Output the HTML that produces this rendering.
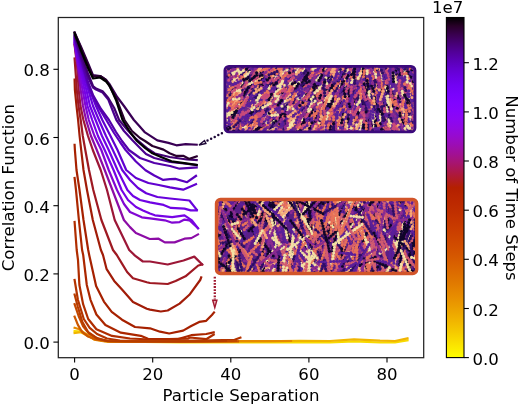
<!DOCTYPE html>
<html><head><meta charset="utf-8"><title>Correlation Function</title>
<style>html,body{margin:0;padding:0;background:#fff;width:520px;height:406px;overflow:hidden}svg{display:block}</style>
</head><body>
<svg width="520" height="406" viewBox="0 0 520 406">
<defs><linearGradient id="cb" x1="0" y1="1" x2="0" y2="0">
<stop offset="0.000" stop-color="#ffff00"/>
<stop offset="0.025" stop-color="#fcec00"/>
<stop offset="0.050" stop-color="#f9db00"/>
<stop offset="0.075" stop-color="#f5ca00"/>
<stop offset="0.100" stop-color="#f2ba00"/>
<stop offset="0.125" stop-color="#efab00"/>
<stop offset="0.150" stop-color="#eb9d00"/>
<stop offset="0.175" stop-color="#e88f00"/>
<stop offset="0.200" stop-color="#e48300"/>
<stop offset="0.225" stop-color="#e07700"/>
<stop offset="0.250" stop-color="#dd6c00"/>
<stop offset="0.275" stop-color="#d96100"/>
<stop offset="0.300" stop-color="#d55700"/>
<stop offset="0.325" stop-color="#d24e00"/>
<stop offset="0.350" stop-color="#ce4600"/>
<stop offset="0.375" stop-color="#ca3e00"/>
<stop offset="0.400" stop-color="#c63700"/>
<stop offset="0.425" stop-color="#c13000"/>
<stop offset="0.450" stop-color="#bd2a00"/>
<stop offset="0.475" stop-color="#b92500"/>
<stop offset="0.500" stop-color="#b42000"/>
<stop offset="0.525" stop-color="#b01b28"/>
<stop offset="0.550" stop-color="#ab174f"/>
<stop offset="0.575" stop-color="#a61474"/>
<stop offset="0.600" stop-color="#a11096"/>
<stop offset="0.625" stop-color="#9c0db4"/>
<stop offset="0.650" stop-color="#970bce"/>
<stop offset="0.675" stop-color="#9109e3"/>
<stop offset="0.700" stop-color="#8c07f3"/>
<stop offset="0.725" stop-color="#8605fc"/>
<stop offset="0.750" stop-color="#8004ff"/>
<stop offset="0.775" stop-color="#7903fc"/>
<stop offset="0.800" stop-color="#7202f3"/>
<stop offset="0.825" stop-color="#6b01e3"/>
<stop offset="0.850" stop-color="#6301ce"/>
<stop offset="0.875" stop-color="#5a00b4"/>
<stop offset="0.900" stop-color="#510096"/>
<stop offset="0.925" stop-color="#460074"/>
<stop offset="0.950" stop-color="#39004f"/>
<stop offset="0.975" stop-color="#280028"/>
<stop offset="1.000" stop-color="#000000"/>
</linearGradient></defs>
<rect width="520" height="406" fill="#fff"/>
<g fill="none" stroke-width="2.2" stroke-linejoin="round" stroke-linecap="square">
<polyline points="74.6,331.0 81.0,331.5 87.0,334.5 95.0,339.0 108.0,341.3 180.0,342.3 260.0,342.5 300.0,342.3 330.0,342.5 354.0,341.3 380.0,342.5 395.0,342.3 407.5,340.3" stroke="#f8da00"/>
<polyline points="74.6,333.0 80.9,332.2 86.8,335.2 95.0,339.5 108.0,341.6 180.0,341.8 260.0,341.3 300.0,340.9 330.0,341.0 354.0,339.3 380.0,340.7 395.0,341.0 407.5,338.3" stroke="#f1b500"/>
<polyline points="74.6,327.8 79.4,329.3 85.3,333.7 94.1,339.6 105.0,341.5 180.0,341.8 240.0,341.2 270.0,341.2 291.0,341.0" stroke="#e68900"/>
<polyline points="74.6,178.0 76.0,190.0 78.9,220.0 82.1,250.0 83.2,255.0 86.8,285.0 90.5,299.8 96.4,314.5 105.4,325.0 120.8,332.7 140.8,335.8 148.0,338.8 160.0,339.2 177.3,339.2 191.2,335.2 206.2,334.0 213.7,332.3" stroke="#ab2700"/>
<polyline points="74.6,222.0 76.7,250.0 78.0,260.0 79.4,285.0 83.1,304.2 88.2,319.0 96.4,329.3 112.0,335.9 130.0,338.5 150.0,339.5 187.7,338.7 190.0,337.5 206.2,339.2 213.7,334.6" stroke="#af2d00"/>
<polyline points="74.6,280.0 77.9,299.8 83.8,319.0 89.7,327.8 97.0,334.0 107.0,338.5 120.0,340.5 160.0,341.0 200.0,340.5 234.6,339.8 240.4,337.6" stroke="#b33400"/>
<polyline points="74.6,316.7 77.9,324.9 82.3,332.2 88.0,336.5 96.0,339.5 110.0,341.3 180.0,341.6 238.0,341.4" stroke="#cc5700"/>
<polyline points="74.6,304.2 78.6,316.0 83.1,326.3 89.0,333.5 97.0,338.5 108.0,341.0 150.0,341.5 200.0,341.4 236.0,341.0" stroke="#c24800"/>
<polyline points="74.6,294.6 77.9,307.0 82.3,321.9 88.2,332.2 97.1,338.1 107.4,341.1 130.0,341.5 180.0,341.3 214.0,341.0 226.0,340.6" stroke="#b73c00"/>
<polyline points="74.6,144.8 74.9,150.0 76.5,170.0 79.5,190.0 83.5,220.0 88.2,250.0 89.2,255.0 96.1,286.0 103.9,301.6 111.7,311.9 122.0,319.7 135.0,327.0 150.0,328.3 160.0,331.7 169.2,333.5 183.1,330.6 191.2,326.0 199.2,321.9 206.2,320.8 211.9,315.0 214.0,312.5" stroke="#a62100"/>
<polyline points="74.6,79.6 74.9,90.0 76.5,106.0 78.1,120.0 79.6,136.0 81.2,150.0 83.5,170.0 87.0,190.0 92.8,220.0 100.9,250.0 103.0,255.0 106.5,268.8 114.2,280.9 122.0,289.5 133.0,302.0 146.8,308.8 150.0,309.6 160.8,311.5 167.7,310.5 179.6,303.6 189.4,294.8 200.2,280.0 201.2,277.3" stroke="#a11c08"/>
<polyline points="74.6,58.5 75.8,75.0 76.8,90.0 78.5,106.0 80.7,120.0 82.8,136.0 85.3,150.0 89.0,170.0 93.3,190.0 101.4,220.0 113.0,250.0 116.8,255.0 122.0,263.6 127.1,272.0 133.0,278.3 146.8,282.2 150.0,283.0 167.7,284.0 175.6,281.0 185.5,276.3 198.3,265.5 202.2,264.5" stroke="#9e1922"/>
<polyline points="74.6,45.0 77.0,65.0 78.7,90.0 80.5,106.0 83.4,120.0 88.0,136.0 92.8,150.0 100.7,170.0 107.0,190.0 114.7,220.0 129.2,250.0 135.0,255.6 142.9,261.5 150.0,261.5 167.7,264.5 183.5,260.5 194.3,256.6 202.2,264.5" stroke="#9c1737"/>
<polyline points="74.6,44.0 77.5,65.0 80.7,90.0 83.0,106.0 86.1,120.0 91.0,136.0 96.8,150.0 104.7,170.0 112.4,190.0 123.9,220.0 130.0,227.1 135.9,233.0 149.7,239.0 158.6,238.7 164.8,242.4 174.6,242.4 184.5,238.7 191.3,238.1 198.0,234.4" stroke="#8c0ca6"/>
<polyline points="74.6,43.0 78.0,65.0 82.6,90.0 85.5,106.0 88.8,120.0 94.5,136.0 101.3,150.0 108.7,170.0 117.0,190.0 124.0,204.0 130.0,212.0 141.8,217.3 150.0,218.4 164.8,220.3 172.2,222.7 179.6,222.1 184.5,219.6 189.4,220.3 198.0,228.3" stroke="#8107d3"/>
<polyline points="74.6,42.0 79.0,65.0 84.5,90.0 87.5,106.0 92.2,120.0 98.0,136.0 104.7,150.0 113.5,170.0 121.6,190.0 128.0,200.0 136.0,207.0 143.0,210.5 150.0,213.5 154.9,215.3 172.2,217.2 184.5,215.3 191.9,220.3 198.0,228.3" stroke="#7604e5"/>
<polyline points="74.6,41.0 79.5,64.0 86.4,90.0 90.0,106.0 95.6,120.0 102.0,136.0 108.7,150.0 117.5,170.0 127.4,190.0 133.0,196.0 140.0,200.0 150.0,202.4 163.6,204.9 170.9,207.9 184.5,208.6 190.7,210.4 196.8,210.4" stroke="#6f03e4"/>
<polyline points="74.6,40.0 80.0,63.0 88.3,90.0 93.0,106.0 98.9,120.0 106.0,136.0 112.8,150.0 122.2,170.0 130.0,180.0 138.0,188.0 146.2,193.2 157.4,197.0 170.0,198.5 189.4,200.5 196.8,209.8" stroke="#6802dc"/>
<polyline points="74.6,39.0 81.0,63.0 89.8,90.0 96.0,106.0 102.3,120.0 110.0,135.0 117.5,150.0 126.2,170.0 135.9,178.0 148.4,183.0 158.8,185.0 170.0,187.3 183.2,189.7 196.0,184.2" stroke="#6101d0"/>
<polyline points="74.6,38.0 82.0,64.0 87.5,83.0 92.0,94.0 99.0,108.0 106.3,120.0 114.0,133.0 120.0,142.0 125.6,150.0 135.9,161.5 145.5,170.3 154.3,175.5 163.2,179.9 170.0,179.2 175.3,178.9 187.1,182.2 196.0,175.9" stroke="#5a01be"/>
<polyline points="74.6,37.0 82.0,62.0 88.0,82.0 93.0,95.0 101.0,109.0 109.0,120.0 116.0,132.0 122.0,141.0 128.9,150.0 140.0,158.0 154.3,163.0 170.0,166.0 179.5,168.7 196.7,167.5" stroke="#5401aa"/>
<polyline points="74.6,36.0 81.0,57.0 88.0,77.0 93.0,87.5 96.0,89.5 102.6,92.5 108.3,99.5 116.4,120.0 124.0,131.0 132.2,140.0 140.0,148.0 146.0,154.0 154.3,158.0 170.0,162.0 184.0,163.5 196.7,165.0" stroke="#4b0090"/>
<polyline points="74.6,35.0 81.0,53.0 88.0,73.5 93.0,86.0 96.0,88.5 102.6,91.3 108.3,98.0 114.2,108.0 119.1,120.0 127.5,130.0 135.0,138.0 142.0,144.0 148.0,149.0 154.9,153.5 169.6,157.0 186.9,159.5 196.7,160.1" stroke="#420072"/>
<polyline points="74.6,32.6 81.0,46.8 88.7,64.8 93.0,75.2 100.2,76.0 106.1,80.0 109.8,84.5 117.2,97.0 124.0,106.0 133.9,120.0 139.3,126.0 145.0,132.4 157.3,140.4 168.4,142.9 176.4,145.3 185.7,144.1 196.7,144.7" stroke="#390055"/>
<polyline points="74.6,32.4 81.0,48.0 88.7,66.5 93.0,76.5 100.2,76.0 106.1,80.0 110.5,88.0 116.5,99.0 124.5,120.0 132.0,131.0 140.0,138.0 145.0,141.0 152.4,146.0 163.5,149.6 169.6,153.3 175.8,155.8 183.2,155.8 189.4,158.9 196.7,156.4" stroke="#29002e"/>
<polyline points="74.6,33.5 81.0,50.5 88.7,69.5 93.0,78.5 100.2,77.5 106.1,81.5 109.8,86.0 116.0,100.0 122.5,120.0 130.0,132.0 137.0,141.0 145.0,147.8 152.4,153.3 161.0,157.0 171.5,161.3 184.4,163.2 196.7,165.0" stroke="#000000"/>
</g>
<g stroke-width="3" stroke-linecap="round">
<clipPath id="clip1"><rect x="224.9" y="66.3" width="190.1" height="65.6" rx="4"/></clipPath>
<g clip-path="url(#clip1)" stroke-dasharray="0 2.90" stroke-width="3.13">
<rect x="223.5" y="64.9" width="192.9" height="68.4" fill="#6a2a8a"/>
<line x1="244.5" y1="127.8" x2="248.5" y2="123.5" stroke="#e8705a"/>
<line x1="313.7" y1="91.2" x2="315.1" y2="88.6" stroke="#10062a"/>
<line x1="224.8" y1="126.1" x2="225.6" y2="123.4" stroke="#e8705a"/>
<line x1="269.5" y1="124.8" x2="276.5" y2="119.5" stroke="#f2e0a4"/>
<line x1="400.1" y1="66.1" x2="401.1" y2="60.4" stroke="#e8705a"/>
<line x1="414.7" y1="120.7" x2="413.7" y2="112.0" stroke="#5a1e9a"/>
<line x1="306.5" y1="99.8" x2="308.5" y2="97.7" stroke="#e8705a"/>
<line x1="410.7" y1="134.6" x2="410.9" y2="128.8" stroke="#f6a878"/>
<line x1="329.5" y1="112.3" x2="333.1" y2="107.7" stroke="#2e0e66"/>
<line x1="282.0" y1="116.2" x2="290.7" y2="115.9" stroke="#c84a7a"/>
<line x1="413.9" y1="102.6" x2="413.8" y2="96.8" stroke="#c84a7a"/>
<line x1="398.0" y1="129.7" x2="395.6" y2="121.4" stroke="#8a2a90"/>
<line x1="391.7" y1="101.9" x2="390.1" y2="93.3" stroke="#2e0e66"/>
<line x1="329.6" y1="119.0" x2="329.9" y2="110.3" stroke="#e8705a"/>
<line x1="234.7" y1="113.5" x2="239.1" y2="109.7" stroke="#5a1e9a"/>
<line x1="366.9" y1="99.6" x2="366.5" y2="93.9" stroke="#e8705a"/>
<line x1="418.3" y1="110.4" x2="415.7" y2="102.1" stroke="#5a1e9a"/>
<line x1="218.7" y1="79.1" x2="225.2" y2="73.2" stroke="#5a1e9a"/>
<line x1="322.6" y1="136.6" x2="322.8" y2="130.8" stroke="#e8705a"/>
<line x1="341.3" y1="119.5" x2="342.3" y2="113.8" stroke="#e8705a"/>
<line x1="385.2" y1="132.9" x2="383.5" y2="124.3" stroke="#e8705a"/>
<line x1="260.1" y1="136.3" x2="261.4" y2="130.6" stroke="#f2e0a4"/>
<line x1="334.0" y1="79.1" x2="334.0" y2="73.3" stroke="#8a2a90"/>
<line x1="216.9" y1="105.4" x2="222.7" y2="98.9" stroke="#5a1e9a"/>
<line x1="339.9" y1="123.8" x2="340.1" y2="120.9" stroke="#f6a878"/>
<line x1="381.1" y1="124.4" x2="378.7" y2="119.2" stroke="#10062a"/>
<line x1="409.0" y1="69.2" x2="409.2" y2="63.4" stroke="#5a1e9a"/>
<line x1="240.1" y1="111.2" x2="242.9" y2="106.1" stroke="#5a1e9a"/>
<line x1="249.2" y1="82.3" x2="257.1" y2="78.5" stroke="#e8705a"/>
<line x1="309.2" y1="87.9" x2="312.5" y2="83.1" stroke="#10062a"/>
<line x1="280.1" y1="89.2" x2="284.3" y2="85.1" stroke="#f2e0a4"/>
<line x1="321.5" y1="81.2" x2="322.4" y2="72.5" stroke="#8a2a90"/>
<line x1="415.8" y1="79.5" x2="415.2" y2="76.7" stroke="#8a2a90"/>
<line x1="320.7" y1="94.9" x2="321.7" y2="92.1" stroke="#f2e0a4"/>
<line x1="346.2" y1="115.5" x2="346.2" y2="112.6" stroke="#8a2a90"/>
<line x1="333.4" y1="89.4" x2="337.0" y2="81.5" stroke="#8a2a90"/>
<line x1="367.9" y1="71.9" x2="367.4" y2="69.1" stroke="#f6a878"/>
<line x1="278.7" y1="135.6" x2="285.0" y2="129.7" stroke="#2e0e66"/>
<line x1="333.8" y1="75.1" x2="332.2" y2="66.6" stroke="#f6a878"/>
<line x1="413.3" y1="105.8" x2="412.3" y2="103.1" stroke="#f6a878"/>
<line x1="394.6" y1="121.9" x2="393.9" y2="119.1" stroke="#5a1e9a"/>
<line x1="259.0" y1="114.7" x2="262.7" y2="110.1" stroke="#c84a7a"/>
<line x1="317.7" y1="133.8" x2="319.1" y2="131.3" stroke="#5a1e9a"/>
<line x1="394.6" y1="131.1" x2="394.7" y2="128.2" stroke="#2e0e66"/>
<line x1="392.7" y1="125.6" x2="390.9" y2="120.1" stroke="#5a1e9a"/>
<line x1="353.9" y1="129.1" x2="356.1" y2="120.7" stroke="#5a1e9a"/>
<line x1="398.0" y1="114.2" x2="395.6" y2="112.6" stroke="#10062a"/>
<line x1="226.6" y1="72.1" x2="228.7" y2="70.1" stroke="#f2e0a4"/>
<line x1="261.4" y1="121.7" x2="263.1" y2="116.1" stroke="#5a1e9a"/>
<line x1="240.6" y1="82.8" x2="244.1" y2="74.9" stroke="#e8705a"/>
<line x1="364.8" y1="100.6" x2="361.5" y2="95.8" stroke="#10062a"/>
<line x1="233.5" y1="128.3" x2="234.9" y2="125.8" stroke="#f6a878"/>
<line x1="284.9" y1="111.0" x2="291.1" y2="104.8" stroke="#c84a7a"/>
<line x1="333.1" y1="136.5" x2="333.3" y2="130.8" stroke="#f2e0a4"/>
<line x1="332.8" y1="133.0" x2="333.0" y2="130.1" stroke="#f6a878"/>
<line x1="221.0" y1="113.1" x2="223.0" y2="111.1" stroke="#8a2a90"/>
<line x1="385.4" y1="125.6" x2="385.5" y2="116.9" stroke="#8a2a90"/>
<line x1="241.4" y1="74.2" x2="244.1" y2="73.1" stroke="#2e0e66"/>
<line x1="387.9" y1="98.3" x2="390.6" y2="90.0" stroke="#f2e0a4"/>
<line x1="276.9" y1="82.6" x2="280.3" y2="77.9" stroke="#5a1e9a"/>
<line x1="258.5" y1="86.2" x2="263.9" y2="84.1" stroke="#e8705a"/>
<line x1="281.7" y1="92.8" x2="286.0" y2="88.8" stroke="#10062a"/>
<line x1="403.1" y1="136.4" x2="402.9" y2="133.5" stroke="#e8705a"/>
<line x1="376.6" y1="133.3" x2="374.9" y2="124.7" stroke="#8a2a90"/>
<line x1="288.9" y1="77.0" x2="293.0" y2="72.8" stroke="#10062a"/>
<line x1="273.6" y1="137.8" x2="278.2" y2="134.3" stroke="#10062a"/>
<line x1="334.3" y1="88.1" x2="335.5" y2="85.5" stroke="#5a1e9a"/>
<line x1="280.3" y1="126.0" x2="286.0" y2="125.3" stroke="#5a1e9a"/>
<line x1="238.8" y1="108.6" x2="240.8" y2="106.6" stroke="#10062a"/>
<line x1="265.9" y1="70.0" x2="271.0" y2="62.9" stroke="#f6a878"/>
<line x1="365.2" y1="65.3" x2="366.8" y2="59.8" stroke="#c84a7a"/>
<line x1="393.4" y1="77.0" x2="392.2" y2="68.4" stroke="#e8705a"/>
<line x1="284.5" y1="101.0" x2="286.3" y2="98.6" stroke="#f2e0a4"/>
<line x1="385.0" y1="86.7" x2="384.1" y2="84.0" stroke="#e8705a"/>
<line x1="387.4" y1="111.2" x2="387.0" y2="102.5" stroke="#f2e0a4"/>
<line x1="222.6" y1="87.9" x2="229.2" y2="82.2" stroke="#f6a878"/>
<line x1="402.0" y1="126.6" x2="401.5" y2="123.7" stroke="#5a1e9a"/>
<line x1="328.0" y1="68.9" x2="327.0" y2="60.3" stroke="#5a1e9a"/>
<line x1="377.0" y1="115.6" x2="374.5" y2="110.4" stroke="#c84a7a"/>
<line x1="390.7" y1="98.4" x2="390.3" y2="92.6" stroke="#f6a878"/>
<line x1="250.5" y1="100.7" x2="257.4" y2="95.3" stroke="#10062a"/>
<line x1="359.8" y1="109.4" x2="357.1" y2="101.1" stroke="#2e0e66"/>
<line x1="269.4" y1="128.0" x2="273.7" y2="120.4" stroke="#10062a"/>
<line x1="314.9" y1="76.3" x2="319.4" y2="72.7" stroke="#c84a7a"/>
<line x1="349.7" y1="95.8" x2="350.1" y2="93.0" stroke="#5a1e9a"/>
<line x1="358.0" y1="138.3" x2="357.1" y2="129.7" stroke="#8a2a90"/>
<line x1="330.0" y1="134.0" x2="334.2" y2="126.4" stroke="#5a1e9a"/>
<line x1="405.9" y1="123.4" x2="403.4" y2="115.0" stroke="#f2e0a4"/>
<line x1="248.1" y1="122.1" x2="255.0" y2="116.8" stroke="#5a1e9a"/>
<line x1="329.8" y1="77.8" x2="331.1" y2="69.2" stroke="#e8705a"/>
<line x1="335.6" y1="129.1" x2="342.3" y2="123.5" stroke="#5a1e9a"/>
<line x1="249.5" y1="97.7" x2="252.1" y2="89.4" stroke="#e8705a"/>
<line x1="378.0" y1="101.3" x2="375.3" y2="96.2" stroke="#c84a7a"/>
<line x1="251.4" y1="117.5" x2="253.8" y2="115.9" stroke="#c84a7a"/>
<line x1="236.4" y1="81.1" x2="239.0" y2="79.7" stroke="#f2e0a4"/>
<line x1="243.8" y1="122.5" x2="251.1" y2="117.8" stroke="#e8705a"/>
<line x1="234.0" y1="128.0" x2="238.0" y2="123.8" stroke="#8a2a90"/>
<line x1="400.8" y1="98.4" x2="403.9" y2="90.3" stroke="#f2e0a4"/>
<line x1="412.8" y1="71.3" x2="411.7" y2="68.7" stroke="#e8705a"/>
<line x1="273.0" y1="93.5" x2="277.6" y2="86.2" stroke="#10062a"/>
<line x1="253.7" y1="96.3" x2="261.6" y2="92.5" stroke="#5a1e9a"/>
<line x1="270.8" y1="75.1" x2="272.8" y2="73.1" stroke="#c84a7a"/>
<line x1="273.4" y1="106.7" x2="275.4" y2="104.6" stroke="#c84a7a"/>
<line x1="316.8" y1="126.9" x2="319.4" y2="125.7" stroke="#c84a7a"/>
<line x1="295.2" y1="83.2" x2="297.8" y2="82.0" stroke="#c84a7a"/>
<line x1="218.4" y1="85.7" x2="225.9" y2="81.4" stroke="#e8705a"/>
<line x1="416.6" y1="73.8" x2="413.6" y2="68.8" stroke="#8a2a90"/>
<line x1="354.7" y1="121.6" x2="356.5" y2="116.1" stroke="#10062a"/>
<line x1="305.8" y1="98.7" x2="311.0" y2="91.8" stroke="#e8705a"/>
<line x1="316.0" y1="112.0" x2="320.8" y2="108.8" stroke="#5a1e9a"/>
<line x1="331.3" y1="141.3" x2="331.5" y2="132.6" stroke="#f6a878"/>
<line x1="322.2" y1="139.2" x2="322.1" y2="133.4" stroke="#c84a7a"/>
<line x1="322.8" y1="136.8" x2="323.9" y2="128.2" stroke="#2e0e66"/>
<line x1="345.4" y1="104.0" x2="342.7" y2="98.9" stroke="#c84a7a"/>
<line x1="353.5" y1="108.8" x2="358.1" y2="101.5" stroke="#c84a7a"/>
<line x1="367.9" y1="133.7" x2="366.0" y2="125.3" stroke="#10062a"/>
<line x1="417.8" y1="81.3" x2="418.0" y2="78.4" stroke="#8a2a90"/>
<line x1="345.2" y1="112.1" x2="346.7" y2="106.5" stroke="#e8705a"/>
<line x1="389.6" y1="122.4" x2="389.4" y2="116.6" stroke="#f2e0a4"/>
<line x1="382.1" y1="96.1" x2="377.7" y2="88.5" stroke="#c84a7a"/>
<line x1="249.5" y1="125.9" x2="250.6" y2="123.2" stroke="#5a1e9a"/>
<line x1="238.3" y1="107.1" x2="240.3" y2="105.0" stroke="#5a1e9a"/>
<line x1="353.0" y1="66.5" x2="349.9" y2="58.3" stroke="#10062a"/>
<line x1="346.5" y1="84.8" x2="348.1" y2="79.2" stroke="#5a1e9a"/>
<line x1="258.4" y1="131.9" x2="264.1" y2="125.3" stroke="#e8705a"/>
<line x1="312.4" y1="104.5" x2="314.6" y2="102.5" stroke="#2e0e66"/>
<line x1="349.0" y1="119.4" x2="352.4" y2="111.4" stroke="#e8705a"/>
<line x1="296.9" y1="93.9" x2="299.8" y2="88.9" stroke="#e8705a"/>
<line x1="393.8" y1="90.4" x2="393.4" y2="81.7" stroke="#5a1e9a"/>
<line x1="348.5" y1="128.2" x2="356.0" y2="123.7" stroke="#8a2a90"/>
<line x1="406.2" y1="133.6" x2="405.7" y2="130.8" stroke="#c84a7a"/>
<line x1="250.4" y1="136.9" x2="255.1" y2="133.6" stroke="#c84a7a"/>
<line x1="406.8" y1="73.7" x2="407.1" y2="70.8" stroke="#2e0e66"/>
<line x1="245.5" y1="117.9" x2="249.0" y2="113.2" stroke="#5a1e9a"/>
<line x1="298.9" y1="70.7" x2="301.1" y2="68.8" stroke="#10062a"/>
<line x1="297.9" y1="99.1" x2="300.6" y2="97.9" stroke="#f2e0a4"/>
<line x1="224.5" y1="124.3" x2="232.6" y2="121.1" stroke="#10062a"/>
<line x1="359.3" y1="127.2" x2="362.5" y2="119.1" stroke="#8a2a90"/>
<line x1="352.4" y1="83.3" x2="352.9" y2="80.5" stroke="#8a2a90"/>
<line x1="318.1" y1="91.0" x2="319.8" y2="88.6" stroke="#f2e0a4"/>
<line x1="265.6" y1="85.2" x2="268.2" y2="80.0" stroke="#e8705a"/>
<line x1="284.9" y1="107.4" x2="286.7" y2="105.1" stroke="#f2e0a4"/>
<line x1="226.5" y1="123.7" x2="231.0" y2="120.0" stroke="#f6a878"/>
<line x1="276.5" y1="77.1" x2="277.9" y2="74.6" stroke="#f2e0a4"/>
<line x1="372.1" y1="74.0" x2="371.7" y2="71.1" stroke="#f2e0a4"/>
<line x1="327.7" y1="106.8" x2="329.3" y2="101.3" stroke="#2e0e66"/>
<line x1="311.5" y1="126.1" x2="313.5" y2="124.1" stroke="#c84a7a"/>
<line x1="244.5" y1="133.3" x2="246.3" y2="131.1" stroke="#8a2a90"/>
<line x1="256.6" y1="100.0" x2="258.8" y2="98.2" stroke="#e8705a"/>
<line x1="295.5" y1="110.9" x2="300.1" y2="107.3" stroke="#e8705a"/>
<line x1="265.8" y1="66.9" x2="270.9" y2="64.1" stroke="#8a2a90"/>
<line x1="359.5" y1="111.1" x2="360.0" y2="108.2" stroke="#f2e0a4"/>
<line x1="328.4" y1="106.2" x2="330.4" y2="97.8" stroke="#10062a"/>
<line x1="272.6" y1="108.9" x2="273.7" y2="106.2" stroke="#5a1e9a"/>
<line x1="415.2" y1="73.8" x2="416.1" y2="71.1" stroke="#10062a"/>
<line x1="236.5" y1="125.6" x2="239.1" y2="120.4" stroke="#c84a7a"/>
<line x1="236.4" y1="87.9" x2="242.5" y2="81.7" stroke="#2e0e66"/>
<line x1="296.8" y1="117.0" x2="300.9" y2="112.9" stroke="#10062a"/>
<line x1="324.4" y1="69.2" x2="325.4" y2="66.4" stroke="#f6a878"/>
<line x1="228.7" y1="84.4" x2="233.7" y2="77.3" stroke="#2e0e66"/>
<line x1="379.2" y1="125.4" x2="379.0" y2="119.6" stroke="#f6a878"/>
<line x1="320.1" y1="79.5" x2="320.9" y2="73.7" stroke="#c84a7a"/>
<line x1="296.5" y1="131.7" x2="299.7" y2="126.9" stroke="#c84a7a"/>
<line x1="330.3" y1="129.5" x2="333.1" y2="121.3" stroke="#e8705a"/>
<line x1="326.5" y1="130.7" x2="327.7" y2="128.1" stroke="#2e0e66"/>
<line x1="296.2" y1="88.2" x2="299.2" y2="83.2" stroke="#5a1e9a"/>
<line x1="333.7" y1="66.8" x2="336.3" y2="61.7" stroke="#8a2a90"/>
<line x1="282.0" y1="85.8" x2="285.1" y2="77.7" stroke="#e8705a"/>
<line x1="318.3" y1="103.3" x2="322.0" y2="98.8" stroke="#e8705a"/>
<line x1="332.5" y1="97.4" x2="336.7" y2="93.4" stroke="#8a2a90"/>
<line x1="402.4" y1="133.1" x2="403.4" y2="130.4" stroke="#f2e0a4"/>
<line x1="381.7" y1="75.4" x2="379.3" y2="67.0" stroke="#c84a7a"/>
<line x1="391.4" y1="83.0" x2="390.4" y2="77.3" stroke="#5a1e9a"/>
<line x1="408.3" y1="112.9" x2="409.4" y2="107.2" stroke="#5a1e9a"/>
<line x1="339.0" y1="89.7" x2="340.4" y2="84.1" stroke="#e8705a"/>
<line x1="332.1" y1="131.6" x2="333.0" y2="128.8" stroke="#e8705a"/>
<line x1="407.7" y1="112.6" x2="408.7" y2="103.9" stroke="#5a1e9a"/>
<line x1="240.9" y1="85.2" x2="241.1" y2="76.5" stroke="#c84a7a"/>
<line x1="347.8" y1="127.6" x2="348.8" y2="124.9" stroke="#c84a7a"/>
<line x1="304.8" y1="108.5" x2="307.8" y2="103.5" stroke="#e8705a"/>
<line x1="276.1" y1="130.4" x2="276.9" y2="127.6" stroke="#8a2a90"/>
<line x1="355.2" y1="103.9" x2="355.2" y2="101.0" stroke="#f6a878"/>
<line x1="365.3" y1="124.5" x2="365.4" y2="121.6" stroke="#10062a"/>
<line x1="325.5" y1="92.7" x2="327.3" y2="87.2" stroke="#10062a"/>
<line x1="343.1" y1="102.8" x2="343.4" y2="97.0" stroke="#f6a878"/>
<line x1="310.0" y1="77.8" x2="313.2" y2="73.0" stroke="#e8705a"/>
<line x1="346.6" y1="106.1" x2="350.4" y2="98.3" stroke="#5a1e9a"/>
<line x1="377.5" y1="114.0" x2="373.5" y2="106.3" stroke="#5a1e9a"/>
<line x1="298.4" y1="134.9" x2="305.9" y2="130.5" stroke="#c84a7a"/>
<line x1="278.9" y1="87.6" x2="283.7" y2="80.3" stroke="#8a2a90"/>
<line x1="246.5" y1="120.8" x2="248.9" y2="119.1" stroke="#f2e0a4"/>
<line x1="368.0" y1="107.0" x2="366.8" y2="101.3" stroke="#8a2a90"/>
<line x1="275.1" y1="112.3" x2="277.0" y2="110.2" stroke="#f2e0a4"/>
<line x1="390.2" y1="93.0" x2="388.9" y2="87.4" stroke="#5a1e9a"/>
<line x1="376.2" y1="112.4" x2="376.8" y2="106.6" stroke="#8a2a90"/>
<line x1="241.9" y1="90.7" x2="243.9" y2="85.3" stroke="#2e0e66"/>
<line x1="420.2" y1="125.9" x2="418.6" y2="120.3" stroke="#f2e0a4"/>
<line x1="300.3" y1="134.6" x2="304.6" y2="130.7" stroke="#e8705a"/>
<line x1="356.8" y1="98.1" x2="360.0" y2="90.0" stroke="#f6a878"/>
<line x1="411.6" y1="94.2" x2="408.9" y2="89.0" stroke="#10062a"/>
<line x1="243.6" y1="136.9" x2="247.5" y2="132.6" stroke="#2e0e66"/>
<line x1="375.6" y1="72.8" x2="374.7" y2="64.1" stroke="#e8705a"/>
<line x1="390.5" y1="70.5" x2="383.8" y2="64.9" stroke="#5a1e9a"/>
<line x1="303.7" y1="68.8" x2="304.8" y2="60.2" stroke="#f2e0a4"/>
<line x1="239.7" y1="104.5" x2="240.7" y2="101.8" stroke="#f2e0a4"/>
<line x1="354.9" y1="78.4" x2="359.2" y2="70.8" stroke="#f6a878"/>
<line x1="377.2" y1="116.9" x2="377.8" y2="108.3" stroke="#8a2a90"/>
<line x1="355.2" y1="101.5" x2="357.8" y2="96.3" stroke="#10062a"/>
<line x1="391.9" y1="70.2" x2="390.2" y2="67.8" stroke="#2e0e66"/>
<line x1="267.3" y1="119.5" x2="275.2" y2="115.8" stroke="#5a1e9a"/>
<line x1="316.2" y1="133.0" x2="320.7" y2="125.6" stroke="#5a1e9a"/>
<line x1="314.4" y1="64.9" x2="319.9" y2="58.2" stroke="#e8705a"/>
<line x1="406.1" y1="137.7" x2="404.9" y2="132.1" stroke="#5a1e9a"/>
<line x1="400.4" y1="72.9" x2="401.9" y2="64.3" stroke="#5a1e9a"/>
<line x1="359.5" y1="96.3" x2="363.2" y2="88.4" stroke="#c84a7a"/>
<line x1="401.2" y1="69.7" x2="400.8" y2="61.0" stroke="#c84a7a"/>
<line x1="410.7" y1="84.2" x2="408.4" y2="78.9" stroke="#5a1e9a"/>
<line x1="291.4" y1="98.9" x2="295.4" y2="94.8" stroke="#2e0e66"/>
<line x1="372.6" y1="118.7" x2="371.3" y2="116.1" stroke="#10062a"/>
<line x1="282.6" y1="117.3" x2="287.4" y2="110.0" stroke="#e8705a"/>
<line x1="418.7" y1="78.5" x2="417.6" y2="75.9" stroke="#2e0e66"/>
<line x1="246.9" y1="81.8" x2="248.4" y2="79.2" stroke="#c84a7a"/>
<line x1="386.5" y1="69.0" x2="385.6" y2="60.4" stroke="#2e0e66"/>
<line x1="332.3" y1="131.1" x2="334.8" y2="125.8" stroke="#5a1e9a"/>
<line x1="375.3" y1="128.0" x2="374.6" y2="119.3" stroke="#5a1e9a"/>
<line x1="355.9" y1="139.0" x2="356.6" y2="133.3" stroke="#5a1e9a"/>
<line x1="363.9" y1="91.3" x2="363.9" y2="88.4" stroke="#5a1e9a"/>
<line x1="374.2" y1="114.4" x2="374.2" y2="111.5" stroke="#5a1e9a"/>
<line x1="235.3" y1="140.6" x2="240.6" y2="133.8" stroke="#10062a"/>
<line x1="223.4" y1="73.2" x2="228.1" y2="69.8" stroke="#5a1e9a"/>
<line x1="364.1" y1="115.2" x2="364.2" y2="112.3" stroke="#c84a7a"/>
<line x1="281.9" y1="135.2" x2="286.4" y2="131.5" stroke="#f2e0a4"/>
<line x1="377.6" y1="119.0" x2="379.2" y2="113.4" stroke="#8a2a90"/>
<line x1="352.9" y1="111.4" x2="358.9" y2="105.2" stroke="#8a2a90"/>
<line x1="301.8" y1="134.5" x2="305.4" y2="130.0" stroke="#c84a7a"/>
<line x1="229.2" y1="100.6" x2="231.5" y2="98.9" stroke="#5a1e9a"/>
<line x1="399.0" y1="86.2" x2="400.5" y2="77.6" stroke="#5a1e9a"/>
<line x1="241.8" y1="118.2" x2="247.9" y2="112.0" stroke="#5a1e9a"/>
<line x1="351.8" y1="106.7" x2="350.1" y2="98.2" stroke="#c84a7a"/>
<line x1="335.7" y1="111.1" x2="336.7" y2="105.3" stroke="#e8705a"/>
<line x1="249.5" y1="131.4" x2="252.1" y2="130.0" stroke="#8a2a90"/>
<line x1="379.6" y1="122.3" x2="381.2" y2="116.7" stroke="#f2e0a4"/>
<line x1="250.9" y1="127.0" x2="252.3" y2="124.5" stroke="#f2e0a4"/>
<line x1="245.2" y1="86.0" x2="252.2" y2="80.9" stroke="#f6a878"/>
<line x1="337.3" y1="64.2" x2="344.2" y2="58.9" stroke="#2e0e66"/>
<line x1="370.1" y1="134.2" x2="369.1" y2="131.5" stroke="#8a2a90"/>
<line x1="378.0" y1="108.8" x2="374.1" y2="104.5" stroke="#8a2a90"/>
<line x1="311.1" y1="69.2" x2="313.6" y2="67.7" stroke="#e8705a"/>
<line x1="357.5" y1="126.8" x2="361.7" y2="119.1" stroke="#c84a7a"/>
<line x1="289.3" y1="85.6" x2="292.8" y2="77.6" stroke="#f2e0a4"/>
<line x1="349.4" y1="126.2" x2="352.8" y2="118.2" stroke="#5a1e9a"/>
<line x1="332.3" y1="89.7" x2="332.7" y2="86.8" stroke="#10062a"/>
<line x1="226.7" y1="117.4" x2="228.6" y2="112.0" stroke="#e8705a"/>
<line x1="419.5" y1="121.3" x2="419.6" y2="118.4" stroke="#c84a7a"/>
<line x1="299.9" y1="91.5" x2="305.8" y2="85.1" stroke="#5a1e9a"/>
<line x1="341.8" y1="74.8" x2="342.1" y2="69.0" stroke="#e8705a"/>
<line x1="399.6" y1="76.8" x2="397.5" y2="71.4" stroke="#e8705a"/>
<line x1="242.6" y1="108.0" x2="245.2" y2="102.9" stroke="#f2e0a4"/>
<line x1="295.3" y1="125.5" x2="297.7" y2="123.7" stroke="#5a1e9a"/>
<line x1="415.0" y1="87.5" x2="415.7" y2="84.6" stroke="#e8705a"/>
<line x1="311.1" y1="101.1" x2="313.3" y2="92.7" stroke="#f2e0a4"/>
<line x1="305.3" y1="92.4" x2="307.3" y2="90.3" stroke="#c84a7a"/>
<line x1="405.7" y1="126.5" x2="405.7" y2="123.6" stroke="#f6a878"/>
<line x1="349.1" y1="135.3" x2="352.0" y2="130.3" stroke="#e8705a"/>
<line x1="352.4" y1="126.0" x2="354.7" y2="117.7" stroke="#f6a878"/>
<line x1="409.8" y1="65.2" x2="409.7" y2="59.4" stroke="#f6a878"/>
<line x1="360.5" y1="122.8" x2="361.6" y2="120.1" stroke="#c84a7a"/>
<line x1="268.3" y1="93.8" x2="270.9" y2="92.6" stroke="#e8705a"/>
<line x1="287.2" y1="80.1" x2="289.4" y2="78.2" stroke="#2e0e66"/>
<line x1="338.0" y1="102.8" x2="336.2" y2="97.4" stroke="#5a1e9a"/>
<line x1="224.3" y1="103.2" x2="230.9" y2="97.4" stroke="#e8705a"/>
<line x1="325.6" y1="82.2" x2="329.0" y2="77.5" stroke="#10062a"/>
<line x1="349.0" y1="93.4" x2="348.7" y2="87.6" stroke="#10062a"/>
<line x1="323.4" y1="121.7" x2="323.9" y2="118.9" stroke="#f2e0a4"/>
<line x1="280.5" y1="86.1" x2="283.9" y2="78.2" stroke="#e8705a"/>
<line x1="281.1" y1="103.5" x2="285.8" y2="100.0" stroke="#f2e0a4"/>
<line x1="381.3" y1="104.6" x2="380.4" y2="101.8" stroke="#c84a7a"/>
<line x1="274.5" y1="134.6" x2="276.4" y2="129.1" stroke="#c84a7a"/>
<line x1="390.6" y1="123.1" x2="387.8" y2="118.0" stroke="#f2e0a4"/>
<line x1="270.2" y1="82.8" x2="272.6" y2="77.5" stroke="#5a1e9a"/>
<line x1="312.4" y1="73.2" x2="314.6" y2="71.4" stroke="#10062a"/>
<line x1="333.9" y1="112.0" x2="337.9" y2="104.3" stroke="#8a2a90"/>
<line x1="395.3" y1="106.3" x2="394.1" y2="103.7" stroke="#10062a"/>
<line x1="408.4" y1="76.8" x2="406.1" y2="68.4" stroke="#10062a"/>
<line x1="369.9" y1="91.5" x2="369.0" y2="88.8" stroke="#e8705a"/>
<line x1="329.3" y1="134.7" x2="329.2" y2="128.9" stroke="#2e0e66"/>
<line x1="259.7" y1="117.2" x2="260.7" y2="114.5" stroke="#5a1e9a"/>
<line x1="359.6" y1="91.1" x2="364.4" y2="83.9" stroke="#5a1e9a"/>
<line x1="321.5" y1="87.9" x2="324.1" y2="79.6" stroke="#c84a7a"/>
<line x1="342.4" y1="121.4" x2="343.8" y2="115.8" stroke="#c84a7a"/>
<line x1="226.8" y1="123.6" x2="233.1" y2="117.6" stroke="#f6a878"/>
<line x1="238.8" y1="97.0" x2="245.4" y2="91.3" stroke="#5a1e9a"/>
<line x1="257.3" y1="101.4" x2="265.3" y2="98.0" stroke="#5a1e9a"/>
<line x1="408.7" y1="115.6" x2="410.9" y2="107.2" stroke="#2e0e66"/>
<line x1="363.4" y1="81.8" x2="363.3" y2="78.9" stroke="#f2e0a4"/>
<line x1="331.2" y1="115.7" x2="333.9" y2="107.4" stroke="#c84a7a"/>
<line x1="271.4" y1="113.6" x2="275.1" y2="105.7" stroke="#5a1e9a"/>
<line x1="301.2" y1="86.1" x2="302.7" y2="77.5" stroke="#8a2a90"/>
<line x1="271.0" y1="71.4" x2="277.3" y2="65.4" stroke="#10062a"/>
<line x1="371.8" y1="101.0" x2="370.1" y2="95.5" stroke="#f6a878"/>
<line x1="326.0" y1="135.5" x2="329.5" y2="127.5" stroke="#e8705a"/>
<line x1="389.9" y1="126.0" x2="389.2" y2="123.2" stroke="#f2e0a4"/>
<line x1="339.1" y1="76.9" x2="339.1" y2="74.0" stroke="#5a1e9a"/>
<line x1="351.4" y1="107.1" x2="352.2" y2="104.3" stroke="#5a1e9a"/>
<line x1="229.1" y1="67.1" x2="230.7" y2="61.5" stroke="#8a2a90"/>
<line x1="337.0" y1="70.2" x2="336.4" y2="61.5" stroke="#8a2a90"/>
<line x1="418.9" y1="124.7" x2="419.1" y2="118.9" stroke="#5a1e9a"/>
<line x1="289.7" y1="135.7" x2="290.8" y2="133.0" stroke="#c84a7a"/>
<line x1="403.7" y1="99.9" x2="400.9" y2="94.8" stroke="#f6a878"/>
<line x1="337.9" y1="105.9" x2="340.6" y2="100.8" stroke="#10062a"/>
<line x1="340.9" y1="125.6" x2="342.1" y2="117.0" stroke="#f6a878"/>
<line x1="333.0" y1="73.3" x2="337.3" y2="65.8" stroke="#c84a7a"/>
<line x1="238.4" y1="86.9" x2="241.1" y2="85.7" stroke="#c84a7a"/>
<line x1="336.0" y1="102.3" x2="337.1" y2="93.6" stroke="#10062a"/>
<line x1="327.1" y1="87.6" x2="328.7" y2="85.3" stroke="#f2e0a4"/>
<line x1="289.7" y1="75.7" x2="294.3" y2="68.4" stroke="#2e0e66"/>
<line x1="240.6" y1="88.0" x2="241.8" y2="82.3" stroke="#f6a878"/>
<line x1="341.4" y1="65.2" x2="342.2" y2="62.4" stroke="#e8705a"/>
<line x1="267.1" y1="123.4" x2="271.0" y2="119.1" stroke="#c84a7a"/>
<line x1="343.7" y1="68.1" x2="343.8" y2="65.2" stroke="#f2e0a4"/>
<line x1="410.5" y1="96.9" x2="411.2" y2="88.2" stroke="#5a1e9a"/>
<line x1="259.4" y1="83.7" x2="264.2" y2="80.5" stroke="#10062a"/>
<line x1="320.8" y1="125.1" x2="324.0" y2="117.0" stroke="#10062a"/>
<line x1="280.6" y1="135.3" x2="285.2" y2="127.9" stroke="#2e0e66"/>
<line x1="306.4" y1="90.9" x2="310.3" y2="86.5" stroke="#8a2a90"/>
<line x1="249.7" y1="106.9" x2="255.1" y2="100.0" stroke="#c84a7a"/>
<line x1="353.3" y1="129.0" x2="352.3" y2="126.2" stroke="#5a1e9a"/>
<line x1="334.9" y1="138.7" x2="340.2" y2="131.9" stroke="#2e0e66"/>
<line x1="270.2" y1="76.4" x2="275.9" y2="75.4" stroke="#f2e0a4"/>
<line x1="340.7" y1="91.7" x2="345.3" y2="84.3" stroke="#10062a"/>
<line x1="417.0" y1="64.8" x2="416.5" y2="61.9" stroke="#5a1e9a"/>
<line x1="397.5" y1="102.4" x2="398.0" y2="99.5" stroke="#10062a"/>
<line x1="324.9" y1="79.7" x2="326.3" y2="74.1" stroke="#5a1e9a"/>
<line x1="408.6" y1="70.8" x2="409.8" y2="62.2" stroke="#2e0e66"/>
<line x1="355.4" y1="86.0" x2="358.6" y2="81.2" stroke="#5a1e9a"/>
<line x1="314.9" y1="135.5" x2="319.9" y2="128.4" stroke="#c84a7a"/>
<line x1="353.3" y1="136.5" x2="352.8" y2="130.8" stroke="#5a1e9a"/>
<line x1="347.4" y1="79.6" x2="351.5" y2="72.0" stroke="#f6a878"/>
<line x1="412.8" y1="128.3" x2="408.7" y2="120.7" stroke="#f6a878"/>
<line x1="339.5" y1="120.2" x2="340.5" y2="114.5" stroke="#c84a7a"/>
<line x1="250.6" y1="83.3" x2="254.9" y2="79.4" stroke="#c84a7a"/>
<line x1="269.4" y1="88.4" x2="273.7" y2="80.8" stroke="#e8705a"/>
<line x1="377.1" y1="97.2" x2="376.0" y2="94.5" stroke="#e8705a"/>
<line x1="405.1" y1="118.4" x2="405.8" y2="109.8" stroke="#2e0e66"/>
<line x1="392.4" y1="66.4" x2="393.1" y2="63.6" stroke="#5a1e9a"/>
<line x1="326.4" y1="67.3" x2="330.0" y2="62.8" stroke="#10062a"/>
<line x1="286.3" y1="106.9" x2="288.5" y2="105.0" stroke="#e8705a"/>
<line x1="284.7" y1="116.5" x2="286.3" y2="107.9" stroke="#10062a"/>
<line x1="377.0" y1="84.7" x2="375.9" y2="82.0" stroke="#f2e0a4"/>
<line x1="358.3" y1="78.8" x2="362.1" y2="71.0" stroke="#e8705a"/>
<line x1="348.7" y1="86.9" x2="347.8" y2="81.1" stroke="#f6a878"/>
<line x1="391.1" y1="135.5" x2="392.6" y2="129.9" stroke="#f2e0a4"/>
<line x1="341.1" y1="110.9" x2="342.1" y2="105.2" stroke="#5a1e9a"/>
<line x1="344.0" y1="118.8" x2="344.9" y2="113.1" stroke="#e8705a"/>
<line x1="396.8" y1="63.8" x2="395.4" y2="58.2" stroke="#2e0e66"/>
<line x1="247.5" y1="139.2" x2="250.3" y2="134.2" stroke="#c84a7a"/>
<line x1="396.6" y1="104.2" x2="393.7" y2="96.0" stroke="#e8705a"/>
<line x1="381.8" y1="114.4" x2="382.8" y2="108.7" stroke="#10062a"/>
<line x1="280.2" y1="71.5" x2="283.6" y2="63.5" stroke="#e8705a"/>
<line x1="370.5" y1="139.4" x2="369.6" y2="133.6" stroke="#8a2a90"/>
<line x1="377.7" y1="66.3" x2="376.5" y2="63.7" stroke="#2e0e66"/>
<line x1="405.4" y1="137.0" x2="404.3" y2="134.3" stroke="#5a1e9a"/>
<line x1="354.2" y1="94.6" x2="355.0" y2="91.8" stroke="#10062a"/>
<line x1="327.2" y1="87.7" x2="327.9" y2="84.9" stroke="#c84a7a"/>
<line x1="330.6" y1="100.9" x2="333.0" y2="92.5" stroke="#5a1e9a"/>
<line x1="265.1" y1="77.7" x2="267.7" y2="76.3" stroke="#5a1e9a"/>
<line x1="330.8" y1="96.9" x2="331.3" y2="94.1" stroke="#c84a7a"/>
<line x1="320.3" y1="69.3" x2="321.9" y2="66.8" stroke="#5a1e9a"/>
<line x1="251.0" y1="131.9" x2="258.9" y2="128.3" stroke="#2e0e66"/>
<line x1="386.7" y1="73.8" x2="387.0" y2="70.9" stroke="#e8705a"/>
<line x1="412.7" y1="66.8" x2="412.7" y2="63.9" stroke="#e8705a"/>
<line x1="240.2" y1="79.3" x2="246.7" y2="73.4" stroke="#e8705a"/>
<line x1="234.3" y1="124.3" x2="239.9" y2="117.6" stroke="#5a1e9a"/>
<line x1="304.3" y1="81.3" x2="304.6" y2="78.5" stroke="#e8705a"/>
<line x1="375.2" y1="89.7" x2="371.2" y2="81.9" stroke="#f6a878"/>
<line x1="295.0" y1="113.4" x2="297.6" y2="112.1" stroke="#8a2a90"/>
<line x1="264.6" y1="126.0" x2="272.6" y2="122.6" stroke="#e8705a"/>
<line x1="266.8" y1="122.7" x2="268.5" y2="117.2" stroke="#f2e0a4"/>
<line x1="324.5" y1="133.4" x2="328.4" y2="129.1" stroke="#8a2a90"/>
<line x1="291.2" y1="87.5" x2="294.2" y2="82.5" stroke="#c84a7a"/>
<line x1="291.1" y1="87.4" x2="296.6" y2="80.6" stroke="#e8705a"/>
<line x1="246.2" y1="98.7" x2="252.9" y2="93.1" stroke="#2e0e66"/>
<line x1="249.9" y1="125.2" x2="253.8" y2="120.8" stroke="#2e0e66"/>
<line x1="391.2" y1="87.5" x2="391.7" y2="81.7" stroke="#2e0e66"/>
<line x1="288.3" y1="97.1" x2="292.7" y2="93.4" stroke="#10062a"/>
<line x1="256.0" y1="102.7" x2="258.1" y2="100.8" stroke="#e8705a"/>
<line x1="255.5" y1="89.5" x2="260.5" y2="86.7" stroke="#f6a878"/>
<line x1="377.6" y1="113.0" x2="375.5" y2="104.6" stroke="#5a1e9a"/>
<line x1="351.9" y1="79.2" x2="349.9" y2="70.8" stroke="#e8705a"/>
<line x1="378.8" y1="68.4" x2="380.9" y2="63.0" stroke="#5a1e9a"/>
<line x1="296.2" y1="89.3" x2="304.7" y2="87.5" stroke="#c84a7a"/>
<line x1="257.6" y1="136.3" x2="259.9" y2="134.6" stroke="#5a1e9a"/>
<line x1="399.0" y1="76.0" x2="397.8" y2="67.4" stroke="#c84a7a"/>
<line x1="397.9" y1="111.1" x2="398.5" y2="102.4" stroke="#e8705a"/>
<line x1="393.8" y1="97.2" x2="391.8" y2="91.7" stroke="#2e0e66"/>
<line x1="381.4" y1="83.5" x2="380.8" y2="80.6" stroke="#e8705a"/>
<line x1="245.2" y1="77.7" x2="247.4" y2="75.9" stroke="#e8705a"/>
<line x1="232.5" y1="81.5" x2="239.6" y2="76.5" stroke="#f6a878"/>
<line x1="233.8" y1="113.1" x2="240.2" y2="107.1" stroke="#e8705a"/>
<line x1="387.3" y1="116.3" x2="387.5" y2="113.5" stroke="#5a1e9a"/>
<line x1="397.5" y1="105.9" x2="399.0" y2="100.3" stroke="#c84a7a"/>
<line x1="245.6" y1="68.8" x2="247.9" y2="63.5" stroke="#e8705a"/>
<line x1="408.1" y1="116.3" x2="405.9" y2="107.9" stroke="#10062a"/>
<line x1="285.0" y1="127.6" x2="289.8" y2="124.3" stroke="#10062a"/>
<line x1="350.4" y1="129.1" x2="353.1" y2="124.0" stroke="#5a1e9a"/>
<line x1="270.3" y1="125.5" x2="274.2" y2="121.2" stroke="#f2e0a4"/>
<line x1="302.0" y1="62.8" x2="304.2" y2="60.9" stroke="#8a2a90"/>
<line x1="405.7" y1="80.4" x2="405.8" y2="74.6" stroke="#e8705a"/>
<line x1="364.3" y1="100.1" x2="363.6" y2="97.2" stroke="#5a1e9a"/>
<line x1="286.6" y1="93.8" x2="293.7" y2="88.7" stroke="#e8705a"/>
<line x1="358.1" y1="78.2" x2="360.7" y2="73.0" stroke="#f2e0a4"/>
<line x1="267.3" y1="117.8" x2="269.2" y2="115.6" stroke="#10062a"/>
<line x1="232.5" y1="103.2" x2="234.8" y2="97.9" stroke="#f2e0a4"/>
<line x1="379.6" y1="106.8" x2="378.9" y2="101.0" stroke="#8a2a90"/>
<line x1="293.7" y1="119.0" x2="300.4" y2="113.5" stroke="#c84a7a"/>
<line x1="228.6" y1="118.9" x2="231.2" y2="113.8" stroke="#8a2a90"/>
<line x1="356.9" y1="114.3" x2="358.4" y2="108.7" stroke="#2e0e66"/>
<line x1="245.5" y1="132.9" x2="247.6" y2="131.0" stroke="#f2e0a4"/>
<line x1="332.8" y1="136.3" x2="334.1" y2="133.7" stroke="#c84a7a"/>
<line x1="396.9" y1="110.3" x2="397.5" y2="104.6" stroke="#e8705a"/>
<line x1="320.6" y1="139.0" x2="323.1" y2="133.7" stroke="#2e0e66"/>
<line x1="250.6" y1="74.2" x2="256.4" y2="67.7" stroke="#c84a7a"/>
<line x1="279.5" y1="107.2" x2="283.3" y2="99.3" stroke="#5a1e9a"/>
<line x1="322.7" y1="102.3" x2="325.2" y2="97.0" stroke="#c84a7a"/>
<line x1="378.2" y1="85.4" x2="377.3" y2="79.6" stroke="#10062a"/>
<line x1="292.9" y1="114.1" x2="298.8" y2="107.8" stroke="#2e0e66"/>
<line x1="398.4" y1="96.6" x2="397.2" y2="93.9" stroke="#10062a"/>
<line x1="365.2" y1="71.2" x2="363.9" y2="65.5" stroke="#2e0e66"/>
<line x1="297.8" y1="101.3" x2="300.8" y2="93.1" stroke="#2e0e66"/>
<line x1="416.2" y1="98.1" x2="414.9" y2="92.5" stroke="#5a1e9a"/>
<line x1="288.5" y1="119.6" x2="290.7" y2="117.7" stroke="#c84a7a"/>
<line x1="381.5" y1="69.9" x2="378.4" y2="61.8" stroke="#5a1e9a"/>
<line x1="390.3" y1="96.1" x2="390.1" y2="93.2" stroke="#e8705a"/>
<line x1="273.6" y1="94.5" x2="277.1" y2="89.9" stroke="#c84a7a"/>
<line x1="251.6" y1="106.5" x2="253.4" y2="98.0" stroke="#f6a878"/>
<line x1="319.5" y1="87.7" x2="322.6" y2="82.9" stroke="#f2e0a4"/>
<line x1="341.2" y1="80.8" x2="343.3" y2="75.4" stroke="#e8705a"/>
<line x1="249.3" y1="116.8" x2="252.3" y2="111.8" stroke="#10062a"/>
<line x1="249.1" y1="90.7" x2="250.8" y2="88.3" stroke="#5a1e9a"/>
<line x1="363.4" y1="88.3" x2="363.6" y2="79.6" stroke="#5a1e9a"/>
<line x1="335.4" y1="87.6" x2="337.2" y2="82.1" stroke="#2e0e66"/>
<line x1="249.5" y1="70.2" x2="251.1" y2="67.7" stroke="#c84a7a"/>
<line x1="279.2" y1="125.9" x2="286.9" y2="121.8" stroke="#5a1e9a"/>
<line x1="335.7" y1="106.7" x2="336.9" y2="101.0" stroke="#5a1e9a"/>
<line x1="356.4" y1="127.7" x2="360.2" y2="119.9" stroke="#5a1e9a"/>
<line x1="338.3" y1="82.5" x2="339.6" y2="76.8" stroke="#f2e0a4"/>
<line x1="371.9" y1="88.9" x2="372.3" y2="83.1" stroke="#c84a7a"/>
<line x1="396.9" y1="129.0" x2="396.1" y2="126.2" stroke="#e8705a"/>
<line x1="391.5" y1="87.3" x2="390.4" y2="78.6" stroke="#5a1e9a"/>
<line x1="374.5" y1="65.9" x2="375.4" y2="57.2" stroke="#f2e0a4"/>
<line x1="412.5" y1="108.5" x2="412.2" y2="105.6" stroke="#5a1e9a"/>
<line x1="385.7" y1="86.5" x2="383.9" y2="84.3" stroke="#e8705a"/>
<line x1="276.5" y1="96.1" x2="280.5" y2="92.0" stroke="#f2e0a4"/>
<line x1="241.0" y1="122.5" x2="242.7" y2="120.1" stroke="#e8705a"/>
<line x1="247.0" y1="98.4" x2="250.0" y2="90.2" stroke="#c84a7a"/>
<line x1="274.3" y1="133.7" x2="276.0" y2="131.4" stroke="#2e0e66"/>
<line x1="414.5" y1="77.5" x2="414.2" y2="68.8" stroke="#c84a7a"/>
<line x1="303.3" y1="129.1" x2="309.0" y2="122.5" stroke="#f6a878"/>
<line x1="359.9" y1="86.4" x2="361.3" y2="83.9" stroke="#5a1e9a"/>
<line x1="358.0" y1="107.4" x2="359.4" y2="104.9" stroke="#f2e0a4"/>
<line x1="235.9" y1="104.0" x2="239.1" y2="99.2" stroke="#e8705a"/>
<line x1="274.9" y1="118.6" x2="276.7" y2="116.3" stroke="#5a1e9a"/>
<line x1="222.4" y1="99.2" x2="228.6" y2="93.2" stroke="#f2e0a4"/>
<line x1="219.4" y1="115.0" x2="221.7" y2="113.3" stroke="#5a1e9a"/>
<line x1="322.8" y1="67.5" x2="324.7" y2="65.3" stroke="#f6a878"/>
<line x1="282.4" y1="97.1" x2="289.9" y2="92.7" stroke="#c84a7a"/>
<line x1="349.1" y1="114.4" x2="351.8" y2="109.3" stroke="#f2e0a4"/>
<line x1="293.1" y1="96.8" x2="300.1" y2="91.7" stroke="#f2e0a4"/>
<line x1="256.8" y1="74.1" x2="260.8" y2="69.8" stroke="#8a2a90"/>
<line x1="342.7" y1="105.5" x2="344.1" y2="103.0" stroke="#2e0e66"/>
<line x1="383.3" y1="103.9" x2="385.3" y2="98.5" stroke="#8a2a90"/>
<line x1="392.3" y1="118.4" x2="392.1" y2="109.7" stroke="#5a1e9a"/>
<line x1="301.9" y1="88.1" x2="303.8" y2="85.9" stroke="#e8705a"/>
<line x1="324.7" y1="108.5" x2="324.6" y2="102.7" stroke="#10062a"/>
<line x1="392.2" y1="110.8" x2="393.1" y2="108.1" stroke="#5a1e9a"/>
<line x1="245.6" y1="64.3" x2="253.8" y2="61.3" stroke="#10062a"/>
<line x1="230.5" y1="123.2" x2="235.5" y2="120.2" stroke="#c84a7a"/>
<line x1="319.0" y1="74.9" x2="321.4" y2="66.5" stroke="#e8705a"/>
<line x1="295.1" y1="109.5" x2="302.1" y2="104.3" stroke="#5a1e9a"/>
<line x1="387.1" y1="86.5" x2="386.4" y2="83.7" stroke="#10062a"/>
<line x1="338.1" y1="128.5" x2="338.7" y2="125.7" stroke="#f2e0a4"/>
<line x1="255.7" y1="116.5" x2="262.0" y2="110.6" stroke="#10062a"/>
<line x1="321.0" y1="134.6" x2="323.9" y2="126.4" stroke="#10062a"/>
<line x1="302.1" y1="86.1" x2="309.3" y2="81.2" stroke="#10062a"/>
<line x1="338.8" y1="84.9" x2="339.4" y2="79.2" stroke="#f2e0a4"/>
<line x1="395.2" y1="122.8" x2="393.1" y2="117.4" stroke="#8a2a90"/>
<line x1="228.6" y1="102.3" x2="232.4" y2="98.0" stroke="#c84a7a"/>
<line x1="254.4" y1="103.8" x2="258.0" y2="95.9" stroke="#8a2a90"/>
<line x1="413.3" y1="116.7" x2="414.3" y2="111.0" stroke="#8a2a90"/>
<line x1="345.7" y1="85.7" x2="346.5" y2="82.9" stroke="#f2e0a4"/>
<line x1="316.3" y1="125.4" x2="321.0" y2="121.9" stroke="#e8705a"/>
<line x1="327.5" y1="85.3" x2="328.9" y2="82.8" stroke="#c84a7a"/>
<line x1="243.5" y1="97.9" x2="251.0" y2="93.5" stroke="#f2e0a4"/>
<line x1="327.8" y1="71.8" x2="328.9" y2="69.1" stroke="#c84a7a"/>
<line x1="374.0" y1="109.9" x2="374.3" y2="107.0" stroke="#e8705a"/>
<line x1="365.2" y1="100.7" x2="365.1" y2="97.8" stroke="#c84a7a"/>
<line x1="240.2" y1="117.2" x2="243.8" y2="109.3" stroke="#c84a7a"/>
<line x1="399.0" y1="70.5" x2="396.6" y2="65.2" stroke="#c84a7a"/>
<line x1="337.3" y1="114.2" x2="338.3" y2="111.4" stroke="#f6a878"/>
<line x1="242.0" y1="102.4" x2="244.1" y2="100.4" stroke="#2e0e66"/>
<line x1="246.1" y1="129.6" x2="253.2" y2="124.5" stroke="#f6a878"/>
<line x1="304.7" y1="109.7" x2="309.2" y2="106.0" stroke="#c84a7a"/>
<line x1="268.4" y1="127.4" x2="270.3" y2="125.2" stroke="#8a2a90"/>
<line x1="412.1" y1="127.9" x2="414.7" y2="122.8" stroke="#8a2a90"/>
<line x1="382.8" y1="79.3" x2="381.3" y2="70.8" stroke="#f2e0a4"/>
<line x1="372.4" y1="136.5" x2="371.0" y2="130.9" stroke="#5a1e9a"/>
<line x1="289.5" y1="131.0" x2="292.2" y2="130.0" stroke="#f6a878"/>
<line x1="229.5" y1="68.2" x2="233.3" y2="63.8" stroke="#5a1e9a"/>
<line x1="261.3" y1="84.5" x2="265.1" y2="76.7" stroke="#5a1e9a"/>
<line x1="315.4" y1="121.2" x2="315.5" y2="112.5" stroke="#10062a"/>
<line x1="281.6" y1="121.5" x2="282.9" y2="118.9" stroke="#f6a878"/>
<line x1="358.8" y1="91.2" x2="357.2" y2="88.8" stroke="#e8705a"/>
<line x1="294.0" y1="103.5" x2="298.7" y2="100.1" stroke="#e8705a"/>
<line x1="397.9" y1="117.3" x2="397.1" y2="111.6" stroke="#5a1e9a"/>
<line x1="285.0" y1="82.3" x2="288.2" y2="77.5" stroke="#5a1e9a"/>
<line x1="347.3" y1="110.5" x2="350.1" y2="102.2" stroke="#8a2a90"/>
<line x1="330.3" y1="94.5" x2="331.2" y2="91.8" stroke="#8a2a90"/>
<line x1="230.7" y1="93.3" x2="232.7" y2="87.9" stroke="#c84a7a"/>
<line x1="259.2" y1="82.9" x2="260.8" y2="80.4" stroke="#5a1e9a"/>
<line x1="410.3" y1="107.9" x2="407.8" y2="99.6" stroke="#e8705a"/>
<line x1="408.7" y1="131.2" x2="409.4" y2="128.4" stroke="#e8705a"/>
<line x1="308.7" y1="120.2" x2="312.8" y2="116.2" stroke="#2e0e66"/>
<line x1="234.4" y1="118.6" x2="238.6" y2="111.0" stroke="#2e0e66"/>
<line x1="373.3" y1="137.9" x2="373.5" y2="132.1" stroke="#f6a878"/>
<line x1="375.6" y1="104.0" x2="373.4" y2="95.6" stroke="#10062a"/>
<line x1="354.1" y1="131.1" x2="355.2" y2="128.4" stroke="#5a1e9a"/>
<line x1="223.4" y1="121.2" x2="231.5" y2="118.1" stroke="#5a1e9a"/>
<line x1="277.8" y1="104.5" x2="284.9" y2="99.4" stroke="#5a1e9a"/>
<line x1="281.7" y1="122.2" x2="288.7" y2="117.0" stroke="#5a1e9a"/>
<line x1="340.0" y1="140.7" x2="341.3" y2="132.1" stroke="#e8705a"/>
<line x1="260.7" y1="137.5" x2="265.7" y2="130.4" stroke="#5a1e9a"/>
<line x1="216.7" y1="99.8" x2="224.3" y2="95.5" stroke="#e8705a"/>
<line x1="248.1" y1="80.3" x2="250.2" y2="78.4" stroke="#2e0e66"/>
<line x1="383.1" y1="139.0" x2="383.2" y2="130.3" stroke="#10062a"/>
<line x1="294.8" y1="116.6" x2="299.3" y2="113.0" stroke="#f6a878"/>
<line x1="359.5" y1="85.9" x2="361.0" y2="83.4" stroke="#e8705a"/>
<line x1="276.9" y1="137.3" x2="278.5" y2="134.8" stroke="#10062a"/>
<line x1="263.7" y1="104.7" x2="268.1" y2="97.1" stroke="#f6a878"/>
<line x1="310.5" y1="107.7" x2="312.7" y2="105.9" stroke="#2e0e66"/>
<line x1="264.8" y1="79.6" x2="272.0" y2="74.9" stroke="#5a1e9a"/>
<line x1="280.4" y1="132.3" x2="282.3" y2="130.1" stroke="#c84a7a"/>
<line x1="391.4" y1="96.1" x2="391.1" y2="93.2" stroke="#10062a"/>
<line x1="309.4" y1="85.2" x2="311.3" y2="83.1" stroke="#10062a"/>
<line x1="344.0" y1="74.0" x2="350.7" y2="68.5" stroke="#e8705a"/>
<line x1="353.2" y1="64.2" x2="354.3" y2="61.5" stroke="#f6a878"/>
<line x1="253.3" y1="102.6" x2="255.2" y2="100.5" stroke="#5a1e9a"/>
<line x1="229.7" y1="131.1" x2="234.5" y2="123.8" stroke="#c84a7a"/>
<line x1="256.1" y1="62.9" x2="261.2" y2="60.1" stroke="#5a1e9a"/>
<line x1="419.0" y1="93.0" x2="416.5" y2="87.7" stroke="#5a1e9a"/>
<line x1="253.3" y1="99.3" x2="258.0" y2="95.8" stroke="#2e0e66"/>
<line x1="343.9" y1="102.5" x2="343.3" y2="99.7" stroke="#5a1e9a"/>
<line x1="296.5" y1="131.5" x2="302.0" y2="124.8" stroke="#f6a878"/>
<line x1="313.8" y1="100.3" x2="316.0" y2="98.3" stroke="#2e0e66"/>
<line x1="301.3" y1="93.5" x2="302.7" y2="87.9" stroke="#c84a7a"/>
<line x1="260.9" y1="87.8" x2="265.5" y2="80.5" stroke="#10062a"/>
<line x1="331.9" y1="79.3" x2="335.9" y2="71.6" stroke="#e8705a"/>
<line x1="398.3" y1="82.8" x2="397.1" y2="74.2" stroke="#f6a878"/>
<line x1="398.1" y1="63.5" x2="398.0" y2="60.6" stroke="#f6a878"/>
<line x1="226.7" y1="107.0" x2="228.3" y2="104.5" stroke="#c84a7a"/>
<line x1="383.3" y1="136.6" x2="382.1" y2="128.0" stroke="#8a2a90"/>
<line x1="262.8" y1="74.6" x2="266.2" y2="66.6" stroke="#5a1e9a"/>
<line x1="384.2" y1="108.2" x2="383.1" y2="102.5" stroke="#5a1e9a"/>
<line x1="297.6" y1="93.4" x2="303.8" y2="87.4" stroke="#f6a878"/>
<line x1="253.6" y1="130.9" x2="258.1" y2="123.5" stroke="#f6a878"/>
<line x1="233.0" y1="95.3" x2="236.5" y2="90.6" stroke="#f2e0a4"/>
<line x1="344.8" y1="120.7" x2="345.6" y2="117.9" stroke="#8a2a90"/>
<line x1="321.4" y1="133.0" x2="323.3" y2="124.5" stroke="#c84a7a"/>
<line x1="342.6" y1="90.8" x2="343.5" y2="82.2" stroke="#2e0e66"/>
<line x1="356.8" y1="118.4" x2="358.4" y2="112.8" stroke="#10062a"/>
<line x1="320.2" y1="73.0" x2="320.2" y2="67.2" stroke="#10062a"/>
<line x1="233.9" y1="112.2" x2="239.0" y2="105.2" stroke="#10062a"/>
<line x1="309.5" y1="93.8" x2="312.6" y2="88.9" stroke="#f6a878"/>
<line x1="354.6" y1="114.4" x2="356.8" y2="109.0" stroke="#c84a7a"/>
<line x1="407.3" y1="64.9" x2="406.5" y2="62.1" stroke="#5a1e9a"/>
<line x1="272.7" y1="77.1" x2="274.3" y2="71.6" stroke="#10062a"/>
<line x1="395.2" y1="80.5" x2="394.9" y2="77.6" stroke="#5a1e9a"/>
<line x1="388.8" y1="118.2" x2="389.7" y2="112.5" stroke="#2e0e66"/>
<line x1="254.5" y1="68.1" x2="256.5" y2="66.1" stroke="#2e0e66"/>
<line x1="218.8" y1="104.4" x2="222.1" y2="99.7" stroke="#5a1e9a"/>
<line x1="408.6" y1="115.1" x2="407.0" y2="109.6" stroke="#2e0e66"/>
<line x1="226.2" y1="127.8" x2="229.1" y2="122.8" stroke="#5a1e9a"/>
<line x1="286.0" y1="132.5" x2="288.4" y2="130.7" stroke="#8a2a90"/>
<line x1="366.7" y1="97.3" x2="366.3" y2="88.6" stroke="#c84a7a"/>
<line x1="321.2" y1="100.8" x2="321.8" y2="98.0" stroke="#5a1e9a"/>
<line x1="299.6" y1="98.3" x2="305.3" y2="97.1" stroke="#f2e0a4"/>
<line x1="329.9" y1="85.6" x2="330.7" y2="79.9" stroke="#c84a7a"/>
<line x1="384.3" y1="119.7" x2="381.0" y2="111.6" stroke="#10062a"/>
<line x1="361.2" y1="93.5" x2="362.7" y2="87.9" stroke="#f2e0a4"/>
<line x1="379.9" y1="81.5" x2="380.9" y2="78.8" stroke="#5a1e9a"/>
<line x1="241.2" y1="66.3" x2="243.2" y2="64.2" stroke="#10062a"/>
<line x1="329.4" y1="112.3" x2="330.3" y2="109.6" stroke="#c84a7a"/>
<line x1="398.9" y1="112.7" x2="397.4" y2="107.1" stroke="#c84a7a"/>
<line x1="239.0" y1="130.6" x2="244.4" y2="128.5" stroke="#5a1e9a"/>
<line x1="264.4" y1="120.5" x2="266.7" y2="112.1" stroke="#5a1e9a"/>
<line x1="303.5" y1="117.3" x2="307.2" y2="112.8" stroke="#2e0e66"/>
<line x1="393.0" y1="88.7" x2="390.4" y2="83.6" stroke="#f2e0a4"/>
<line x1="231.7" y1="106.9" x2="234.3" y2="105.5" stroke="#2e0e66"/>
<line x1="364.4" y1="126.6" x2="363.7" y2="123.8" stroke="#c84a7a"/>
<line x1="313.2" y1="118.5" x2="317.5" y2="110.9" stroke="#e8705a"/>
<line x1="374.4" y1="88.1" x2="375.2" y2="79.4" stroke="#2e0e66"/>
<line x1="298.9" y1="99.4" x2="300.8" y2="97.2" stroke="#10062a"/>
<line x1="267.7" y1="79.5" x2="271.3" y2="74.9" stroke="#8a2a90"/>
<line x1="336.0" y1="95.6" x2="339.8" y2="91.3" stroke="#10062a"/>
<line x1="343.0" y1="124.5" x2="341.5" y2="116.0" stroke="#e8705a"/>
<line x1="409.9" y1="69.3" x2="409.9" y2="66.4" stroke="#e8705a"/>
<line x1="298.2" y1="104.3" x2="302.4" y2="100.3" stroke="#e8705a"/>
<line x1="395.1" y1="116.3" x2="389.5" y2="109.6" stroke="#8a2a90"/>
<line x1="266.5" y1="118.9" x2="269.5" y2="113.9" stroke="#2e0e66"/>
<line x1="340.1" y1="111.8" x2="341.5" y2="106.2" stroke="#e8705a"/>
<line x1="393.6" y1="134.4" x2="392.6" y2="125.8" stroke="#c84a7a"/>
<line x1="282.7" y1="66.0" x2="283.7" y2="57.3" stroke="#e8705a"/>
<line x1="358.7" y1="120.3" x2="359.3" y2="117.5" stroke="#c84a7a"/>
<line x1="356.1" y1="129.0" x2="357.6" y2="123.4" stroke="#e8705a"/>
<line x1="392.2" y1="138.3" x2="391.4" y2="135.5" stroke="#10062a"/>
<line x1="408.2" y1="104.5" x2="406.2" y2="102.4" stroke="#8a2a90"/>
<line x1="225.0" y1="133.0" x2="230.3" y2="130.6" stroke="#c84a7a"/>
<line x1="340.5" y1="127.7" x2="344.6" y2="120.0" stroke="#5a1e9a"/>
<line x1="381.8" y1="110.7" x2="383.0" y2="102.1" stroke="#e8705a"/>
<line x1="375.9" y1="92.2" x2="376.2" y2="89.3" stroke="#5a1e9a"/>
<line x1="308.0" y1="108.5" x2="313.1" y2="101.5" stroke="#f2e0a4"/>
<line x1="352.4" y1="103.7" x2="353.1" y2="95.0" stroke="#8a2a90"/>
<line x1="296.4" y1="120.6" x2="300.1" y2="112.7" stroke="#e8705a"/>
<line x1="249.7" y1="111.5" x2="253.4" y2="107.1" stroke="#f2e0a4"/>
<line x1="414.4" y1="126.0" x2="414.5" y2="123.1" stroke="#8a2a90"/>
<line x1="248.9" y1="80.4" x2="250.9" y2="78.2" stroke="#f6a878"/>
<line x1="235.4" y1="66.4" x2="242.4" y2="61.2" stroke="#10062a"/>
<line x1="268.3" y1="74.3" x2="272.0" y2="69.8" stroke="#f2e0a4"/>
<line x1="342.3" y1="125.0" x2="343.4" y2="122.3" stroke="#c84a7a"/>
<line x1="314.2" y1="138.5" x2="321.4" y2="133.7" stroke="#8a2a90"/>
<line x1="321.5" y1="126.0" x2="323.4" y2="117.6" stroke="#2e0e66"/>
<line x1="326.0" y1="67.7" x2="326.0" y2="64.8" stroke="#f6a878"/>
<line x1="278.8" y1="96.7" x2="279.9" y2="94.0" stroke="#f2e0a4"/>
<line x1="227.6" y1="84.9" x2="230.5" y2="79.9" stroke="#8a2a90"/>
<line x1="241.6" y1="134.9" x2="244.5" y2="134.2" stroke="#5a1e9a"/>
<line x1="353.4" y1="71.9" x2="353.0" y2="69.1" stroke="#5a1e9a"/>
<line x1="361.1" y1="70.9" x2="362.9" y2="65.4" stroke="#f6a878"/>
<line x1="248.8" y1="71.8" x2="252.6" y2="67.4" stroke="#f2e0a4"/>
<line x1="243.7" y1="79.3" x2="251.9" y2="76.6" stroke="#10062a"/>
<line x1="361.4" y1="100.6" x2="362.1" y2="94.9" stroke="#8a2a90"/>
<line x1="344.7" y1="70.9" x2="345.0" y2="68.0" stroke="#c84a7a"/>
<line x1="363.5" y1="89.6" x2="363.8" y2="80.9" stroke="#5a1e9a"/>
<line x1="287.3" y1="129.7" x2="291.1" y2="125.3" stroke="#e8705a"/>
<line x1="245.1" y1="120.5" x2="250.4" y2="118.2" stroke="#10062a"/>
<line x1="240.1" y1="92.6" x2="242.5" y2="91.1" stroke="#e8705a"/>
<line x1="385.2" y1="114.7" x2="384.5" y2="108.9" stroke="#5a1e9a"/>
<line x1="360.3" y1="90.3" x2="361.2" y2="84.6" stroke="#c84a7a"/>
<line x1="245.4" y1="79.1" x2="253.7" y2="76.5" stroke="#c84a7a"/>
<line x1="287.6" y1="131.7" x2="288.8" y2="129.1" stroke="#e8705a"/>
<line x1="267.7" y1="132.2" x2="275.6" y2="128.4" stroke="#f2e0a4"/>
<line x1="370.7" y1="120.9" x2="370.7" y2="118.0" stroke="#f2e0a4"/>
<line x1="408.1" y1="89.5" x2="405.8" y2="84.1" stroke="#f2e0a4"/>
<line x1="377.3" y1="83.4" x2="378.8" y2="77.8" stroke="#e8705a"/>
<line x1="272.2" y1="89.0" x2="277.6" y2="86.8" stroke="#5a1e9a"/>
<line x1="311.9" y1="89.0" x2="316.7" y2="85.7" stroke="#e8705a"/>
<line x1="239.5" y1="102.1" x2="242.1" y2="100.8" stroke="#e8705a"/>
<line x1="325.8" y1="128.3" x2="328.3" y2="123.1" stroke="#8a2a90"/>
<line x1="218.5" y1="93.4" x2="222.3" y2="89.0" stroke="#e8705a"/>
<line x1="296.4" y1="72.2" x2="300.9" y2="64.7" stroke="#f2e0a4"/>
<line x1="401.0" y1="115.6" x2="400.0" y2="107.0" stroke="#e8705a"/>
<line x1="392.3" y1="84.7" x2="392.5" y2="81.8" stroke="#5a1e9a"/>
<line x1="348.4" y1="86.7" x2="351.1" y2="81.5" stroke="#5a1e9a"/>
<line x1="224.0" y1="101.9" x2="230.9" y2="96.7" stroke="#5a1e9a"/>
<line x1="278.7" y1="74.2" x2="280.5" y2="72.0" stroke="#5a1e9a"/>
<line x1="394.8" y1="98.6" x2="398.4" y2="90.7" stroke="#f6a878"/>
<line x1="315.8" y1="76.8" x2="322.0" y2="70.7" stroke="#5a1e9a"/>
<line x1="407.4" y1="69.0" x2="405.5" y2="60.6" stroke="#5a1e9a"/>
<line x1="302.4" y1="70.5" x2="303.6" y2="67.9" stroke="#f2e0a4"/>
<line x1="286.8" y1="112.6" x2="290.5" y2="104.7" stroke="#8a2a90"/>
<line x1="363.0" y1="103.5" x2="362.3" y2="97.8" stroke="#10062a"/>
<line x1="399.3" y1="131.1" x2="398.3" y2="125.3" stroke="#f6a878"/>
<line x1="342.9" y1="78.3" x2="344.0" y2="75.6" stroke="#10062a"/>
<line x1="317.3" y1="131.2" x2="321.5" y2="123.6" stroke="#e8705a"/>
<line x1="352.4" y1="91.3" x2="351.7" y2="88.5" stroke="#5a1e9a"/>
<line x1="336.8" y1="99.3" x2="338.4" y2="96.9" stroke="#c84a7a"/>
<line x1="355.0" y1="88.1" x2="354.9" y2="85.2" stroke="#e8705a"/>
<line x1="265.9" y1="136.1" x2="267.7" y2="130.5" stroke="#f6a878"/>
<line x1="381.2" y1="94.3" x2="380.2" y2="91.5" stroke="#5a1e9a"/>
<line x1="268.4" y1="70.2" x2="275.1" y2="64.6" stroke="#5a1e9a"/>
<line x1="307.0" y1="95.3" x2="312.3" y2="92.9" stroke="#2e0e66"/>
<line x1="269.4" y1="77.6" x2="271.9" y2="76.1" stroke="#e8705a"/>
<line x1="329.6" y1="107.1" x2="330.7" y2="101.4" stroke="#10062a"/>
<line x1="250.7" y1="114.7" x2="253.4" y2="113.6" stroke="#2e0e66"/>
<line x1="360.3" y1="106.5" x2="360.5" y2="103.6" stroke="#5a1e9a"/>
<line x1="299.9" y1="63.1" x2="302.3" y2="61.5" stroke="#c84a7a"/>
<line x1="373.8" y1="126.2" x2="372.5" y2="117.6" stroke="#f2e0a4"/>
<line x1="298.2" y1="93.8" x2="299.8" y2="91.3" stroke="#5a1e9a"/>
<line x1="342.0" y1="105.0" x2="342.6" y2="99.3" stroke="#2e0e66"/>
<line x1="338.3" y1="124.7" x2="340.1" y2="122.5" stroke="#e8705a"/>
<line x1="343.3" y1="132.0" x2="344.6" y2="126.3" stroke="#5a1e9a"/>
<line x1="365.9" y1="100.3" x2="364.3" y2="97.9" stroke="#e8705a"/>
<line x1="254.1" y1="114.1" x2="261.0" y2="108.8" stroke="#5a1e9a"/>
<line x1="248.9" y1="113.0" x2="255.5" y2="107.4" stroke="#5a1e9a"/>
<line x1="271.1" y1="78.2" x2="273.0" y2="76.0" stroke="#f6a878"/>
<line x1="364.3" y1="135.5" x2="363.8" y2="129.8" stroke="#f2e0a4"/>
<line x1="291.5" y1="122.8" x2="294.8" y2="118.0" stroke="#f6a878"/>
<line x1="269.2" y1="110.9" x2="275.9" y2="105.3" stroke="#5a1e9a"/>
<line x1="295.3" y1="67.9" x2="300.3" y2="64.9" stroke="#f6a878"/>
<line x1="226.5" y1="87.6" x2="228.7" y2="85.7" stroke="#f6a878"/>
<line x1="356.4" y1="101.6" x2="355.2" y2="95.9" stroke="#8a2a90"/>
<line x1="290.8" y1="109.0" x2="295.5" y2="105.8" stroke="#e8705a"/>
<line x1="369.4" y1="131.0" x2="367.7" y2="122.5" stroke="#2e0e66"/>
<line x1="285.0" y1="90.7" x2="289.4" y2="86.9" stroke="#e8705a"/>
<line x1="242.9" y1="128.3" x2="245.5" y2="127.0" stroke="#f2e0a4"/>
<line x1="392.2" y1="98.8" x2="392.0" y2="95.9" stroke="#e8705a"/>
<line x1="263.0" y1="69.5" x2="264.5" y2="67.0" stroke="#5a1e9a"/>
<line x1="408.7" y1="105.4" x2="409.0" y2="102.5" stroke="#10062a"/>
<line x1="256.0" y1="82.8" x2="262.7" y2="77.2" stroke="#10062a"/>
<line x1="293.1" y1="125.4" x2="295.4" y2="123.6" stroke="#10062a"/>
<line x1="278.4" y1="114.9" x2="285.9" y2="110.5" stroke="#8a2a90"/>
<line x1="373.0" y1="72.3" x2="373.5" y2="69.5" stroke="#f2e0a4"/>
<line x1="249.7" y1="94.8" x2="253.9" y2="90.7" stroke="#2e0e66"/>
<line x1="231.9" y1="100.3" x2="233.0" y2="97.6" stroke="#10062a"/>
<line x1="249.4" y1="131.0" x2="250.5" y2="128.3" stroke="#c84a7a"/>
<line x1="415.5" y1="140.6" x2="411.7" y2="132.7" stroke="#f2e0a4"/>
<line x1="419.0" y1="90.9" x2="417.6" y2="85.2" stroke="#8a2a90"/>
<line x1="328.5" y1="108.2" x2="334.2" y2="101.6" stroke="#5a1e9a"/>
<line x1="242.7" y1="107.9" x2="247.0" y2="103.9" stroke="#5a1e9a"/>
<line x1="307.4" y1="106.5" x2="309.9" y2="101.2" stroke="#5a1e9a"/>
<line x1="332.5" y1="77.7" x2="334.4" y2="72.2" stroke="#f6a878"/>
<line x1="310.8" y1="113.9" x2="314.3" y2="109.3" stroke="#c84a7a"/>
<line x1="288.5" y1="99.8" x2="291.9" y2="91.8" stroke="#5a1e9a"/>
<line x1="340.9" y1="86.7" x2="342.8" y2="78.2" stroke="#10062a"/>
<line x1="262.9" y1="95.2" x2="267.3" y2="91.4" stroke="#e8705a"/>
<line x1="293.6" y1="109.9" x2="296.3" y2="109.0" stroke="#5a1e9a"/>
<line x1="276.9" y1="78.0" x2="282.4" y2="76.0" stroke="#8a2a90"/>
<line x1="349.1" y1="75.1" x2="350.1" y2="72.4" stroke="#e8705a"/>
<line x1="409.3" y1="135.0" x2="410.2" y2="129.3" stroke="#5a1e9a"/>
<line x1="392.5" y1="67.4" x2="391.3" y2="58.8" stroke="#c84a7a"/>
<line x1="304.3" y1="137.8" x2="309.9" y2="131.1" stroke="#10062a"/>
<line x1="389.6" y1="132.7" x2="388.1" y2="124.1" stroke="#f6a878"/>
<line x1="225.4" y1="126.3" x2="228.0" y2="124.9" stroke="#8a2a90"/>
<line x1="245.7" y1="138.0" x2="251.0" y2="135.6" stroke="#e8705a"/>
<line x1="320.3" y1="68.3" x2="324.6" y2="64.3" stroke="#5a1e9a"/>
<line x1="325.5" y1="80.6" x2="326.3" y2="74.9" stroke="#f2e0a4"/>
<line x1="249.8" y1="78.4" x2="257.0" y2="73.6" stroke="#5a1e9a"/>
<line x1="312.6" y1="128.4" x2="318.2" y2="121.7" stroke="#c84a7a"/>
<line x1="319.0" y1="122.7" x2="323.2" y2="115.1" stroke="#f2e0a4"/>
<line x1="372.4" y1="109.9" x2="371.6" y2="107.1" stroke="#f6a878"/>
<line x1="347.4" y1="99.1" x2="353.0" y2="92.4" stroke="#10062a"/>
<line x1="407.8" y1="133.3" x2="408.1" y2="127.5" stroke="#f2e0a4"/>
<line x1="406.7" y1="91.2" x2="406.8" y2="85.4" stroke="#8a2a90"/>
<line x1="381.5" y1="129.3" x2="380.4" y2="123.6" stroke="#10062a"/>
<line x1="260.8" y1="89.0" x2="263.2" y2="87.2" stroke="#8a2a90"/>
<line x1="390.8" y1="95.7" x2="386.5" y2="88.1" stroke="#2e0e66"/>
<line x1="367.5" y1="135.4" x2="366.8" y2="129.7" stroke="#5a1e9a"/>
<line x1="224.1" y1="136.6" x2="231.3" y2="131.8" stroke="#2e0e66"/>
<line x1="308.3" y1="136.2" x2="316.5" y2="133.2" stroke="#f2e0a4"/>
<line x1="270.8" y1="68.8" x2="277.3" y2="63.0" stroke="#5a1e9a"/>
<line x1="402.1" y1="64.7" x2="402.7" y2="58.9" stroke="#f6a878"/>
<line x1="390.8" y1="65.3" x2="390.3" y2="62.5" stroke="#5a1e9a"/>
<line x1="302.5" y1="82.5" x2="304.9" y2="77.2" stroke="#10062a"/>
<line x1="382.0" y1="138.4" x2="380.8" y2="132.8" stroke="#e8705a"/>
<line x1="404.1" y1="75.0" x2="406.1" y2="69.6" stroke="#10062a"/>
<line x1="339.6" y1="133.3" x2="339.7" y2="130.4" stroke="#c84a7a"/>
<line x1="394.8" y1="77.0" x2="394.2" y2="68.4" stroke="#e8705a"/>
<line x1="282.6" y1="73.7" x2="289.1" y2="67.9" stroke="#f2e0a4"/>
<line x1="395.8" y1="73.5" x2="396.1" y2="67.7" stroke="#5a1e9a"/>
<line x1="400.2" y1="115.9" x2="399.9" y2="113.0" stroke="#10062a"/>
<line x1="310.2" y1="116.8" x2="312.1" y2="114.5" stroke="#8a2a90"/>
<line x1="372.5" y1="123.4" x2="370.1" y2="118.1" stroke="#5a1e9a"/>
<line x1="313.8" y1="136.2" x2="316.1" y2="134.5" stroke="#c84a7a"/>
<line x1="377.5" y1="69.8" x2="376.5" y2="64.1" stroke="#10062a"/>
<line x1="378.7" y1="83.8" x2="376.2" y2="75.5" stroke="#c84a7a"/>
<line x1="296.5" y1="110.5" x2="298.6" y2="102.0" stroke="#5a1e9a"/>
<line x1="363.9" y1="76.0" x2="365.5" y2="70.5" stroke="#10062a"/>
<line x1="407.6" y1="130.5" x2="406.0" y2="128.1" stroke="#5a1e9a"/>
<line x1="379.4" y1="104.8" x2="379.1" y2="99.0" stroke="#c84a7a"/>
<line x1="411.4" y1="77.1" x2="406.5" y2="69.9" stroke="#10062a"/>
<line x1="391.5" y1="116.3" x2="392.5" y2="110.6" stroke="#8a2a90"/>
<line x1="230.7" y1="114.2" x2="233.8" y2="109.3" stroke="#5a1e9a"/>
<line x1="390.3" y1="109.1" x2="386.0" y2="101.6" stroke="#10062a"/>
<line x1="399.0" y1="91.8" x2="398.9" y2="83.1" stroke="#c84a7a"/>
<line x1="356.3" y1="96.6" x2="361.2" y2="93.5" stroke="#e8705a"/>
<line x1="354.3" y1="79.6" x2="357.3" y2="71.4" stroke="#c84a7a"/>
<line x1="228.2" y1="126.7" x2="229.4" y2="124.0" stroke="#5a1e9a"/>
<line x1="333.9" y1="134.2" x2="341.9" y2="130.8" stroke="#e8705a"/>
<line x1="309.1" y1="131.1" x2="311.6" y2="129.5" stroke="#c84a7a"/>
<line x1="415.3" y1="103.5" x2="412.7" y2="95.2" stroke="#5a1e9a"/>
<line x1="236.6" y1="95.5" x2="238.2" y2="93.1" stroke="#8a2a90"/>
<line x1="231.1" y1="118.9" x2="233.0" y2="113.4" stroke="#c84a7a"/>
<line x1="255.6" y1="115.8" x2="257.8" y2="113.9" stroke="#e8705a"/>
<line x1="323.7" y1="94.7" x2="326.8" y2="89.8" stroke="#2e0e66"/>
<line x1="266.6" y1="82.0" x2="266.7" y2="73.3" stroke="#2e0e66"/>
<line x1="329.4" y1="123.3" x2="330.1" y2="120.5" stroke="#c84a7a"/>
<line x1="263.7" y1="88.5" x2="267.5" y2="84.1" stroke="#5a1e9a"/>
<line x1="395.5" y1="107.0" x2="393.0" y2="98.6" stroke="#8a2a90"/>
<line x1="365.5" y1="89.2" x2="367.2" y2="80.7" stroke="#f6a878"/>
<line x1="279.6" y1="92.8" x2="282.7" y2="87.8" stroke="#e8705a"/>
<line x1="336.4" y1="114.7" x2="337.7" y2="112.1" stroke="#5a1e9a"/>
<line x1="345.8" y1="81.0" x2="346.7" y2="78.3" stroke="#f2e0a4"/>
<line x1="414.9" y1="80.1" x2="413.0" y2="74.6" stroke="#e8705a"/>
<line x1="331.4" y1="102.7" x2="337.9" y2="96.9" stroke="#8a2a90"/>
<line x1="232.3" y1="64.9" x2="240.3" y2="61.6" stroke="#8a2a90"/>
<line x1="365.0" y1="126.0" x2="363.4" y2="120.3" stroke="#f2e0a4"/>
<line x1="349.1" y1="135.8" x2="348.1" y2="127.1" stroke="#8a2a90"/>
<line x1="266.5" y1="100.0" x2="271.6" y2="97.2" stroke="#5a1e9a"/>
<line x1="316.0" y1="136.0" x2="321.3" y2="129.1" stroke="#e8705a"/>
<line x1="370.4" y1="80.1" x2="370.0" y2="74.4" stroke="#5a1e9a"/>
<line x1="300.2" y1="134.7" x2="308.0" y2="130.8" stroke="#e8705a"/>
<line x1="304.8" y1="102.5" x2="305.0" y2="99.6" stroke="#f2e0a4"/>
<line x1="363.0" y1="68.7" x2="362.1" y2="60.0" stroke="#f2e0a4"/>
<line x1="312.2" y1="134.3" x2="313.8" y2="128.7" stroke="#8a2a90"/>
<line x1="221.1" y1="96.6" x2="226.4" y2="94.2" stroke="#8a2a90"/>
<line x1="290.6" y1="79.7" x2="294.4" y2="75.3" stroke="#5a1e9a"/>
<line x1="308.4" y1="131.2" x2="315.9" y2="126.9" stroke="#8a2a90"/>
<line x1="275.1" y1="96.3" x2="275.1" y2="93.4" stroke="#f2e0a4"/>
<line x1="308.2" y1="113.8" x2="310.7" y2="112.2" stroke="#c84a7a"/>
<line x1="403.1" y1="81.2" x2="402.0" y2="78.5" stroke="#5a1e9a"/>
<line x1="398.1" y1="82.8" x2="398.5" y2="77.0" stroke="#5a1e9a"/>
<line x1="232.3" y1="77.6" x2="235.6" y2="69.5" stroke="#e8705a"/>
<line x1="379.6" y1="132.8" x2="378.9" y2="130.0" stroke="#5a1e9a"/>
<line x1="247.2" y1="119.2" x2="252.0" y2="116.0" stroke="#e8705a"/>
<line x1="278.6" y1="93.5" x2="281.3" y2="92.3" stroke="#10062a"/>
<line x1="374.7" y1="103.4" x2="374.7" y2="97.6" stroke="#10062a"/>
<line x1="229.8" y1="112.9" x2="232.3" y2="107.7" stroke="#f6a878"/>
<line x1="221.5" y1="83.0" x2="230.2" y2="82.3" stroke="#5a1e9a"/>
<line x1="411.0" y1="84.3" x2="413.9" y2="79.3" stroke="#c84a7a"/>
<line x1="237.1" y1="115.4" x2="238.0" y2="112.7" stroke="#f2e0a4"/>
<line x1="295.6" y1="87.8" x2="297.6" y2="85.8" stroke="#e8705a"/>
<line x1="270.4" y1="106.1" x2="275.2" y2="98.8" stroke="#c84a7a"/>
<line x1="301.0" y1="127.2" x2="306.9" y2="120.9" stroke="#c84a7a"/>
<line x1="389.6" y1="73.2" x2="387.6" y2="64.8" stroke="#c84a7a"/>
<line x1="378.6" y1="69.2" x2="378.6" y2="66.3" stroke="#f6a878"/>
<line x1="313.6" y1="103.6" x2="315.1" y2="101.1" stroke="#f2e0a4"/>
<line x1="243.8" y1="99.5" x2="246.2" y2="94.2" stroke="#8a2a90"/>
<line x1="322.6" y1="122.1" x2="323.9" y2="119.5" stroke="#f2e0a4"/>
<line x1="304.0" y1="131.7" x2="305.3" y2="129.1" stroke="#10062a"/>
<line x1="289.6" y1="107.4" x2="294.8" y2="104.9" stroke="#f6a878"/>
<line x1="238.9" y1="134.1" x2="240.6" y2="131.7" stroke="#5a1e9a"/>
<line x1="234.2" y1="120.3" x2="237.6" y2="115.6" stroke="#c84a7a"/>
<line x1="412.3" y1="100.9" x2="409.6" y2="95.8" stroke="#5a1e9a"/>
<line x1="374.4" y1="103.9" x2="373.8" y2="98.1" stroke="#f6a878"/>
<line x1="387.7" y1="133.7" x2="387.6" y2="130.8" stroke="#e8705a"/>
<line x1="248.5" y1="127.4" x2="250.7" y2="125.5" stroke="#e8705a"/>
<line x1="403.9" y1="125.6" x2="404.7" y2="117.0" stroke="#5a1e9a"/>
<line x1="340.2" y1="121.9" x2="344.2" y2="114.1" stroke="#f2e0a4"/>
<line x1="320.7" y1="117.7" x2="320.8" y2="109.0" stroke="#e8705a"/>
<line x1="293.4" y1="135.8" x2="297.5" y2="131.7" stroke="#c84a7a"/>
<line x1="244.1" y1="79.9" x2="251.3" y2="75.1" stroke="#10062a"/>
<line x1="361.3" y1="114.7" x2="362.2" y2="109.0" stroke="#c84a7a"/>
<line x1="355.8" y1="134.1" x2="356.4" y2="125.4" stroke="#c84a7a"/>
<line x1="365.9" y1="70.1" x2="364.5" y2="61.5" stroke="#8a2a90"/>
<line x1="353.7" y1="67.8" x2="354.8" y2="65.1" stroke="#f6a878"/>
<line x1="396.3" y1="73.8" x2="395.3" y2="68.1" stroke="#10062a"/>
<line x1="421.1" y1="96.5" x2="419.2" y2="91.1" stroke="#5a1e9a"/>
<line x1="357.4" y1="74.5" x2="357.3" y2="71.6" stroke="#5a1e9a"/>
<line x1="303.6" y1="125.6" x2="305.3" y2="123.2" stroke="#f2e0a4"/>
<line x1="227.8" y1="95.3" x2="233.6" y2="88.8" stroke="#e8705a"/>
<line x1="256.4" y1="129.6" x2="263.7" y2="124.8" stroke="#10062a"/>
<line x1="359.7" y1="139.9" x2="360.5" y2="134.1" stroke="#e8705a"/>
<line x1="378.0" y1="96.9" x2="378.0" y2="94.0" stroke="#c84a7a"/>
<line x1="223.3" y1="73.2" x2="225.3" y2="71.2" stroke="#5a1e9a"/>
<line x1="377.1" y1="136.4" x2="377.2" y2="133.5" stroke="#f2e0a4"/>
<line x1="243.8" y1="133.4" x2="247.8" y2="125.7" stroke="#f6a878"/>
<line x1="250.1" y1="113.8" x2="252.1" y2="111.7" stroke="#10062a"/>
<line x1="382.5" y1="108.5" x2="384.3" y2="100.0" stroke="#c84a7a"/>
<line x1="272.0" y1="70.4" x2="275.5" y2="65.8" stroke="#c84a7a"/>
<line x1="404.4" y1="75.9" x2="405.1" y2="67.2" stroke="#f2e0a4"/>
<line x1="276.6" y1="71.7" x2="282.6" y2="65.4" stroke="#e8705a"/>
<line x1="224.4" y1="125.6" x2="226.8" y2="120.3" stroke="#f2e0a4"/>
<line x1="220.4" y1="84.6" x2="221.7" y2="82.1" stroke="#8a2a90"/>
<line x1="394.7" y1="128.0" x2="394.4" y2="125.1" stroke="#c84a7a"/>
<line x1="377.0" y1="114.3" x2="377.9" y2="105.6" stroke="#2e0e66"/>
<line x1="291.5" y1="79.0" x2="294.0" y2="77.6" stroke="#f6a878"/>
<line x1="413.6" y1="70.3" x2="414.6" y2="61.7" stroke="#8a2a90"/>
<line x1="305.1" y1="99.1" x2="311.4" y2="93.1" stroke="#c84a7a"/>
<line x1="342.5" y1="114.4" x2="344.1" y2="105.8" stroke="#5a1e9a"/>
<line x1="385.7" y1="104.8" x2="385.4" y2="96.1" stroke="#10062a"/>
<line x1="372.5" y1="94.0" x2="372.1" y2="91.2" stroke="#f6a878"/>
<line x1="346.6" y1="80.0" x2="350.3" y2="72.1" stroke="#f6a878"/>
<line x1="294.4" y1="85.9" x2="298.9" y2="82.2" stroke="#f2e0a4"/>
<line x1="265.7" y1="64.4" x2="266.8" y2="61.7" stroke="#c84a7a"/>
<line x1="279.2" y1="124.4" x2="282.3" y2="119.4" stroke="#e8705a"/>
<line x1="250.0" y1="107.0" x2="251.1" y2="101.3" stroke="#f6a878"/>
<line x1="306.7" y1="126.1" x2="315.1" y2="123.9" stroke="#5a1e9a"/>
<line x1="235.2" y1="76.8" x2="236.8" y2="71.2" stroke="#2e0e66"/>
<line x1="292.3" y1="108.7" x2="298.8" y2="102.9" stroke="#8a2a90"/>
<line x1="390.9" y1="107.6" x2="389.8" y2="101.9" stroke="#e8705a"/>
<line x1="368.5" y1="87.4" x2="369.4" y2="84.7" stroke="#f2e0a4"/>
<line x1="241.1" y1="86.5" x2="243.8" y2="81.4" stroke="#10062a"/>
<line x1="389.8" y1="104.2" x2="387.8" y2="95.7" stroke="#8a2a90"/>
<line x1="307.3" y1="130.6" x2="314.8" y2="126.3" stroke="#5a1e9a"/>
<line x1="321.7" y1="92.9" x2="322.8" y2="90.2" stroke="#c84a7a"/>
<line x1="300.6" y1="106.8" x2="307.4" y2="101.5" stroke="#e8705a"/>
<line x1="236.9" y1="79.9" x2="239.4" y2="78.5" stroke="#8a2a90"/>
<line x1="302.4" y1="75.4" x2="307.6" y2="68.5" stroke="#2e0e66"/>
<line x1="298.5" y1="98.9" x2="305.9" y2="94.3" stroke="#f2e0a4"/>
<line x1="226.1" y1="72.7" x2="230.8" y2="65.3" stroke="#5a1e9a"/>
<line x1="312.3" y1="112.3" x2="312.9" y2="109.5" stroke="#f6a878"/>
<line x1="338.7" y1="85.6" x2="341.7" y2="80.7" stroke="#f2e0a4"/>
<line x1="224.2" y1="103.4" x2="226.3" y2="101.5" stroke="#5a1e9a"/>
<line x1="301.1" y1="121.1" x2="303.8" y2="120.0" stroke="#10062a"/>
<line x1="324.6" y1="134.8" x2="324.8" y2="126.1" stroke="#f6a878"/>
<line x1="377.2" y1="94.8" x2="375.9" y2="89.1" stroke="#e8705a"/>
<line x1="318.7" y1="104.4" x2="320.6" y2="102.2" stroke="#f2e0a4"/>
<line x1="417.0" y1="111.7" x2="415.4" y2="103.1" stroke="#5a1e9a"/>
<line x1="321.6" y1="122.2" x2="324.5" y2="117.1" stroke="#e8705a"/>
<line x1="230.6" y1="111.6" x2="238.4" y2="107.8" stroke="#f6a878"/>
<line x1="356.6" y1="119.0" x2="357.5" y2="113.3" stroke="#8a2a90"/>
<line x1="290.1" y1="138.4" x2="296.9" y2="133.1" stroke="#e8705a"/>
<line x1="248.5" y1="75.1" x2="251.4" y2="66.9" stroke="#5a1e9a"/>
<line x1="412.7" y1="98.4" x2="412.4" y2="95.5" stroke="#5a1e9a"/>
<line x1="381.6" y1="91.6" x2="381.0" y2="82.9" stroke="#e8705a"/>
<line x1="411.4" y1="73.9" x2="411.2" y2="71.0" stroke="#5a1e9a"/>
<line x1="232.2" y1="105.7" x2="235.0" y2="100.6" stroke="#c84a7a"/>
<line x1="279.8" y1="79.0" x2="281.5" y2="76.6" stroke="#f6a878"/>
<line x1="314.0" y1="69.3" x2="317.8" y2="64.9" stroke="#f6a878"/>
<line x1="304.0" y1="98.7" x2="306.7" y2="97.6" stroke="#5a1e9a"/>
<line x1="258.2" y1="91.1" x2="263.6" y2="88.9" stroke="#2e0e66"/>
<line x1="343.0" y1="125.3" x2="348.5" y2="118.6" stroke="#2e0e66"/>
<line x1="316.1" y1="74.0" x2="321.4" y2="71.6" stroke="#e8705a"/>
<line x1="269.2" y1="84.8" x2="273.8" y2="81.2" stroke="#10062a"/>
<line x1="223.4" y1="107.4" x2="226.4" y2="102.4" stroke="#f6a878"/>
<line x1="287.6" y1="96.5" x2="292.0" y2="92.8" stroke="#f6a878"/>
<line x1="370.1" y1="71.3" x2="368.6" y2="68.9" stroke="#f2e0a4"/>
<line x1="334.8" y1="110.3" x2="340.3" y2="103.6" stroke="#5a1e9a"/>
<line x1="268.6" y1="135.7" x2="274.0" y2="133.5" stroke="#c84a7a"/>
<line x1="293.1" y1="99.1" x2="295.7" y2="97.9" stroke="#5a1e9a"/>
<line x1="306.0" y1="85.5" x2="311.6" y2="84.1" stroke="#c84a7a"/>
<line x1="244.9" y1="74.5" x2="248.9" y2="70.3" stroke="#f6a878"/>
<line x1="401.9" y1="88.5" x2="400.7" y2="85.9" stroke="#c84a7a"/>
<line x1="230.7" y1="98.3" x2="232.9" y2="92.9" stroke="#e8705a"/>
<line x1="311.7" y1="98.0" x2="313.5" y2="95.6" stroke="#5a1e9a"/>
<line x1="228.6" y1="70.9" x2="232.7" y2="66.8" stroke="#c84a7a"/>
<line x1="357.6" y1="139.6" x2="360.1" y2="134.3" stroke="#c84a7a"/>
<line x1="313.9" y1="88.0" x2="320.6" y2="82.5" stroke="#10062a"/>
<line x1="337.8" y1="120.6" x2="341.1" y2="112.5" stroke="#f6a878"/>
<line x1="243.5" y1="96.3" x2="248.5" y2="89.2" stroke="#2e0e66"/>
<line x1="402.3" y1="91.3" x2="400.7" y2="88.9" stroke="#f2e0a4"/>
<line x1="219.1" y1="113.6" x2="221.4" y2="111.9" stroke="#f2e0a4"/>
<line x1="236.2" y1="112.6" x2="243.5" y2="107.8" stroke="#5a1e9a"/>
<line x1="354.4" y1="70.3" x2="359.1" y2="62.9" stroke="#8a2a90"/>
<line x1="371.2" y1="97.9" x2="366.8" y2="90.5" stroke="#2e0e66"/>
<line x1="340.3" y1="91.8" x2="341.6" y2="89.2" stroke="#5a1e9a"/>
<line x1="344.9" y1="73.0" x2="346.0" y2="70.3" stroke="#e8705a"/>
<line x1="224.7" y1="130.4" x2="228.6" y2="126.0" stroke="#10062a"/>
<line x1="301.7" y1="109.6" x2="306.8" y2="106.8" stroke="#2e0e66"/>
<line x1="355.5" y1="66.6" x2="356.5" y2="63.9" stroke="#5a1e9a"/>
<line x1="396.3" y1="100.7" x2="394.2" y2="95.3" stroke="#c84a7a"/>
<line x1="331.8" y1="130.1" x2="335.7" y2="122.4" stroke="#2e0e66"/>
<line x1="247.7" y1="79.9" x2="249.9" y2="78.1" stroke="#f6a878"/>
<line x1="260.5" y1="106.0" x2="263.9" y2="101.3" stroke="#e8705a"/>
<line x1="312.6" y1="94.4" x2="315.1" y2="92.9" stroke="#e8705a"/>
<line x1="386.3" y1="82.7" x2="385.8" y2="79.8" stroke="#e8705a"/>
<line x1="391.8" y1="70.3" x2="390.0" y2="68.1" stroke="#8a2a90"/>
<line x1="242.7" y1="104.1" x2="248.2" y2="97.4" stroke="#f6a878"/>
<line x1="326.9" y1="83.6" x2="332.1" y2="76.7" stroke="#f2e0a4"/>
<line x1="405.8" y1="118.1" x2="406.6" y2="112.4" stroke="#8a2a90"/>
<line x1="303.6" y1="113.9" x2="304.9" y2="111.3" stroke="#f6a878"/>
<line x1="385.9" y1="127.2" x2="385.7" y2="124.4" stroke="#10062a"/>
<line x1="288.9" y1="116.7" x2="290.7" y2="114.4" stroke="#8a2a90"/>
<line x1="369.7" y1="70.8" x2="367.1" y2="62.5" stroke="#5a1e9a"/>
<line x1="313.0" y1="116.3" x2="316.2" y2="111.5" stroke="#e8705a"/>
<line x1="326.8" y1="134.0" x2="330.7" y2="126.2" stroke="#5a1e9a"/>
<line x1="266.7" y1="86.1" x2="271.0" y2="82.2" stroke="#10062a"/>
<line x1="409.6" y1="95.2" x2="409.4" y2="86.5" stroke="#f6a878"/>
<line x1="279.8" y1="123.9" x2="280.7" y2="115.2" stroke="#10062a"/>
<line x1="382.7" y1="125.5" x2="382.8" y2="116.8" stroke="#5a1e9a"/>
<line x1="217.6" y1="128.1" x2="222.6" y2="121.0" stroke="#2e0e66"/>
<line x1="275.4" y1="91.6" x2="277.0" y2="89.3" stroke="#5a1e9a"/>
<line x1="266.5" y1="64.0" x2="273.2" y2="58.3" stroke="#f2e0a4"/>
<line x1="230.0" y1="136.4" x2="232.3" y2="134.6" stroke="#f6a878"/>
<line x1="275.6" y1="101.9" x2="277.8" y2="99.9" stroke="#c84a7a"/>
<line x1="391.2" y1="134.6" x2="390.5" y2="131.8" stroke="#8a2a90"/>
<line x1="251.4" y1="135.0" x2="256.6" y2="132.3" stroke="#e8705a"/>
<line x1="333.9" y1="139.0" x2="337.6" y2="131.1" stroke="#c84a7a"/>
<line x1="267.8" y1="96.8" x2="268.9" y2="94.1" stroke="#e8705a"/>
<line x1="408.2" y1="76.7" x2="406.9" y2="68.1" stroke="#8a2a90"/>
<line x1="241.3" y1="134.7" x2="243.8" y2="133.2" stroke="#5a1e9a"/>
<line x1="227.2" y1="64.4" x2="228.8" y2="61.9" stroke="#10062a"/>
<line x1="276.9" y1="118.6" x2="279.2" y2="113.3" stroke="#c84a7a"/>
<line x1="257.5" y1="91.6" x2="261.7" y2="83.9" stroke="#10062a"/>
<line x1="291.5" y1="90.1" x2="296.2" y2="86.8" stroke="#c84a7a"/>
<line x1="394.0" y1="81.1" x2="393.1" y2="78.4" stroke="#5a1e9a"/>
<line x1="365.7" y1="105.1" x2="367.0" y2="96.5" stroke="#5a1e9a"/>
<line x1="266.2" y1="85.2" x2="273.0" y2="79.9" stroke="#5a1e9a"/>
<line x1="402.7" y1="131.2" x2="402.0" y2="128.4" stroke="#e8705a"/>
<line x1="388.4" y1="96.8" x2="386.3" y2="91.3" stroke="#2e0e66"/>
<line x1="268.9" y1="88.3" x2="268.1" y2="79.6" stroke="#f2e0a4"/>
<line x1="395.2" y1="72.9" x2="389.0" y2="66.8" stroke="#5a1e9a"/>
<line x1="315.1" y1="130.3" x2="317.6" y2="128.7" stroke="#c84a7a"/>
<line x1="282.8" y1="113.4" x2="286.9" y2="105.8" stroke="#10062a"/>
<line x1="351.5" y1="82.5" x2="352.8" y2="79.9" stroke="#f2e0a4"/>
<line x1="313.5" y1="87.1" x2="314.5" y2="84.3" stroke="#10062a"/>
<line x1="310.1" y1="98.1" x2="313.1" y2="93.1" stroke="#5a1e9a"/>
<line x1="248.9" y1="72.2" x2="252.8" y2="67.8" stroke="#5a1e9a"/>
<line x1="281.2" y1="119.9" x2="283.4" y2="117.9" stroke="#c84a7a"/>
<line x1="326.0" y1="129.7" x2="326.5" y2="126.8" stroke="#5a1e9a"/>
<line x1="297.1" y1="112.2" x2="300.1" y2="104.1" stroke="#e8705a"/>
<line x1="373.4" y1="114.7" x2="372.8" y2="111.9" stroke="#e8705a"/>
<line x1="256.6" y1="100.2" x2="262.6" y2="93.9" stroke="#f2e0a4"/>
<line x1="219.2" y1="122.3" x2="223.3" y2="114.7" stroke="#e8705a"/>
<line x1="367.1" y1="64.1" x2="365.9" y2="61.4" stroke="#2e0e66"/>
<line x1="268.1" y1="94.5" x2="275.2" y2="89.5" stroke="#8a2a90"/>
<line x1="402.7" y1="99.6" x2="403.2" y2="96.7" stroke="#f2e0a4"/>
<line x1="403.9" y1="111.8" x2="402.3" y2="103.3" stroke="#f6a878"/>
<line x1="287.4" y1="90.7" x2="289.7" y2="85.4" stroke="#5a1e9a"/>
<line x1="301.1" y1="122.7" x2="302.6" y2="114.1" stroke="#f2e0a4"/>
<line x1="343.7" y1="120.6" x2="346.4" y2="112.3" stroke="#5a1e9a"/>
<line x1="407.8" y1="138.1" x2="408.3" y2="135.2" stroke="#8a2a90"/>
<line x1="407.8" y1="88.7" x2="404.5" y2="83.9" stroke="#e8705a"/>
<line x1="305.5" y1="80.7" x2="308.9" y2="76.0" stroke="#10062a"/>
<line x1="402.7" y1="97.8" x2="401.0" y2="95.5" stroke="#8a2a90"/>
<line x1="379.2" y1="95.5" x2="381.4" y2="90.1" stroke="#10062a"/>
<line x1="312.5" y1="73.5" x2="314.1" y2="71.1" stroke="#e8705a"/>
<line x1="325.6" y1="94.7" x2="325.4" y2="91.8" stroke="#f6a878"/>
<line x1="361.0" y1="123.8" x2="360.7" y2="120.9" stroke="#f6a878"/>
<line x1="372.0" y1="122.5" x2="372.0" y2="119.6" stroke="#5a1e9a"/>
<line x1="290.7" y1="127.4" x2="295.1" y2="123.6" stroke="#f6a878"/>
<line x1="224.9" y1="113.7" x2="229.8" y2="110.6" stroke="#c84a7a"/>
<line x1="288.2" y1="125.8" x2="290.4" y2="120.5" stroke="#c84a7a"/>
<line x1="309.1" y1="68.5" x2="314.1" y2="61.4" stroke="#5a1e9a"/>
<line x1="281.1" y1="124.2" x2="282.3" y2="121.5" stroke="#5a1e9a"/>
<line x1="234.6" y1="93.6" x2="241.4" y2="88.2" stroke="#f6a878"/>
<line x1="276.8" y1="107.4" x2="279.7" y2="106.9" stroke="#8a2a90"/>
<line x1="359.5" y1="102.0" x2="360.8" y2="93.4" stroke="#f2e0a4"/>
<line x1="389.7" y1="105.8" x2="389.4" y2="102.9" stroke="#5a1e9a"/>
<line x1="392.7" y1="69.2" x2="391.9" y2="66.4" stroke="#8a2a90"/>
<line x1="234.7" y1="99.0" x2="238.7" y2="94.8" stroke="#2e0e66"/>
<line x1="317.9" y1="98.7" x2="319.7" y2="96.4" stroke="#c84a7a"/>
<line x1="325.9" y1="73.2" x2="331.8" y2="66.8" stroke="#c84a7a"/>
<line x1="387.2" y1="90.1" x2="385.8" y2="87.5" stroke="#f2e0a4"/>
<line x1="351.4" y1="74.5" x2="355.5" y2="70.4" stroke="#10062a"/>
<line x1="285.5" y1="91.2" x2="287.5" y2="89.2" stroke="#c84a7a"/>
<line x1="308.6" y1="86.2" x2="311.4" y2="85.7" stroke="#5a1e9a"/>
<line x1="402.4" y1="130.7" x2="401.7" y2="127.9" stroke="#e8705a"/>
<line x1="345.1" y1="131.8" x2="346.4" y2="123.2" stroke="#c84a7a"/>
<line x1="218.1" y1="92.3" x2="226.2" y2="89.3" stroke="#c84a7a"/>
<line x1="388.6" y1="70.0" x2="389.0" y2="61.3" stroke="#f6a878"/>
<line x1="320.7" y1="66.3" x2="321.0" y2="60.5" stroke="#8a2a90"/>
<line x1="292.3" y1="103.7" x2="294.4" y2="101.8" stroke="#c84a7a"/>
<line x1="351.7" y1="96.7" x2="353.4" y2="94.3" stroke="#5a1e9a"/>
<line x1="305.6" y1="126.0" x2="310.8" y2="123.4" stroke="#e8705a"/>
<line x1="296.4" y1="122.9" x2="302.1" y2="116.3" stroke="#c84a7a"/>
<line x1="234.3" y1="79.4" x2="238.4" y2="75.4" stroke="#f2e0a4"/>
<line x1="330.4" y1="134.9" x2="332.3" y2="132.7" stroke="#10062a"/>
<line x1="263.4" y1="113.4" x2="269.4" y2="107.2" stroke="#2e0e66"/>
<line x1="233.5" y1="73.8" x2="239.2" y2="72.7" stroke="#c84a7a"/>
<line x1="337.3" y1="118.0" x2="337.4" y2="112.2" stroke="#5a1e9a"/>
<line x1="258.1" y1="108.7" x2="263.6" y2="106.8" stroke="#f2e0a4"/>
<line x1="254.2" y1="61.8" x2="256.6" y2="60.3" stroke="#8a2a90"/>
<line x1="255.5" y1="138.5" x2="259.5" y2="134.3" stroke="#f2e0a4"/>
<line x1="337.1" y1="94.1" x2="337.6" y2="91.2" stroke="#f6a878"/>
<line x1="260.2" y1="66.2" x2="262.3" y2="64.3" stroke="#c84a7a"/>
<line x1="342.2" y1="76.4" x2="342.1" y2="73.5" stroke="#f2e0a4"/>
<line x1="413.7" y1="136.9" x2="411.4" y2="131.5" stroke="#f6a878"/>
<line x1="235.1" y1="97.0" x2="239.5" y2="93.2" stroke="#5a1e9a"/>
<line x1="267.1" y1="118.9" x2="269.3" y2="110.5" stroke="#f2e0a4"/>
<line x1="349.4" y1="127.4" x2="351.2" y2="125.1" stroke="#f6a878"/>
<line x1="361.0" y1="98.1" x2="360.6" y2="89.4" stroke="#e8705a"/>
<line x1="363.0" y1="81.7" x2="363.8" y2="76.0" stroke="#f6a878"/>
<line x1="310.9" y1="115.4" x2="312.3" y2="109.7" stroke="#10062a"/>
<line x1="262.1" y1="74.8" x2="266.3" y2="70.8" stroke="#f2e0a4"/>
<line x1="321.9" y1="108.2" x2="323.0" y2="105.5" stroke="#f6a878"/>
<line x1="228.7" y1="80.3" x2="233.9" y2="73.4" stroke="#c84a7a"/>
<line x1="343.1" y1="102.9" x2="343.2" y2="97.1" stroke="#e8705a"/>
<line x1="348.0" y1="71.8" x2="348.2" y2="66.0" stroke="#c84a7a"/>
<line x1="411.5" y1="86.1" x2="410.1" y2="83.5" stroke="#f2e0a4"/>
<line x1="303.2" y1="122.8" x2="305.2" y2="120.6" stroke="#10062a"/>
<line x1="355.2" y1="120.0" x2="357.9" y2="114.9" stroke="#e8705a"/>
<line x1="393.9" y1="134.9" x2="391.0" y2="129.9" stroke="#5a1e9a"/>
<line x1="275.5" y1="79.1" x2="278.2" y2="78.2" stroke="#f2e0a4"/>
<line x1="351.0" y1="114.0" x2="352.7" y2="108.5" stroke="#c84a7a"/>
<line x1="337.6" y1="99.6" x2="335.2" y2="91.2" stroke="#5a1e9a"/>
<line x1="369.3" y1="82.6" x2="364.9" y2="78.8" stroke="#10062a"/>
<line x1="375.7" y1="126.3" x2="375.9" y2="117.6" stroke="#10062a"/>
<line x1="343.5" y1="82.1" x2="347.0" y2="77.5" stroke="#e8705a"/>
<line x1="268.7" y1="64.5" x2="271.1" y2="59.2" stroke="#f6a878"/>
<line x1="281.3" y1="80.5" x2="285.6" y2="72.9" stroke="#c84a7a"/>
<line x1="354.9" y1="97.9" x2="356.3" y2="95.4" stroke="#10062a"/>
<line x1="381.8" y1="94.2" x2="383.5" y2="85.7" stroke="#e8705a"/>
<line x1="380.2" y1="126.8" x2="380.6" y2="124.0" stroke="#8a2a90"/>
<line x1="315.5" y1="68.2" x2="317.5" y2="66.1" stroke="#f2e0a4"/>
<line x1="311.5" y1="121.5" x2="312.2" y2="115.7" stroke="#5a1e9a"/>
<line x1="367.0" y1="111.1" x2="364.0" y2="102.9" stroke="#2e0e66"/>
<line x1="315.8" y1="120.0" x2="323.1" y2="115.3" stroke="#8a2a90"/>
<line x1="228.0" y1="76.5" x2="230.3" y2="74.7" stroke="#2e0e66"/>
<line x1="223.6" y1="84.3" x2="225.0" y2="81.7" stroke="#5a1e9a"/>
<line x1="252.8" y1="87.9" x2="254.8" y2="79.5" stroke="#5a1e9a"/>
<line x1="383.1" y1="112.7" x2="381.3" y2="104.2" stroke="#2e0e66"/>
<line x1="228.3" y1="109.6" x2="231.6" y2="104.8" stroke="#e8705a"/>
<line x1="353.2" y1="70.1" x2="356.2" y2="65.2" stroke="#2e0e66"/>
<line x1="400.2" y1="77.5" x2="398.6" y2="71.9" stroke="#5a1e9a"/>
<line x1="343.9" y1="122.2" x2="344.1" y2="113.5" stroke="#5a1e9a"/>
<line x1="328.2" y1="80.7" x2="329.2" y2="78.0" stroke="#5a1e9a"/>
<line x1="277.9" y1="132.0" x2="281.4" y2="127.4" stroke="#c84a7a"/>
<line x1="307.7" y1="63.4" x2="309.2" y2="60.9" stroke="#8a2a90"/>
<line x1="256.8" y1="106.6" x2="257.3" y2="100.8" stroke="#2e0e66"/>
<line x1="337.0" y1="95.5" x2="339.7" y2="87.3" stroke="#8a2a90"/>
<line x1="286.9" y1="96.0" x2="288.7" y2="93.8" stroke="#f2e0a4"/>
<line x1="229.3" y1="102.8" x2="233.0" y2="98.3" stroke="#8a2a90"/>
<line x1="391.2" y1="111.8" x2="390.9" y2="103.1" stroke="#e8705a"/>
<line x1="384.2" y1="64.7" x2="386.5" y2="59.3" stroke="#e8705a"/>
<line x1="267.4" y1="75.5" x2="269.2" y2="73.2" stroke="#5a1e9a"/>
<line x1="264.7" y1="71.7" x2="266.8" y2="66.2" stroke="#e8705a"/>
<line x1="379.5" y1="88.7" x2="379.5" y2="80.0" stroke="#8a2a90"/>
<line x1="273.7" y1="122.8" x2="278.3" y2="119.3" stroke="#10062a"/>
<line x1="257.2" y1="100.3" x2="260.8" y2="92.4" stroke="#f2e0a4"/>
<line x1="325.9" y1="119.9" x2="326.5" y2="117.1" stroke="#8a2a90"/>
<line x1="266.5" y1="73.9" x2="273.9" y2="69.3" stroke="#e8705a"/>
<line x1="280.0" y1="121.8" x2="281.7" y2="119.4" stroke="#8a2a90"/>
<line x1="282.9" y1="108.8" x2="287.2" y2="104.9" stroke="#2e0e66"/>
<line x1="304.5" y1="92.6" x2="305.9" y2="90.1" stroke="#c84a7a"/>
<line x1="413.4" y1="141.2" x2="416.6" y2="133.1" stroke="#f2e0a4"/>
<line x1="314.2" y1="73.7" x2="321.8" y2="69.5" stroke="#8a2a90"/>
<line x1="339.3" y1="72.3" x2="340.6" y2="69.7" stroke="#f2e0a4"/>
<line x1="380.6" y1="95.1" x2="377.8" y2="90.0" stroke="#5a1e9a"/>
<line x1="289.7" y1="89.2" x2="289.5" y2="83.5" stroke="#c84a7a"/>
<line x1="252.3" y1="80.6" x2="259.1" y2="75.2" stroke="#5a1e9a"/>
<line x1="413.7" y1="119.9" x2="412.2" y2="117.4" stroke="#c84a7a"/>
<line x1="389.0" y1="103.0" x2="389.8" y2="97.3" stroke="#e8705a"/>
<line x1="394.1" y1="129.9" x2="393.2" y2="121.3" stroke="#c84a7a"/>
<line x1="417.1" y1="105.6" x2="418.1" y2="99.9" stroke="#5a1e9a"/>
<line x1="329.3" y1="82.1" x2="332.9" y2="74.2" stroke="#2e0e66"/>
<line x1="355.7" y1="98.3" x2="356.8" y2="89.7" stroke="#2e0e66"/>
<line x1="408.5" y1="97.8" x2="407.5" y2="95.1" stroke="#f2e0a4"/>
<line x1="372.3" y1="67.6" x2="373.8" y2="62.0" stroke="#2e0e66"/>
<line x1="387.9" y1="64.2" x2="388.2" y2="58.4" stroke="#10062a"/>
<line x1="229.9" y1="94.8" x2="234.0" y2="87.1" stroke="#2e0e66"/>
<line x1="292.4" y1="112.1" x2="299.6" y2="107.3" stroke="#5a1e9a"/>
<line x1="344.7" y1="98.9" x2="348.3" y2="94.4" stroke="#f6a878"/>
<line x1="336.7" y1="66.5" x2="339.3" y2="58.2" stroke="#5a1e9a"/>
<line x1="298.5" y1="136.9" x2="300.6" y2="131.5" stroke="#c84a7a"/>
<line x1="336.6" y1="74.0" x2="338.4" y2="71.8" stroke="#5a1e9a"/>
<line x1="246.3" y1="133.2" x2="249.3" y2="128.2" stroke="#5a1e9a"/>
<line x1="289.7" y1="68.1" x2="295.0" y2="65.9" stroke="#2e0e66"/>
<line x1="347.5" y1="66.1" x2="350.8" y2="61.3" stroke="#5a1e9a"/>
<line x1="232.8" y1="72.7" x2="238.0" y2="70.0" stroke="#f2e0a4"/>
<line x1="259.7" y1="74.9" x2="264.0" y2="70.9" stroke="#e8705a"/>
<line x1="255.1" y1="63.6" x2="257.6" y2="62.0" stroke="#e8705a"/>
<line x1="343.1" y1="67.0" x2="347.8" y2="59.7" stroke="#e8705a"/>
<line x1="227.2" y1="68.5" x2="234.7" y2="64.1" stroke="#e8705a"/>
<line x1="327.7" y1="135.0" x2="328.3" y2="129.3" stroke="#c84a7a"/>
<line x1="312.0" y1="106.2" x2="314.1" y2="104.2" stroke="#c84a7a"/>
<line x1="239.8" y1="84.9" x2="241.9" y2="82.8" stroke="#f2e0a4"/>
<line x1="351.0" y1="93.8" x2="351.6" y2="88.0" stroke="#c84a7a"/>
<line x1="387.2" y1="82.6" x2="384.0" y2="74.5" stroke="#c84a7a"/>
<line x1="348.2" y1="117.6" x2="348.8" y2="109.0" stroke="#c84a7a"/>
<line x1="241.8" y1="97.6" x2="244.1" y2="92.2" stroke="#c84a7a"/>
<line x1="376.5" y1="82.0" x2="372.3" y2="77.9" stroke="#2e0e66"/>
<line x1="340.7" y1="68.8" x2="342.9" y2="63.4" stroke="#e8705a"/>
<line x1="323.0" y1="88.2" x2="324.9" y2="79.7" stroke="#2e0e66"/>
<line x1="404.6" y1="69.2" x2="409.1" y2="61.7" stroke="#2e0e66"/>
<line x1="350.3" y1="66.1" x2="355.9" y2="59.4" stroke="#10062a"/>
<line x1="230.2" y1="105.1" x2="236.5" y2="99.1" stroke="#e8705a"/>
<line x1="325.6" y1="100.2" x2="327.9" y2="91.8" stroke="#f2e0a4"/>
<line x1="354.6" y1="83.4" x2="354.8" y2="80.5" stroke="#2e0e66"/>
<line x1="334.2" y1="106.3" x2="335.3" y2="103.6" stroke="#c84a7a"/>
<line x1="260.9" y1="75.1" x2="268.1" y2="70.3" stroke="#f2e0a4"/>
<line x1="314.5" y1="71.2" x2="321.7" y2="66.3" stroke="#c84a7a"/>
<line x1="251.5" y1="133.3" x2="258.5" y2="128.1" stroke="#10062a"/>
<line x1="280.9" y1="97.4" x2="287.6" y2="91.8" stroke="#c84a7a"/>
<line x1="306.7" y1="122.9" x2="309.0" y2="114.5" stroke="#8a2a90"/>
<line x1="248.4" y1="106.3" x2="250.7" y2="104.5" stroke="#f6a878"/>
<line x1="417.6" y1="66.4" x2="418.4" y2="60.6" stroke="#c84a7a"/>
<line x1="351.0" y1="124.2" x2="350.9" y2="115.5" stroke="#5a1e9a"/>
<line x1="270.4" y1="72.4" x2="274.0" y2="67.9" stroke="#c84a7a"/>
<line x1="231.8" y1="114.2" x2="236.5" y2="110.7" stroke="#10062a"/>
<line x1="269.3" y1="79.7" x2="271.6" y2="78.0" stroke="#2e0e66"/>
<line x1="414.9" y1="88.6" x2="414.5" y2="82.8" stroke="#e8705a"/>
<line x1="319.9" y1="100.5" x2="324.0" y2="92.9" stroke="#c84a7a"/>
<line x1="374.6" y1="109.5" x2="374.2" y2="106.6" stroke="#2e0e66"/>
<line x1="389.4" y1="138.4" x2="390.1" y2="135.6" stroke="#f2e0a4"/>
<line x1="218.2" y1="102.3" x2="222.3" y2="98.2" stroke="#5a1e9a"/>
<line x1="379.7" y1="118.5" x2="381.9" y2="110.1" stroke="#f2e0a4"/>
<line x1="351.8" y1="134.0" x2="353.0" y2="128.3" stroke="#e8705a"/>
<line x1="359.6" y1="86.0" x2="364.0" y2="78.5" stroke="#c84a7a"/>
<line x1="229.8" y1="110.2" x2="237.5" y2="106.1" stroke="#c84a7a"/>
<line x1="411.9" y1="69.7" x2="412.1" y2="66.8" stroke="#10062a"/>
<line x1="414.3" y1="90.1" x2="414.7" y2="81.4" stroke="#e8705a"/>
<line x1="335.9" y1="102.1" x2="336.9" y2="99.3" stroke="#f2e0a4"/>
<line x1="268.6" y1="102.7" x2="271.6" y2="97.7" stroke="#f6a878"/>
<line x1="285.5" y1="123.4" x2="287.6" y2="121.4" stroke="#c84a7a"/>
<line x1="308.2" y1="99.7" x2="311.1" y2="94.8" stroke="#8a2a90"/>
<line x1="389.2" y1="104.6" x2="386.0" y2="99.8" stroke="#f2e0a4"/>
<line x1="388.3" y1="91.2" x2="387.4" y2="88.4" stroke="#10062a"/>
<line x1="286.8" y1="94.8" x2="290.5" y2="86.9" stroke="#e8705a"/>
<line x1="409.2" y1="74.0" x2="407.2" y2="71.9" stroke="#5a1e9a"/>
<line x1="352.3" y1="93.6" x2="358.1" y2="87.1" stroke="#2e0e66"/>
<line x1="316.7" y1="80.0" x2="322.8" y2="73.8" stroke="#f2e0a4"/>
<line x1="412.0" y1="97.5" x2="410.9" y2="94.9" stroke="#f6a878"/>
<line x1="220.5" y1="67.0" x2="227.3" y2="61.5" stroke="#8a2a90"/>
<line x1="375.8" y1="77.2" x2="375.4" y2="71.5" stroke="#f2e0a4"/>
<line x1="412.8" y1="68.4" x2="413.1" y2="65.5" stroke="#8a2a90"/>
<line x1="246.4" y1="139.6" x2="251.4" y2="132.4" stroke="#5a1e9a"/>
<line x1="342.0" y1="87.0" x2="343.9" y2="84.8" stroke="#8a2a90"/>
<line x1="408.0" y1="120.3" x2="407.5" y2="114.6" stroke="#f2e0a4"/>
<line x1="346.5" y1="83.9" x2="345.7" y2="78.2" stroke="#e8705a"/>
<line x1="301.6" y1="85.2" x2="306.2" y2="81.7" stroke="#2e0e66"/>
<line x1="246.5" y1="69.1" x2="248.0" y2="66.6" stroke="#10062a"/>
<line x1="251.1" y1="87.9" x2="250.0" y2="82.2" stroke="#10062a"/>
<line x1="336.8" y1="94.0" x2="334.3" y2="85.7" stroke="#c84a7a"/>
<line x1="329.7" y1="135.3" x2="330.3" y2="126.6" stroke="#10062a"/>
<line x1="391.4" y1="108.9" x2="391.1" y2="100.2" stroke="#f2e0a4"/>
<line x1="301.3" y1="94.9" x2="302.5" y2="86.3" stroke="#5a1e9a"/>
<line x1="305.2" y1="78.2" x2="309.4" y2="70.6" stroke="#10062a"/>
<line x1="384.6" y1="78.4" x2="381.4" y2="70.3" stroke="#2e0e66"/>
<line x1="335.3" y1="85.0" x2="340.0" y2="77.7" stroke="#5a1e9a"/>
<line x1="231.4" y1="130.1" x2="235.9" y2="122.6" stroke="#c84a7a"/>
<line x1="268.4" y1="132.4" x2="276.2" y2="128.4" stroke="#f6a878"/>
<line x1="228.5" y1="89.7" x2="233.3" y2="86.6" stroke="#e8705a"/>
<line x1="302.9" y1="102.5" x2="306.6" y2="94.6" stroke="#10062a"/>
<line x1="413.1" y1="93.7" x2="409.2" y2="85.9" stroke="#e8705a"/>
<line x1="280.1" y1="77.2" x2="282.2" y2="68.8" stroke="#f6a878"/>
<line x1="368.9" y1="90.4" x2="369.7" y2="87.7" stroke="#f2e0a4"/>
<line x1="358.6" y1="70.5" x2="362.0" y2="65.8" stroke="#5a1e9a"/>
<line x1="231.8" y1="136.2" x2="233.7" y2="130.7" stroke="#10062a"/>
<line x1="333.0" y1="135.6" x2="334.9" y2="127.1" stroke="#10062a"/>
<line x1="350.6" y1="136.0" x2="353.3" y2="130.9" stroke="#10062a"/>
<line x1="293.3" y1="102.7" x2="295.6" y2="97.4" stroke="#2e0e66"/>
<line x1="389.8" y1="69.6" x2="390.3" y2="66.7" stroke="#5a1e9a"/>
<line x1="249.1" y1="71.4" x2="250.5" y2="68.9" stroke="#10062a"/>
<line x1="407.9" y1="74.7" x2="407.5" y2="71.8" stroke="#10062a"/>
<line x1="338.3" y1="65.1" x2="342.8" y2="57.7" stroke="#5a1e9a"/>
<line x1="383.6" y1="112.3" x2="381.8" y2="106.7" stroke="#2e0e66"/>
<line x1="287.1" y1="109.5" x2="288.2" y2="106.8" stroke="#f2e0a4"/>
<line x1="341.4" y1="76.9" x2="343.1" y2="74.6" stroke="#2e0e66"/>
<line x1="319.7" y1="98.1" x2="320.6" y2="95.3" stroke="#10062a"/>
<line x1="405.3" y1="120.4" x2="407.5" y2="112.0" stroke="#f6a878"/>
<line x1="290.0" y1="104.6" x2="294.1" y2="97.0" stroke="#c84a7a"/>
<line x1="306.8" y1="129.7" x2="313.0" y2="123.6" stroke="#f6a878"/>
<line x1="320.4" y1="79.8" x2="321.6" y2="77.1" stroke="#5a1e9a"/>
<line x1="392.7" y1="104.2" x2="393.0" y2="101.4" stroke="#5a1e9a"/>
<line x1="369.2" y1="133.7" x2="371.5" y2="125.3" stroke="#c84a7a"/>
<line x1="276.7" y1="82.8" x2="280.9" y2="75.2" stroke="#2e0e66"/>
<line x1="243.0" y1="87.5" x2="246.6" y2="82.9" stroke="#c84a7a"/>
<line x1="402.8" y1="123.1" x2="401.5" y2="117.5" stroke="#10062a"/>
<line x1="296.9" y1="126.9" x2="302.6" y2="120.4" stroke="#c84a7a"/>
<line x1="408.4" y1="101.0" x2="405.0" y2="96.3" stroke="#10062a"/>
<line x1="347.0" y1="123.4" x2="348.5" y2="114.8" stroke="#2e0e66"/>
<line x1="268.4" y1="118.2" x2="274.2" y2="111.7" stroke="#e8705a"/>
<line x1="221.0" y1="77.5" x2="225.3" y2="73.6" stroke="#5a1e9a"/>
<line x1="333.1" y1="122.5" x2="333.3" y2="116.7" stroke="#c84a7a"/>
<line x1="298.6" y1="112.2" x2="302.0" y2="107.5" stroke="#5a1e9a"/>
<line x1="366.7" y1="100.2" x2="364.5" y2="91.8" stroke="#2e0e66"/>
<line x1="282.1" y1="132.8" x2="286.0" y2="128.5" stroke="#f2e0a4"/>
<line x1="303.1" y1="124.6" x2="307.9" y2="121.4" stroke="#c84a7a"/>
<line x1="357.2" y1="130.5" x2="356.7" y2="124.7" stroke="#f2e0a4"/>
<line x1="351.6" y1="91.3" x2="351.7" y2="85.5" stroke="#5a1e9a"/>
<line x1="252.1" y1="109.7" x2="257.9" y2="103.1" stroke="#f2e0a4"/>
<line x1="228.5" y1="68.9" x2="233.4" y2="65.8" stroke="#2e0e66"/>
<line x1="354.8" y1="108.8" x2="357.4" y2="100.6" stroke="#5a1e9a"/>
<line x1="338.4" y1="103.4" x2="339.7" y2="100.8" stroke="#8a2a90"/>
<line x1="271.8" y1="126.6" x2="272.9" y2="123.9" stroke="#2e0e66"/>
<line x1="412.6" y1="122.2" x2="412.3" y2="119.4" stroke="#2e0e66"/>
<line x1="391.0" y1="105.5" x2="391.3" y2="102.6" stroke="#f6a878"/>
<line x1="348.4" y1="66.2" x2="350.8" y2="57.8" stroke="#2e0e66"/>
<line x1="283.1" y1="77.3" x2="287.6" y2="73.6" stroke="#e8705a"/>
<line x1="256.8" y1="111.4" x2="263.4" y2="105.7" stroke="#2e0e66"/>
<line x1="285.4" y1="100.9" x2="286.3" y2="98.2" stroke="#f2e0a4"/>
<line x1="400.4" y1="71.6" x2="396.6" y2="67.2" stroke="#2e0e66"/>
<line x1="372.9" y1="117.3" x2="368.9" y2="109.6" stroke="#5a1e9a"/>
<line x1="327.1" y1="94.6" x2="328.6" y2="89.0" stroke="#c84a7a"/>
<line x1="249.4" y1="98.0" x2="253.8" y2="94.3" stroke="#8a2a90"/>
<line x1="374.8" y1="117.9" x2="372.7" y2="112.5" stroke="#f6a878"/>
<line x1="383.5" y1="120.5" x2="382.1" y2="114.8" stroke="#2e0e66"/>
<line x1="349.4" y1="72.1" x2="350.9" y2="69.6" stroke="#c84a7a"/>
<line x1="348.7" y1="126.7" x2="348.8" y2="120.9" stroke="#5a1e9a"/>
<line x1="372.0" y1="103.1" x2="370.7" y2="100.5" stroke="#e8705a"/>
<line x1="382.2" y1="113.8" x2="378.6" y2="109.2" stroke="#10062a"/>
<line x1="371.7" y1="134.4" x2="372.0" y2="131.5" stroke="#f2e0a4"/>
<line x1="397.3" y1="108.3" x2="395.9" y2="105.8" stroke="#10062a"/>
<line x1="289.6" y1="127.0" x2="291.7" y2="125.0" stroke="#f2e0a4"/>
<line x1="384.5" y1="111.8" x2="384.4" y2="103.1" stroke="#c84a7a"/>
<line x1="341.0" y1="111.2" x2="344.4" y2="106.5" stroke="#e8705a"/>
<line x1="229.7" y1="132.0" x2="233.4" y2="124.1" stroke="#f2e0a4"/>
<line x1="265.2" y1="72.6" x2="270.4" y2="65.7" stroke="#c84a7a"/>
<line x1="278.5" y1="65.1" x2="283.0" y2="61.4" stroke="#5a1e9a"/>
<line x1="306.5" y1="98.2" x2="308.4" y2="96.0" stroke="#e8705a"/>
<line x1="324.7" y1="82.1" x2="325.2" y2="79.3" stroke="#10062a"/>
<line x1="248.1" y1="77.7" x2="252.7" y2="74.1" stroke="#2e0e66"/>
<line x1="322.9" y1="126.2" x2="322.8" y2="123.3" stroke="#8a2a90"/>
<line x1="371.0" y1="114.4" x2="369.2" y2="105.9" stroke="#c84a7a"/>
<line x1="232.8" y1="117.3" x2="235.8" y2="112.3" stroke="#10062a"/>
<line x1="246.8" y1="79.0" x2="249.1" y2="77.2" stroke="#10062a"/>
<line x1="295.6" y1="88.9" x2="299.8" y2="81.3" stroke="#10062a"/>
<line x1="288.0" y1="135.6" x2="291.7" y2="131.1" stroke="#c84a7a"/>
<line x1="277.8" y1="86.3" x2="284.0" y2="80.3" stroke="#f2e0a4"/>
<line x1="371.5" y1="125.5" x2="368.7" y2="117.3" stroke="#10062a"/>
<line x1="218.7" y1="78.4" x2="220.6" y2="76.2" stroke="#f2e0a4"/>
<line x1="237.6" y1="96.9" x2="240.0" y2="91.6" stroke="#f2e0a4"/>
<line x1="388.9" y1="79.3" x2="386.6" y2="70.9" stroke="#c84a7a"/>
<line x1="256.5" y1="138.4" x2="259.7" y2="133.5" stroke="#10062a"/>
<line x1="349.8" y1="106.6" x2="348.5" y2="101.0" stroke="#10062a"/>
<line x1="329.9" y1="90.7" x2="332.3" y2="85.4" stroke="#10062a"/>
<line x1="283.6" y1="96.6" x2="287.1" y2="92.0" stroke="#8a2a90"/>
<line x1="241.3" y1="103.8" x2="248.7" y2="99.2" stroke="#10062a"/>
<line x1="304.4" y1="100.5" x2="306.8" y2="98.9" stroke="#8a2a90"/>
<line x1="331.0" y1="109.9" x2="332.9" y2="101.4" stroke="#e8705a"/>
<line x1="388.1" y1="102.3" x2="385.4" y2="97.1" stroke="#f2e0a4"/>
<line x1="370.6" y1="98.0" x2="370.4" y2="95.1" stroke="#2e0e66"/>
<line x1="409.3" y1="119.8" x2="411.0" y2="114.3" stroke="#f2e0a4"/>
<line x1="413.4" y1="75.7" x2="412.7" y2="72.9" stroke="#10062a"/>
<line x1="383.9" y1="105.7" x2="385.4" y2="97.2" stroke="#2e0e66"/>
<line x1="299.3" y1="127.6" x2="303.3" y2="123.4" stroke="#e8705a"/>
<line x1="249.7" y1="106.3" x2="251.0" y2="100.7" stroke="#5a1e9a"/>
<line x1="372.9" y1="133.4" x2="372.6" y2="130.5" stroke="#2e0e66"/>
<line x1="277.1" y1="73.6" x2="279.4" y2="65.3" stroke="#e8705a"/>
<line x1="301.2" y1="63.0" x2="309.2" y2="59.5" stroke="#10062a"/>
<line x1="326.3" y1="119.0" x2="328.6" y2="113.6" stroke="#f2e0a4"/>
<line x1="245.2" y1="91.0" x2="252.7" y2="86.4" stroke="#c84a7a"/>
<line x1="365.9" y1="133.7" x2="361.3" y2="126.3" stroke="#5a1e9a"/>
<line x1="320.1" y1="84.3" x2="320.7" y2="81.5" stroke="#5a1e9a"/>
<line x1="234.2" y1="90.2" x2="241.8" y2="86.0" stroke="#c84a7a"/>
<line x1="271.8" y1="115.4" x2="277.6" y2="114.9" stroke="#f2e0a4"/>
<line x1="266.3" y1="83.9" x2="271.2" y2="80.8" stroke="#5a1e9a"/>
<line x1="372.3" y1="82.6" x2="369.8" y2="74.3" stroke="#8a2a90"/>
<line x1="303.5" y1="98.7" x2="310.0" y2="92.9" stroke="#c84a7a"/>
<line x1="367.2" y1="92.5" x2="367.3" y2="89.6" stroke="#10062a"/>
<line x1="245.5" y1="137.0" x2="251.0" y2="135.3" stroke="#f6a878"/>
<line x1="401.5" y1="124.5" x2="399.3" y2="119.1" stroke="#f6a878"/>
<line x1="267.5" y1="138.2" x2="268.3" y2="135.4" stroke="#f2e0a4"/>
<line x1="268.9" y1="99.6" x2="272.7" y2="91.8" stroke="#10062a"/>
<line x1="370.8" y1="83.9" x2="367.6" y2="79.0" stroke="#e8705a"/>
<line x1="249.5" y1="82.8" x2="251.7" y2="74.4" stroke="#5a1e9a"/>
<line x1="218.8" y1="106.6" x2="222.2" y2="98.5" stroke="#2e0e66"/>
<line x1="352.7" y1="135.1" x2="354.8" y2="133.2" stroke="#e8705a"/>
<line x1="413.3" y1="68.3" x2="410.6" y2="60.0" stroke="#5a1e9a"/>
<line x1="365.6" y1="63.0" x2="363.7" y2="60.8" stroke="#f6a878"/>
<line x1="412.5" y1="125.3" x2="406.5" y2="119.0" stroke="#e8705a"/>
<line x1="224.8" y1="91.8" x2="228.7" y2="84.0" stroke="#5a1e9a"/>
<line x1="295.6" y1="75.6" x2="300.5" y2="72.4" stroke="#5a1e9a"/>
<line x1="335.4" y1="91.3" x2="337.6" y2="85.9" stroke="#2e0e66"/>
<line x1="405.1" y1="92.0" x2="407.5" y2="83.6" stroke="#c84a7a"/>
<line x1="288.3" y1="65.8" x2="293.8" y2="64.0" stroke="#f6a878"/>
<line x1="288.8" y1="81.0" x2="293.5" y2="77.6" stroke="#c84a7a"/>
<line x1="276.0" y1="101.5" x2="277.8" y2="99.2" stroke="#f2e0a4"/>
<line x1="340.3" y1="115.1" x2="344.1" y2="107.3" stroke="#5a1e9a"/>
<line x1="301.5" y1="133.5" x2="307.1" y2="126.8" stroke="#f6a878"/>
<line x1="351.0" y1="91.1" x2="354.8" y2="86.6" stroke="#8a2a90"/>
<line x1="228.0" y1="104.2" x2="233.7" y2="103.2" stroke="#c84a7a"/>
<line x1="254.9" y1="67.5" x2="256.9" y2="65.4" stroke="#5a1e9a"/>
<line x1="289.4" y1="136.0" x2="296.9" y2="131.5" stroke="#10062a"/>
<line x1="242.8" y1="114.0" x2="248.1" y2="111.6" stroke="#c84a7a"/>
<line x1="286.7" y1="67.6" x2="293.9" y2="62.7" stroke="#c84a7a"/>
<line x1="299.9" y1="105.5" x2="302.3" y2="103.9" stroke="#10062a"/>
<line x1="217.8" y1="108.3" x2="225.7" y2="104.4" stroke="#5a1e9a"/>
<line x1="364.3" y1="106.1" x2="363.0" y2="100.4" stroke="#2e0e66"/>
<line x1="390.5" y1="73.6" x2="389.1" y2="71.0" stroke="#5a1e9a"/>
<line x1="366.9" y1="115.8" x2="368.4" y2="110.2" stroke="#8a2a90"/>
<line x1="223.4" y1="117.7" x2="229.7" y2="111.8" stroke="#5a1e9a"/>
<line x1="231.0" y1="138.6" x2="232.3" y2="136.0" stroke="#2e0e66"/>
<line x1="342.0" y1="83.7" x2="343.6" y2="81.2" stroke="#10062a"/>
<line x1="238.6" y1="73.9" x2="243.4" y2="70.6" stroke="#f2e0a4"/>
<line x1="241.5" y1="121.5" x2="243.8" y2="119.8" stroke="#5a1e9a"/>
<line x1="336.5" y1="126.7" x2="340.2" y2="118.8" stroke="#e8705a"/>
<line x1="362.1" y1="66.0" x2="364.0" y2="57.5" stroke="#c84a7a"/>
<line x1="254.5" y1="121.8" x2="258.8" y2="114.2" stroke="#e8705a"/>
<line x1="398.8" y1="86.2" x2="399.9" y2="80.5" stroke="#c84a7a"/>
<line x1="402.2" y1="109.2" x2="399.7" y2="100.8" stroke="#f6a878"/>
<line x1="292.4" y1="122.1" x2="293.4" y2="116.4" stroke="#f6a878"/>
<line x1="237.9" y1="67.5" x2="240.4" y2="65.9" stroke="#f6a878"/>
<line x1="260.3" y1="115.9" x2="261.6" y2="113.2" stroke="#c84a7a"/>
<line x1="288.1" y1="123.7" x2="292.3" y2="116.1" stroke="#f6a878"/>
<line x1="291.2" y1="66.5" x2="299.2" y2="63.2" stroke="#f2e0a4"/>
<line x1="370.4" y1="86.5" x2="370.2" y2="77.8" stroke="#5a1e9a"/>
<line x1="233.1" y1="87.0" x2="235.3" y2="85.0" stroke="#e8705a"/>
<line x1="302.5" y1="115.6" x2="305.0" y2="114.0" stroke="#10062a"/>
<line x1="369.9" y1="137.3" x2="370.2" y2="134.4" stroke="#e8705a"/>
<line x1="416.0" y1="121.3" x2="412.0" y2="113.6" stroke="#c84a7a"/>
<line x1="235.6" y1="97.7" x2="239.4" y2="93.3" stroke="#f6a878"/>
<line x1="419.6" y1="119.2" x2="420.5" y2="116.5" stroke="#8a2a90"/>
<line x1="231.0" y1="78.3" x2="235.9" y2="75.3" stroke="#8a2a90"/>
<line x1="254.2" y1="76.6" x2="256.3" y2="74.5" stroke="#5a1e9a"/>
<line x1="290.8" y1="71.5" x2="294.4" y2="63.5" stroke="#c84a7a"/>
<line x1="219.2" y1="84.4" x2="222.9" y2="80.0" stroke="#f2e0a4"/>
<line x1="255.4" y1="83.6" x2="259.0" y2="75.7" stroke="#f6a878"/>
<line x1="308.3" y1="116.4" x2="316.7" y2="114.4" stroke="#e8705a"/>
<line x1="393.4" y1="105.9" x2="394.6" y2="100.2" stroke="#10062a"/>
<line x1="269.2" y1="113.1" x2="271.3" y2="111.1" stroke="#10062a"/>
<line x1="235.7" y1="85.7" x2="241.1" y2="83.7" stroke="#c84a7a"/>
<line x1="377.5" y1="69.2" x2="375.6" y2="63.7" stroke="#2e0e66"/>
<line x1="333.0" y1="104.1" x2="336.0" y2="99.2" stroke="#f2e0a4"/>
<line x1="233.6" y1="91.3" x2="242.2" y2="90.0" stroke="#f2e0a4"/>
<line x1="351.1" y1="92.7" x2="351.5" y2="86.9" stroke="#c84a7a"/>
<line x1="420.2" y1="79.6" x2="417.7" y2="71.3" stroke="#c84a7a"/>
<line x1="327.8" y1="128.0" x2="329.1" y2="122.4" stroke="#e8705a"/>
<line x1="256.7" y1="66.3" x2="256.6" y2="60.5" stroke="#f2e0a4"/>
<line x1="404.7" y1="66.9" x2="404.8" y2="64.0" stroke="#2e0e66"/>
<line x1="232.1" y1="91.7" x2="234.6" y2="90.2" stroke="#c84a7a"/>
<line x1="376.5" y1="117.3" x2="370.8" y2="110.8" stroke="#f2e0a4"/>
<line x1="263.9" y1="118.9" x2="268.9" y2="116.1" stroke="#f6a878"/>
<line x1="322.5" y1="124.9" x2="325.3" y2="116.6" stroke="#e8705a"/>
<line x1="272.6" y1="132.5" x2="274.0" y2="130.0" stroke="#f2e0a4"/>
<line x1="312.1" y1="122.8" x2="313.9" y2="120.6" stroke="#10062a"/>
<line x1="348.1" y1="101.0" x2="352.1" y2="96.8" stroke="#8a2a90"/>
<line x1="295.5" y1="133.6" x2="300.0" y2="130.0" stroke="#f2e0a4"/>
<line x1="225.4" y1="102.4" x2="231.6" y2="96.3" stroke="#e8705a"/>
<line x1="259.1" y1="116.3" x2="263.5" y2="112.5" stroke="#c84a7a"/>
<line x1="417.8" y1="94.7" x2="416.6" y2="89.0" stroke="#5a1e9a"/>
<line x1="392.2" y1="86.8" x2="391.0" y2="84.2" stroke="#5a1e9a"/>
<line x1="309.6" y1="128.2" x2="311.5" y2="126.0" stroke="#10062a"/>
<line x1="221.8" y1="64.2" x2="223.2" y2="61.7" stroke="#2e0e66"/>
<line x1="345.2" y1="96.6" x2="343.8" y2="88.1" stroke="#10062a"/>
<line x1="321.9" y1="68.4" x2="324.6" y2="60.1" stroke="#10062a"/>
<line x1="366.4" y1="84.7" x2="365.4" y2="82.0" stroke="#5a1e9a"/>
<line x1="404.9" y1="134.2" x2="399.6" y2="127.3" stroke="#5a1e9a"/>
<line x1="390.6" y1="64.8" x2="391.6" y2="59.0" stroke="#f6a878"/>
<line x1="342.1" y1="124.8" x2="342.7" y2="121.9" stroke="#c84a7a"/>
<line x1="360.5" y1="114.7" x2="363.7" y2="106.6" stroke="#8a2a90"/>
<line x1="218.6" y1="105.7" x2="225.1" y2="99.9" stroke="#10062a"/>
<line x1="418.9" y1="140.0" x2="416.0" y2="131.9" stroke="#f6a878"/>
<line x1="414.9" y1="117.5" x2="413.5" y2="111.9" stroke="#2e0e66"/>
<line x1="351.7" y1="128.4" x2="351.7" y2="125.5" stroke="#e8705a"/>
<line x1="399.3" y1="74.9" x2="398.7" y2="72.1" stroke="#2e0e66"/>
<line x1="369.4" y1="98.2" x2="369.0" y2="92.4" stroke="#f2e0a4"/>
<line x1="267.1" y1="76.1" x2="271.2" y2="72.0" stroke="#c84a7a"/>
<line x1="252.6" y1="69.4" x2="256.3" y2="61.6" stroke="#e8705a"/>
<line x1="273.7" y1="63.6" x2="277.5" y2="59.2" stroke="#2e0e66"/>
<line x1="379.4" y1="89.9" x2="375.4" y2="85.8" stroke="#f6a878"/>
<line x1="319.8" y1="120.6" x2="321.6" y2="115.1" stroke="#2e0e66"/>
<line x1="336.0" y1="129.1" x2="335.4" y2="123.3" stroke="#8a2a90"/>
<line x1="283.7" y1="111.4" x2="285.5" y2="109.1" stroke="#5a1e9a"/>
<line x1="417.5" y1="112.8" x2="416.7" y2="107.0" stroke="#5a1e9a"/>
<line x1="233.6" y1="73.9" x2="241.5" y2="70.3" stroke="#f2e0a4"/>
<line x1="370.3" y1="100.3" x2="368.0" y2="98.5" stroke="#c84a7a"/>
<line x1="377.3" y1="119.0" x2="376.5" y2="116.2" stroke="#10062a"/>
<line x1="363.9" y1="98.7" x2="364.2" y2="90.0" stroke="#8a2a90"/>
<line x1="360.1" y1="129.6" x2="361.1" y2="123.9" stroke="#f2e0a4"/>
<line x1="249.6" y1="117.1" x2="255.4" y2="117.4" stroke="#e8705a"/>
<line x1="320.6" y1="69.1" x2="321.3" y2="66.3" stroke="#e8705a"/>
<line x1="329.0" y1="101.4" x2="331.4" y2="96.1" stroke="#f2e0a4"/>
<line x1="224.1" y1="125.3" x2="232.8" y2="124.6" stroke="#5a1e9a"/>
<line x1="330.0" y1="134.8" x2="331.7" y2="132.5" stroke="#f6a878"/>
<line x1="247.9" y1="132.5" x2="249.8" y2="130.3" stroke="#c84a7a"/>
<line x1="256.9" y1="67.9" x2="257.8" y2="59.2" stroke="#5a1e9a"/>
<line x1="411.4" y1="139.4" x2="410.3" y2="130.7" stroke="#2e0e66"/>
<line x1="264.1" y1="99.0" x2="271.0" y2="93.8" stroke="#c84a7a"/>
<line x1="373.9" y1="122.5" x2="372.0" y2="117.0" stroke="#f2e0a4"/>
<line x1="334.4" y1="83.8" x2="335.1" y2="81.0" stroke="#2e0e66"/>
<line x1="393.9" y1="64.7" x2="394.6" y2="61.9" stroke="#5a1e9a"/>
<line x1="362.9" y1="129.5" x2="364.6" y2="123.9" stroke="#5a1e9a"/>
<line x1="248.2" y1="105.9" x2="253.8" y2="99.2" stroke="#5a1e9a"/>
<line x1="286.1" y1="139.4" x2="287.7" y2="133.9" stroke="#e8705a"/>
<line x1="406.8" y1="118.9" x2="405.3" y2="113.3" stroke="#c84a7a"/>
<line x1="302.3" y1="124.3" x2="304.3" y2="122.2" stroke="#10062a"/>
<line x1="374.2" y1="65.0" x2="373.4" y2="59.3" stroke="#10062a"/>
<line x1="228.8" y1="131.6" x2="230.1" y2="129.0" stroke="#c84a7a"/>
<line x1="254.3" y1="125.1" x2="256.5" y2="123.2" stroke="#e8705a"/>
<line x1="333.3" y1="129.6" x2="333.8" y2="123.8" stroke="#2e0e66"/>
<line x1="380.8" y1="100.7" x2="381.3" y2="92.1" stroke="#8a2a90"/>
<line x1="220.7" y1="87.9" x2="223.5" y2="82.8" stroke="#5a1e9a"/>
<line x1="416.6" y1="76.2" x2="417.0" y2="67.5" stroke="#f6a878"/>
<line x1="283.7" y1="132.6" x2="286.1" y2="130.9" stroke="#e8705a"/>
<line x1="295.4" y1="139.8" x2="298.3" y2="131.6" stroke="#2e0e66"/>
<line x1="378.5" y1="87.0" x2="378.3" y2="81.2" stroke="#8a2a90"/>
<line x1="333.6" y1="123.6" x2="333.7" y2="120.7" stroke="#10062a"/>
<line x1="294.6" y1="137.9" x2="300.5" y2="131.5" stroke="#10062a"/>
<line x1="397.9" y1="137.8" x2="397.2" y2="129.1" stroke="#c84a7a"/>
<line x1="274.7" y1="89.9" x2="276.2" y2="87.5" stroke="#5a1e9a"/>
<line x1="400.9" y1="95.1" x2="400.2" y2="92.3" stroke="#f2e0a4"/>
<line x1="394.8" y1="104.8" x2="392.0" y2="99.7" stroke="#e8705a"/>
<line x1="409.6" y1="128.2" x2="405.8" y2="123.8" stroke="#f2e0a4"/>
<line x1="315.3" y1="70.6" x2="320.6" y2="68.2" stroke="#5a1e9a"/>
<line x1="228.8" y1="102.3" x2="234.4" y2="100.9" stroke="#e8705a"/>
<line x1="248.6" y1="99.7" x2="253.5" y2="96.6" stroke="#5a1e9a"/>
<line x1="355.4" y1="132.4" x2="360.2" y2="125.2" stroke="#5a1e9a"/>
<line x1="223.1" y1="83.2" x2="227.6" y2="75.8" stroke="#5a1e9a"/>
<line x1="241.2" y1="124.9" x2="246.5" y2="118.0" stroke="#5a1e9a"/>
<line x1="373.8" y1="91.2" x2="371.6" y2="85.8" stroke="#10062a"/>
<line x1="323.1" y1="70.2" x2="324.9" y2="61.7" stroke="#10062a"/>
<line x1="339.1" y1="83.3" x2="340.5" y2="77.7" stroke="#8a2a90"/>
<line x1="295.5" y1="90.6" x2="297.6" y2="88.6" stroke="#2e0e66"/>
<line x1="404.6" y1="95.0" x2="403.0" y2="92.6" stroke="#10062a"/>
<line x1="296.9" y1="100.9" x2="298.2" y2="98.4" stroke="#c84a7a"/>
<line x1="215.6" y1="119.6" x2="223.7" y2="116.5" stroke="#2e0e66"/>
<line x1="279.8" y1="93.3" x2="280.8" y2="90.6" stroke="#8a2a90"/>
<line x1="316.5" y1="95.9" x2="320.3" y2="91.5" stroke="#e8705a"/>
<line x1="225.2" y1="116.3" x2="226.2" y2="113.7" stroke="#e8705a"/>
<line x1="328.4" y1="75.5" x2="329.9" y2="69.9" stroke="#5a1e9a"/>
<line x1="369.1" y1="88.6" x2="368.4" y2="85.7" stroke="#2e0e66"/>
<line x1="361.4" y1="124.0" x2="361.1" y2="121.1" stroke="#f2e0a4"/>
<line x1="225.9" y1="112.2" x2="228.3" y2="110.6" stroke="#8a2a90"/>
<line x1="267.7" y1="85.2" x2="272.3" y2="81.7" stroke="#2e0e66"/>
<line x1="338.1" y1="78.7" x2="338.3" y2="75.8" stroke="#c84a7a"/>
<line x1="268.1" y1="80.2" x2="272.2" y2="72.5" stroke="#e8705a"/>
<line x1="324.7" y1="113.4" x2="323.5" y2="104.7" stroke="#c84a7a"/>
<line x1="365.9" y1="99.5" x2="362.2" y2="91.6" stroke="#c84a7a"/>
<line x1="239.7" y1="106.8" x2="245.6" y2="100.4" stroke="#e8705a"/>
<line x1="226.3" y1="114.4" x2="228.8" y2="112.9" stroke="#f6a878"/>
<line x1="373.5" y1="77.6" x2="368.9" y2="70.2" stroke="#c84a7a"/>
<line x1="224.0" y1="117.2" x2="231.9" y2="113.6" stroke="#f2e0a4"/>
<line x1="300.1" y1="130.7" x2="307.1" y2="125.5" stroke="#5a1e9a"/>
<line x1="272.3" y1="107.9" x2="279.8" y2="103.5" stroke="#c84a7a"/>
<line x1="333.6" y1="120.0" x2="333.6" y2="117.1" stroke="#e8705a"/>
<line x1="417.1" y1="81.4" x2="416.6" y2="78.5" stroke="#5a1e9a"/>
<line x1="220.7" y1="130.0" x2="226.5" y2="123.5" stroke="#f6a878"/>
<line x1="341.5" y1="122.7" x2="343.5" y2="114.2" stroke="#10062a"/>
<line x1="317.5" y1="83.7" x2="319.3" y2="81.4" stroke="#5a1e9a"/>
<line x1="346.3" y1="127.5" x2="346.3" y2="124.6" stroke="#5a1e9a"/>
<line x1="418.3" y1="69.0" x2="419.8" y2="63.4" stroke="#5a1e9a"/>
<line x1="405.8" y1="90.4" x2="404.3" y2="84.8" stroke="#2e0e66"/>
<line x1="290.5" y1="74.2" x2="292.3" y2="72.0" stroke="#e8705a"/>
<line x1="420.2" y1="86.7" x2="413.2" y2="81.5" stroke="#10062a"/>
<line x1="409.5" y1="111.2" x2="407.8" y2="102.6" stroke="#e8705a"/>
<line x1="233.4" y1="98.5" x2="236.4" y2="93.5" stroke="#e8705a"/>
<line x1="285.0" y1="121.1" x2="287.5" y2="119.7" stroke="#2e0e66"/>
<line x1="405.7" y1="64.4" x2="405.3" y2="61.5" stroke="#e8705a"/>
<line x1="418.3" y1="117.3" x2="415.7" y2="109.0" stroke="#2e0e66"/>
<line x1="241.9" y1="138.3" x2="240.0" y2="129.8" stroke="#c84a7a"/>
<line x1="418.0" y1="80.3" x2="416.9" y2="71.6" stroke="#5a1e9a"/>
<line x1="262.0" y1="89.9" x2="269.1" y2="85.0" stroke="#5a1e9a"/>
<line x1="386.2" y1="77.6" x2="385.4" y2="74.8" stroke="#5a1e9a"/>
<line x1="259.9" y1="89.4" x2="262.4" y2="84.2" stroke="#8a2a90"/>
<line x1="365.5" y1="139.6" x2="366.2" y2="131.0" stroke="#f2e0a4"/>
<line x1="284.6" y1="98.1" x2="290.0" y2="91.3" stroke="#c84a7a"/>
<line x1="334.9" y1="101.5" x2="337.1" y2="93.0" stroke="#8a2a90"/>
<line x1="236.2" y1="135.4" x2="240.4" y2="127.8" stroke="#2e0e66"/>
<line x1="261.0" y1="74.5" x2="262.8" y2="72.2" stroke="#2e0e66"/>
<line x1="337.3" y1="65.6" x2="342.1" y2="58.3" stroke="#f2e0a4"/>
<line x1="375.9" y1="124.6" x2="374.7" y2="119.0" stroke="#10062a"/>
<line x1="329.3" y1="115.1" x2="331.7" y2="113.4" stroke="#e8705a"/>
<line x1="405.7" y1="123.2" x2="402.6" y2="115.1" stroke="#c84a7a"/>
<line x1="361.5" y1="82.3" x2="362.8" y2="79.7" stroke="#8a2a90"/>
<line x1="318.7" y1="129.5" x2="321.1" y2="127.8" stroke="#8a2a90"/>
<line x1="308.0" y1="118.2" x2="310.6" y2="113.0" stroke="#10062a"/>
<line x1="356.9" y1="128.7" x2="359.5" y2="123.5" stroke="#f6a878"/>
<line x1="229.1" y1="75.1" x2="231.7" y2="73.9" stroke="#e8705a"/>
<line x1="318.9" y1="80.4" x2="323.2" y2="72.9" stroke="#10062a"/>
<line x1="255.3" y1="65.8" x2="255.8" y2="62.9" stroke="#f6a878"/>
<line x1="363.1" y1="127.4" x2="364.4" y2="118.8" stroke="#2e0e66"/>
<line x1="245.4" y1="76.0" x2="249.8" y2="72.2" stroke="#f2e0a4"/>
<line x1="374.6" y1="65.5" x2="375.2" y2="56.8" stroke="#f2e0a4"/>
<line x1="372.8" y1="78.8" x2="372.1" y2="75.9" stroke="#e8705a"/>
<line x1="312.9" y1="69.2" x2="319.8" y2="63.9" stroke="#f2e0a4"/>
<line x1="221.6" y1="94.9" x2="224.8" y2="90.1" stroke="#c84a7a"/>
<line x1="334.4" y1="78.3" x2="339.4" y2="71.2" stroke="#5a1e9a"/>
<line x1="331.6" y1="71.9" x2="334.5" y2="66.9" stroke="#f6a878"/>
<line x1="409.2" y1="121.6" x2="407.2" y2="116.2" stroke="#5a1e9a"/>
<line x1="378.2" y1="99.1" x2="377.5" y2="96.3" stroke="#5a1e9a"/>
<line x1="309.5" y1="99.7" x2="316.6" y2="94.8" stroke="#10062a"/>
<line x1="329.4" y1="66.0" x2="330.6" y2="63.3" stroke="#5a1e9a"/>
<line x1="276.3" y1="91.9" x2="283.1" y2="86.5" stroke="#f2e0a4"/>
<line x1="266.0" y1="119.0" x2="267.6" y2="116.5" stroke="#8a2a90"/>
<line x1="299.6" y1="116.8" x2="304.9" y2="114.3" stroke="#8a2a90"/>
<line x1="365.0" y1="89.5" x2="363.8" y2="80.9" stroke="#10062a"/>
<line x1="273.5" y1="80.9" x2="278.4" y2="77.7" stroke="#c84a7a"/>
<line x1="334.3" y1="88.0" x2="339.6" y2="81.1" stroke="#e8705a"/>
<line x1="292.5" y1="99.4" x2="293.9" y2="96.9" stroke="#e8705a"/>
<line x1="406.8" y1="134.0" x2="403.7" y2="125.9" stroke="#f2e0a4"/>
<line x1="233.8" y1="104.9" x2="238.5" y2="97.6" stroke="#f6a878"/>
<line x1="345.4" y1="78.4" x2="347.4" y2="69.9" stroke="#f2e0a4"/>
<line x1="232.0" y1="70.2" x2="237.4" y2="68.2" stroke="#8a2a90"/>
<line x1="245.5" y1="91.9" x2="251.3" y2="85.5" stroke="#5a1e9a"/>
<line x1="281.4" y1="136.5" x2="288.8" y2="131.9" stroke="#f2e0a4"/>
<line x1="238.8" y1="85.7" x2="240.3" y2="83.2" stroke="#c84a7a"/>
<line x1="403.6" y1="73.8" x2="404.8" y2="71.2" stroke="#e8705a"/>
<line x1="398.0" y1="103.5" x2="398.1" y2="100.6" stroke="#8a2a90"/>
<line x1="287.4" y1="100.2" x2="290.1" y2="99.0" stroke="#f6a878"/>
<line x1="377.1" y1="68.3" x2="375.6" y2="65.8" stroke="#f6a878"/>
<line x1="338.3" y1="81.0" x2="343.1" y2="73.7" stroke="#10062a"/>
<line x1="287.5" y1="78.4" x2="290.9" y2="73.8" stroke="#5a1e9a"/>
<line x1="405.8" y1="122.6" x2="404.0" y2="117.1" stroke="#10062a"/>
<line x1="371.0" y1="78.3" x2="369.2" y2="72.9" stroke="#5a1e9a"/>
<line x1="300.1" y1="97.8" x2="303.5" y2="93.1" stroke="#5a1e9a"/>
<line x1="354.1" y1="140.2" x2="357.5" y2="132.2" stroke="#e8705a"/>
<line x1="319.6" y1="64.9" x2="320.5" y2="62.2" stroke="#e8705a"/>
<line x1="408.5" y1="78.5" x2="404.9" y2="70.6" stroke="#e8705a"/>
<line x1="388.1" y1="101.9" x2="387.8" y2="96.1" stroke="#f2e0a4"/>
<line x1="222.0" y1="126.0" x2="229.2" y2="121.1" stroke="#5a1e9a"/>
<line x1="357.9" y1="98.3" x2="358.0" y2="95.4" stroke="#2e0e66"/>
<line x1="351.3" y1="132.1" x2="351.3" y2="129.2" stroke="#8a2a90"/>
<line x1="400.3" y1="95.8" x2="399.5" y2="93.0" stroke="#8a2a90"/>
<line x1="346.2" y1="124.5" x2="349.3" y2="116.4" stroke="#10062a"/>
<line x1="376.5" y1="134.1" x2="375.2" y2="125.5" stroke="#5a1e9a"/>
<line x1="253.9" y1="71.3" x2="261.7" y2="67.5" stroke="#e8705a"/>
<line x1="343.6" y1="117.0" x2="346.5" y2="112.0" stroke="#f6a878"/>
<line x1="370.3" y1="120.0" x2="370.8" y2="111.3" stroke="#5a1e9a"/>
<line x1="311.1" y1="75.5" x2="314.2" y2="70.6" stroke="#e8705a"/>
<line x1="350.2" y1="101.0" x2="352.2" y2="92.6" stroke="#5a1e9a"/>
<line x1="328.4" y1="137.5" x2="332.2" y2="129.7" stroke="#e8705a"/>
<line x1="250.4" y1="97.2" x2="255.5" y2="90.2" stroke="#5a1e9a"/>
<line x1="296.1" y1="81.6" x2="302.5" y2="75.6" stroke="#5a1e9a"/>
<line x1="405.7" y1="123.2" x2="405.5" y2="117.5" stroke="#e8705a"/>
<line x1="232.7" y1="125.7" x2="236.4" y2="121.2" stroke="#e8705a"/>
<line x1="243.5" y1="94.7" x2="248.5" y2="87.5" stroke="#10062a"/>
<line x1="340.8" y1="72.4" x2="340.4" y2="69.5" stroke="#2e0e66"/>
<line x1="262.7" y1="107.6" x2="270.4" y2="103.5" stroke="#f2e0a4"/>
<line x1="324.8" y1="95.7" x2="324.6" y2="89.9" stroke="#2e0e66"/>
<line x1="351.3" y1="128.2" x2="352.4" y2="125.6" stroke="#f2e0a4"/>
<line x1="243.9" y1="105.5" x2="247.6" y2="97.6" stroke="#c84a7a"/>
<line x1="364.7" y1="90.1" x2="362.8" y2="84.7" stroke="#c84a7a"/>
<line x1="342.2" y1="141.3" x2="342.7" y2="132.6" stroke="#2e0e66"/>
<line x1="257.8" y1="113.9" x2="266.0" y2="111.1" stroke="#c84a7a"/>
<line x1="416.4" y1="81.2" x2="416.2" y2="78.4" stroke="#8a2a90"/>
<line x1="363.5" y1="127.6" x2="364.0" y2="124.7" stroke="#10062a"/>
<line x1="233.1" y1="84.7" x2="240.9" y2="80.8" stroke="#5a1e9a"/>
<line x1="407.3" y1="82.1" x2="407.0" y2="76.3" stroke="#f2e0a4"/>
<line x1="249.6" y1="83.7" x2="254.6" y2="80.7" stroke="#f2e0a4"/>
<line x1="234.1" y1="128.1" x2="236.3" y2="122.8" stroke="#e8705a"/>
<line x1="260.9" y1="66.1" x2="262.4" y2="57.6" stroke="#5a1e9a"/>
<line x1="317.1" y1="107.3" x2="319.8" y2="106.1" stroke="#e8705a"/>
<line x1="370.5" y1="125.7" x2="369.8" y2="120.0" stroke="#8a2a90"/>
<line x1="293.7" y1="116.0" x2="295.5" y2="113.7" stroke="#5a1e9a"/>
<line x1="257.7" y1="108.8" x2="259.8" y2="106.8" stroke="#f6a878"/>
<line x1="217.9" y1="79.8" x2="223.4" y2="73.0" stroke="#f6a878"/>
<line x1="378.4" y1="125.5" x2="376.9" y2="123.0" stroke="#e8705a"/>
<line x1="245.5" y1="123.2" x2="249.4" y2="115.4" stroke="#5a1e9a"/>
<line x1="264.0" y1="83.5" x2="271.1" y2="78.5" stroke="#8a2a90"/>
<line x1="413.0" y1="63.5" x2="412.7" y2="60.7" stroke="#f2e0a4"/>
<line x1="268.2" y1="92.7" x2="270.5" y2="91.0" stroke="#e8705a"/>
<line x1="261.5" y1="121.6" x2="263.8" y2="116.3" stroke="#c84a7a"/>
<line x1="406.4" y1="118.4" x2="406.3" y2="109.7" stroke="#e8705a"/>
<line x1="257.5" y1="73.2" x2="260.4" y2="68.1" stroke="#f2e0a4"/>
<line x1="286.7" y1="133.1" x2="291.7" y2="130.1" stroke="#5a1e9a"/>
<line x1="264.3" y1="96.7" x2="266.3" y2="94.5" stroke="#c84a7a"/>
<line x1="346.5" y1="128.8" x2="346.9" y2="125.9" stroke="#f2e0a4"/>
<line x1="405.8" y1="107.5" x2="404.0" y2="102.0" stroke="#5a1e9a"/>
<line x1="257.5" y1="137.9" x2="260.7" y2="133.0" stroke="#f2e0a4"/>
<line x1="235.0" y1="76.9" x2="240.0" y2="74.0" stroke="#e8705a"/>
<line x1="383.7" y1="78.9" x2="383.1" y2="76.0" stroke="#5a1e9a"/>
<line x1="320.7" y1="70.5" x2="323.5" y2="62.2" stroke="#c84a7a"/>
<line x1="282.8" y1="132.0" x2="285.8" y2="123.8" stroke="#2e0e66"/>
<line x1="268.0" y1="82.8" x2="274.2" y2="76.7" stroke="#c84a7a"/>
<line x1="340.6" y1="105.4" x2="345.6" y2="98.3" stroke="#5a1e9a"/>
<line x1="418.4" y1="75.2" x2="417.9" y2="69.4" stroke="#e8705a"/>
<line x1="221.8" y1="141.2" x2="224.9" y2="133.1" stroke="#f2e0a4"/>
<line x1="240.5" y1="128.5" x2="241.7" y2="122.9" stroke="#e8705a"/>
<line x1="292.4" y1="99.3" x2="296.1" y2="91.4" stroke="#e8705a"/>
<line x1="259.1" y1="77.9" x2="265.8" y2="72.3" stroke="#8a2a90"/>
<line x1="288.2" y1="76.6" x2="295.9" y2="72.6" stroke="#c84a7a"/>
<line x1="247.0" y1="112.9" x2="248.7" y2="110.6" stroke="#5a1e9a"/>
<line x1="268.2" y1="122.8" x2="270.2" y2="120.8" stroke="#5a1e9a"/>
<line x1="306.4" y1="120.3" x2="308.2" y2="118.0" stroke="#5a1e9a"/>
<line x1="408.9" y1="96.6" x2="408.8" y2="90.8" stroke="#5a1e9a"/>
<line x1="287.4" y1="126.8" x2="293.8" y2="120.9" stroke="#f2e0a4"/>
<line x1="255.2" y1="83.4" x2="263.7" y2="81.7" stroke="#e8705a"/>
<line x1="416.8" y1="65.9" x2="415.4" y2="60.2" stroke="#c84a7a"/>
<line x1="378.4" y1="120.0" x2="375.8" y2="111.7" stroke="#5a1e9a"/>
<line x1="222.4" y1="121.1" x2="228.0" y2="119.7" stroke="#8a2a90"/>
<line x1="309.6" y1="111.1" x2="310.9" y2="108.5" stroke="#c84a7a"/>
<line x1="298.6" y1="131.7" x2="300.8" y2="129.8" stroke="#10062a"/>
<line x1="390.2" y1="122.2" x2="388.2" y2="116.8" stroke="#f2e0a4"/>
<line x1="259.7" y1="78.2" x2="262.1" y2="76.5" stroke="#f6a878"/>
<line x1="242.4" y1="125.1" x2="243.1" y2="122.3" stroke="#8a2a90"/>
<line x1="287.9" y1="129.3" x2="289.2" y2="126.8" stroke="#f6a878"/>
<line x1="376.3" y1="138.7" x2="374.9" y2="130.2" stroke="#5a1e9a"/>
<line x1="363.4" y1="71.0" x2="361.5" y2="65.5" stroke="#f2e0a4"/>
<line x1="301.6" y1="128.0" x2="304.7" y2="123.1" stroke="#c84a7a"/>
<line x1="347.2" y1="81.0" x2="349.4" y2="72.5" stroke="#5a1e9a"/>
<line x1="400.5" y1="74.1" x2="402.5" y2="68.7" stroke="#10062a"/>
<line x1="363.2" y1="66.3" x2="361.7" y2="60.7" stroke="#f6a878"/>
<line x1="319.8" y1="107.9" x2="320.7" y2="102.2" stroke="#c84a7a"/>
<line x1="299.6" y1="121.0" x2="301.7" y2="115.5" stroke="#8a2a90"/>
<line x1="221.5" y1="137.4" x2="225.6" y2="133.3" stroke="#10062a"/>
<line x1="346.9" y1="86.8" x2="348.1" y2="84.2" stroke="#2e0e66"/>
<line x1="402.9" y1="130.2" x2="401.3" y2="124.6" stroke="#8a2a90"/>
<line x1="277.6" y1="93.7" x2="282.2" y2="90.1" stroke="#e8705a"/>
<line x1="311.3" y1="85.0" x2="315.0" y2="77.1" stroke="#8a2a90"/>
<line x1="379.6" y1="80.4" x2="378.9" y2="74.7" stroke="#c84a7a"/>
<line x1="252.4" y1="76.8" x2="254.9" y2="71.6" stroke="#c84a7a"/>
<line x1="221.6" y1="80.9" x2="226.6" y2="73.8" stroke="#10062a"/>
<line x1="366.1" y1="111.9" x2="365.0" y2="109.3" stroke="#10062a"/>
<line x1="405.1" y1="79.8" x2="404.8" y2="76.9" stroke="#5a1e9a"/>
<line x1="267.4" y1="79.9" x2="269.4" y2="77.7" stroke="#10062a"/>
<line x1="372.7" y1="83.7" x2="373.0" y2="80.9" stroke="#8a2a90"/>
<line x1="299.9" y1="69.9" x2="304.7" y2="66.7" stroke="#c84a7a"/>
<line x1="338.5" y1="80.2" x2="342.0" y2="72.2" stroke="#5a1e9a"/>
<line x1="417.3" y1="122.4" x2="414.5" y2="114.2" stroke="#f6a878"/>
<line x1="274.7" y1="131.6" x2="277.6" y2="126.6" stroke="#5a1e9a"/>
<line x1="295.8" y1="122.7" x2="297.8" y2="117.2" stroke="#5a1e9a"/>
<line x1="364.0" y1="79.2" x2="364.7" y2="76.4" stroke="#5a1e9a"/>
<line x1="363.6" y1="74.7" x2="363.0" y2="66.0" stroke="#10062a"/>
<line x1="372.5" y1="73.6" x2="370.9" y2="68.0" stroke="#8a2a90"/>
<line x1="221.3" y1="72.5" x2="224.0" y2="71.6" stroke="#10062a"/>
<line x1="268.0" y1="74.7" x2="275.5" y2="70.2" stroke="#e8705a"/>
<line x1="414.8" y1="117.6" x2="415.4" y2="109.0" stroke="#e8705a"/>
<line x1="349.6" y1="131.9" x2="350.9" y2="129.4" stroke="#c84a7a"/>
<line x1="288.5" y1="116.6" x2="295.1" y2="110.9" stroke="#f6a878"/>
<line x1="378.2" y1="133.2" x2="378.1" y2="130.3" stroke="#5a1e9a"/>
<line x1="354.9" y1="97.0" x2="356.8" y2="88.5" stroke="#c84a7a"/>
<line x1="271.3" y1="132.1" x2="272.9" y2="129.7" stroke="#10062a"/>
<line x1="255.3" y1="76.0" x2="259.7" y2="72.2" stroke="#10062a"/>
<line x1="361.8" y1="112.9" x2="362.5" y2="110.1" stroke="#c84a7a"/>
<line x1="262.0" y1="65.8" x2="264.0" y2="63.7" stroke="#f2e0a4"/>
<line x1="407.5" y1="102.8" x2="408.2" y2="97.1" stroke="#10062a"/>
<line x1="385.3" y1="103.3" x2="383.7" y2="94.7" stroke="#5a1e9a"/>
<line x1="284.9" y1="126.7" x2="290.0" y2="124.1" stroke="#8a2a90"/>
<line x1="386.8" y1="132.9" x2="385.7" y2="127.2" stroke="#c84a7a"/>
<line x1="255.9" y1="78.1" x2="258.5" y2="72.9" stroke="#8a2a90"/>
<line x1="373.1" y1="118.1" x2="372.9" y2="109.4" stroke="#5a1e9a"/>
<line x1="364.3" y1="72.0" x2="363.4" y2="69.3" stroke="#c84a7a"/>
<line x1="225.0" y1="108.0" x2="229.9" y2="100.9" stroke="#f2e0a4"/>
<line x1="401.8" y1="106.0" x2="402.5" y2="100.2" stroke="#c84a7a"/>
<line x1="417.1" y1="136.5" x2="415.0" y2="131.1" stroke="#5a1e9a"/>
<line x1="282.6" y1="91.1" x2="284.5" y2="88.9" stroke="#c84a7a"/>
<line x1="233.3" y1="99.2" x2="239.1" y2="98.4" stroke="#f2e0a4"/>
<line x1="354.1" y1="77.4" x2="354.7" y2="68.7" stroke="#10062a"/>
<line x1="305.6" y1="116.7" x2="310.9" y2="109.9" stroke="#c84a7a"/>
<line x1="263.1" y1="131.6" x2="265.2" y2="129.6" stroke="#5a1e9a"/>
<line x1="325.6" y1="103.6" x2="330.5" y2="96.4" stroke="#f2e0a4"/>
<line x1="253.8" y1="77.9" x2="262.1" y2="75.2" stroke="#10062a"/>
<line x1="347.2" y1="76.7" x2="347.4" y2="73.8" stroke="#5a1e9a"/>
<line x1="253.4" y1="80.6" x2="257.6" y2="76.5" stroke="#c84a7a"/>
<line x1="251.2" y1="73.0" x2="257.4" y2="66.9" stroke="#8a2a90"/>
<line x1="396.3" y1="104.0" x2="395.4" y2="101.2" stroke="#e8705a"/>
<line x1="416.9" y1="126.7" x2="416.3" y2="118.0" stroke="#8a2a90"/>
<line x1="346.8" y1="101.1" x2="347.8" y2="95.4" stroke="#c84a7a"/>
<line x1="312.5" y1="126.4" x2="314.4" y2="124.3" stroke="#8a2a90"/>
<line x1="355.1" y1="93.0" x2="358.3" y2="88.1" stroke="#5a1e9a"/>
<line x1="279.4" y1="81.9" x2="281.1" y2="79.6" stroke="#c84a7a"/>
<line x1="393.3" y1="134.2" x2="391.5" y2="128.7" stroke="#2e0e66"/>
<line x1="274.2" y1="110.0" x2="282.1" y2="106.5" stroke="#5a1e9a"/>
<line x1="261.3" y1="70.4" x2="269.4" y2="67.0" stroke="#e8705a"/>
<line x1="232.6" y1="107.9" x2="237.8" y2="101.0" stroke="#e8705a"/>
<line x1="262.0" y1="97.4" x2="264.2" y2="95.5" stroke="#c84a7a"/>
<line x1="311.2" y1="99.0" x2="313.1" y2="96.8" stroke="#f2e0a4"/>
<line x1="227.6" y1="139.3" x2="231.6" y2="135.1" stroke="#f2e0a4"/>
<line x1="390.7" y1="95.7" x2="391.1" y2="89.9" stroke="#c84a7a"/>
<line x1="357.3" y1="104.5" x2="360.6" y2="99.8" stroke="#f2e0a4"/>
<line x1="273.9" y1="84.7" x2="278.7" y2="81.5" stroke="#10062a"/>
<line x1="417.6" y1="122.5" x2="417.2" y2="119.6" stroke="#f2e0a4"/>
<line x1="330.0" y1="106.6" x2="333.8" y2="98.7" stroke="#10062a"/>
<line x1="243.1" y1="129.5" x2="245.5" y2="128.0" stroke="#5a1e9a"/>
<line x1="320.5" y1="119.1" x2="321.4" y2="116.3" stroke="#f6a878"/>
<line x1="396.2" y1="82.1" x2="393.2" y2="73.9" stroke="#f2e0a4"/>
<line x1="268.0" y1="119.9" x2="271.5" y2="115.3" stroke="#5a1e9a"/>
<line x1="363.5" y1="76.6" x2="364.8" y2="68.0" stroke="#e8705a"/>
<line x1="364.2" y1="121.9" x2="364.1" y2="116.1" stroke="#c84a7a"/>
<line x1="415.0" y1="115.5" x2="412.8" y2="107.1" stroke="#c84a7a"/>
<line x1="327.8" y1="112.9" x2="329.0" y2="110.3" stroke="#f2e0a4"/>
<line x1="399.8" y1="101.7" x2="399.8" y2="95.9" stroke="#2e0e66"/>
<line x1="391.8" y1="121.0" x2="390.7" y2="118.3" stroke="#2e0e66"/>
<line x1="256.4" y1="105.8" x2="261.0" y2="102.2" stroke="#c84a7a"/>
<line x1="274.5" y1="66.4" x2="276.5" y2="61.0" stroke="#f2e0a4"/>
<line x1="393.5" y1="81.5" x2="393.1" y2="72.8" stroke="#10062a"/>
<line x1="269.7" y1="64.8" x2="277.2" y2="60.5" stroke="#8a2a90"/>
<line x1="269.0" y1="74.7" x2="277.1" y2="71.4" stroke="#2e0e66"/>
<line x1="293.0" y1="108.8" x2="295.7" y2="107.8" stroke="#f2e0a4"/>
<line x1="367.9" y1="86.4" x2="367.2" y2="80.6" stroke="#10062a"/>
<line x1="256.8" y1="74.2" x2="260.9" y2="66.5" stroke="#f6a878"/>
<line x1="342.2" y1="137.5" x2="342.1" y2="131.7" stroke="#5a1e9a"/>
<line x1="226.3" y1="113.0" x2="231.0" y2="105.8" stroke="#5a1e9a"/>
<line x1="339.8" y1="139.2" x2="342.2" y2="130.8" stroke="#8a2a90"/>
<line x1="237.2" y1="140.1" x2="241.6" y2="132.6" stroke="#2e0e66"/>
<line x1="308.6" y1="111.3" x2="310.7" y2="109.2" stroke="#f2e0a4"/>
<line x1="346.6" y1="78.1" x2="349.5" y2="73.1" stroke="#10062a"/>
<line x1="228.6" y1="128.6" x2="230.0" y2="126.1" stroke="#8a2a90"/>
<line x1="254.0" y1="93.2" x2="261.2" y2="88.3" stroke="#f6a878"/>
<line x1="414.7" y1="123.1" x2="414.7" y2="114.4" stroke="#5a1e9a"/>
<line x1="356.1" y1="95.5" x2="359.2" y2="90.6" stroke="#c84a7a"/>
<line x1="233.8" y1="126.8" x2="240.0" y2="120.6" stroke="#2e0e66"/>
<line x1="235.7" y1="76.2" x2="236.9" y2="73.5" stroke="#8a2a90"/>
<line x1="241.9" y1="118.9" x2="245.8" y2="114.7" stroke="#5a1e9a"/>
<line x1="249.7" y1="80.6" x2="256.6" y2="75.3" stroke="#10062a"/>
<line x1="312.5" y1="131.3" x2="315.4" y2="126.2" stroke="#f6a878"/>
<line x1="364.0" y1="128.0" x2="364.5" y2="125.2" stroke="#10062a"/>
<line x1="369.0" y1="107.3" x2="366.7" y2="102.0" stroke="#5a1e9a"/>
<line x1="344.1" y1="77.1" x2="345.6" y2="74.6" stroke="#c84a7a"/>
<line x1="325.5" y1="136.7" x2="326.6" y2="134.0" stroke="#e8705a"/>
<line x1="380.3" y1="99.4" x2="383.4" y2="91.2" stroke="#f6a878"/>
<line x1="266.5" y1="76.8" x2="268.8" y2="75.1" stroke="#8a2a90"/>
<line x1="303.4" y1="113.0" x2="306.2" y2="107.9" stroke="#8a2a90"/>
<line x1="222.9" y1="132.8" x2="230.2" y2="128.0" stroke="#10062a"/>
<line x1="314.8" y1="92.7" x2="316.9" y2="90.6" stroke="#f2e0a4"/>
<line x1="292.3" y1="83.9" x2="294.9" y2="82.5" stroke="#10062a"/>
<line x1="334.1" y1="106.0" x2="339.0" y2="98.8" stroke="#f6a878"/>
<line x1="344.3" y1="73.5" x2="346.9" y2="65.3" stroke="#2e0e66"/>
<line x1="346.2" y1="91.2" x2="348.2" y2="85.7" stroke="#c84a7a"/>
<line x1="345.7" y1="126.9" x2="346.2" y2="121.1" stroke="#f6a878"/>
<line x1="226.3" y1="113.7" x2="232.0" y2="112.5" stroke="#f2e0a4"/>
<line x1="402.1" y1="73.7" x2="401.3" y2="70.9" stroke="#c84a7a"/>
<line x1="281.9" y1="106.1" x2="283.3" y2="103.6" stroke="#f2e0a4"/>
<line x1="252.5" y1="68.7" x2="257.2" y2="61.4" stroke="#5a1e9a"/>
<line x1="278.0" y1="105.0" x2="281.6" y2="100.4" stroke="#10062a"/>
<line x1="221.3" y1="75.9" x2="222.9" y2="73.4" stroke="#e8705a"/>
<line x1="285.5" y1="128.5" x2="288.5" y2="120.4" stroke="#8a2a90"/>
<line x1="391.0" y1="133.7" x2="387.0" y2="126.0" stroke="#c84a7a"/>
<line x1="342.1" y1="79.3" x2="343.1" y2="76.6" stroke="#5a1e9a"/>
<line x1="335.4" y1="99.1" x2="335.5" y2="96.2" stroke="#e8705a"/>
<line x1="296.4" y1="74.2" x2="300.6" y2="70.2" stroke="#f6a878"/>
<line x1="317.5" y1="63.0" x2="322.0" y2="59.4" stroke="#e8705a"/>
<line x1="403.1" y1="67.5" x2="403.4" y2="58.8" stroke="#5a1e9a"/>
<line x1="414.5" y1="80.4" x2="412.0" y2="72.1" stroke="#5a1e9a"/>
<line x1="366.3" y1="129.0" x2="366.2" y2="123.2" stroke="#e8705a"/>
<line x1="296.1" y1="91.1" x2="300.9" y2="87.8" stroke="#5a1e9a"/>
<line x1="415.3" y1="138.7" x2="412.4" y2="130.5" stroke="#e8705a"/>
<line x1="367.1" y1="73.6" x2="367.2" y2="70.7" stroke="#f2e0a4"/>
<line x1="323.6" y1="108.3" x2="326.7" y2="100.1" stroke="#e8705a"/>
<line x1="353.5" y1="114.4" x2="358.6" y2="107.3" stroke="#c84a7a"/>
<line x1="407.2" y1="139.9" x2="404.4" y2="131.7" stroke="#c84a7a"/>
<line x1="370.4" y1="140.3" x2="372.1" y2="131.8" stroke="#f2e0a4"/>
<line x1="289.6" y1="72.8" x2="292.0" y2="71.2" stroke="#10062a"/>
<line x1="334.3" y1="68.9" x2="335.8" y2="66.5" stroke="#f6a878"/>
<line x1="261.6" y1="125.6" x2="267.3" y2="124.6" stroke="#8a2a90"/>
<line x1="327.2" y1="98.0" x2="331.8" y2="90.6" stroke="#f6a878"/>
<line x1="402.8" y1="104.4" x2="404.0" y2="98.8" stroke="#e8705a"/>
<line x1="419.6" y1="70.4" x2="416.4" y2="62.3" stroke="#f2e0a4"/>
<line x1="237.0" y1="97.0" x2="244.7" y2="93.0" stroke="#8a2a90"/>
<line x1="309.3" y1="76.8" x2="314.3" y2="73.9" stroke="#c84a7a"/>
<line x1="256.7" y1="72.8" x2="258.4" y2="70.5" stroke="#10062a"/>
<line x1="343.8" y1="132.1" x2="345.1" y2="129.5" stroke="#c84a7a"/>
<line x1="377.8" y1="101.2" x2="377.8" y2="92.5" stroke="#5a1e9a"/>
<line x1="267.0" y1="65.9" x2="269.8" y2="60.8" stroke="#f6a878"/>
<line x1="235.2" y1="64.1" x2="237.9" y2="63.0" stroke="#c84a7a"/>
<line x1="281.7" y1="86.6" x2="283.7" y2="84.5" stroke="#5a1e9a"/>
<line x1="270.8" y1="111.6" x2="274.8" y2="107.4" stroke="#f6a878"/>
<line x1="282.4" y1="111.3" x2="284.0" y2="108.9" stroke="#c84a7a"/>
<line x1="280.2" y1="86.4" x2="283.8" y2="78.5" stroke="#f2e0a4"/>
<line x1="243.8" y1="114.3" x2="250.6" y2="108.9" stroke="#c84a7a"/>
</g>
<rect x="224.9" y="66.3" width="190.1" height="65.6" rx="4" fill="none" stroke="#3c0a7c" stroke-width="2.8"/>
<clipPath id="clip2"><rect x="216.5" y="199.5" width="200.2" height="74.0" rx="4"/></clipPath>
<g clip-path="url(#clip2)" stroke-dasharray="0 2.90" stroke-width="3.13">
<rect x="214.8" y="197.8" width="203.6" height="77.4" fill="#5a1e86"/>
<line x1="408.8" y1="284.7" x2="424.7" y2="272.0" stroke="#5a1e9a"/>
<line x1="251.9" y1="180.2" x2="254.9" y2="206.1" stroke="#d05a70"/>
<line x1="370.5" y1="260.6" x2="396.1" y2="279.7" stroke="#5a1e9a"/>
<line x1="216.0" y1="180.8" x2="213.4" y2="203.9" stroke="#f2e0a4"/>
<line x1="296.5" y1="278.8" x2="303.2" y2="266.0" stroke="#5a1e9a"/>
<line x1="240.6" y1="231.3" x2="233.0" y2="243.6" stroke="#f2e0a4"/>
<line x1="302.2" y1="217.2" x2="307.1" y2="239.9" stroke="#e87258"/>
<line x1="273.1" y1="275.1" x2="295.9" y2="287.8" stroke="#e87258"/>
<line x1="307.1" y1="227.8" x2="309.2" y2="250.9" stroke="#d05a70"/>
<line x1="303.2" y1="289.7" x2="310.1" y2="258.6" stroke="#e87258"/>
<line x1="308.1" y1="227.0" x2="319.2" y2="194.0" stroke="#5a1e9a"/>
<line x1="416.6" y1="206.0" x2="397.3" y2="231.4" stroke="#d05a70"/>
<line x1="316.5" y1="255.8" x2="320.0" y2="238.8" stroke="#8a2a90"/>
<line x1="296.3" y1="246.4" x2="278.3" y2="261.0" stroke="#e87258"/>
<line x1="406.2" y1="197.5" x2="406.0" y2="217.8" stroke="#d05a70"/>
<line x1="354.9" y1="268.3" x2="358.5" y2="282.4" stroke="#f6a878"/>
<line x1="259.5" y1="205.2" x2="261.6" y2="213.7" stroke="#10062a"/>
<line x1="283.9" y1="217.0" x2="287.9" y2="209.2" stroke="#e87258"/>
<line x1="205.1" y1="210.2" x2="217.8" y2="217.1" stroke="#d05a70"/>
<line x1="204.1" y1="241.8" x2="210.3" y2="247.9" stroke="#10062a"/>
<line x1="409.5" y1="238.9" x2="416.3" y2="258.0" stroke="#5a1e9a"/>
<line x1="207.8" y1="220.0" x2="219.4" y2="243.4" stroke="#f6a878"/>
<line x1="365.0" y1="245.1" x2="358.4" y2="222.8" stroke="#f6a878"/>
<line x1="212.9" y1="250.4" x2="211.4" y2="276.5" stroke="#8a2a90"/>
<line x1="277.4" y1="275.6" x2="280.2" y2="267.3" stroke="#e87258"/>
<line x1="410.6" y1="254.9" x2="424.2" y2="249.9" stroke="#2e0e66"/>
<line x1="230.5" y1="240.8" x2="225.2" y2="257.4" stroke="#5a1e9a"/>
<line x1="296.2" y1="197.9" x2="312.7" y2="228.5" stroke="#e87258"/>
<line x1="340.3" y1="217.1" x2="347.4" y2="229.7" stroke="#10062a"/>
<line x1="297.4" y1="191.5" x2="295.7" y2="208.8" stroke="#10062a"/>
<line x1="200.3" y1="269.5" x2="222.0" y2="250.3" stroke="#5a1e9a"/>
<line x1="360.7" y1="208.1" x2="334.8" y2="211.2" stroke="#8a2a90"/>
<line x1="228.4" y1="241.2" x2="194.5" y2="248.9" stroke="#2e0e66"/>
<line x1="220.4" y1="279.1" x2="234.4" y2="250.4" stroke="#f2e0a4"/>
<line x1="230.6" y1="211.2" x2="235.1" y2="236.9" stroke="#10062a"/>
<line x1="271.8" y1="264.6" x2="276.2" y2="272.1" stroke="#e87258"/>
<line x1="219.6" y1="245.0" x2="220.3" y2="253.7" stroke="#5a1e9a"/>
<line x1="287.1" y1="291.6" x2="290.2" y2="262.7" stroke="#2e0e66"/>
<line x1="330.0" y1="221.1" x2="334.6" y2="231.7" stroke="#5a1e9a"/>
<line x1="232.9" y1="260.4" x2="234.7" y2="234.4" stroke="#f2e0a4"/>
<line x1="354.2" y1="178.4" x2="363.6" y2="205.8" stroke="#5a1e9a"/>
<line x1="419.2" y1="217.4" x2="415.9" y2="188.6" stroke="#d05a70"/>
<line x1="321.6" y1="276.8" x2="301.8" y2="281.1" stroke="#5a1e9a"/>
<line x1="238.0" y1="240.7" x2="244.3" y2="250.4" stroke="#d05a70"/>
<line x1="387.6" y1="214.7" x2="385.2" y2="182.9" stroke="#2e0e66"/>
<line x1="294.4" y1="197.9" x2="302.3" y2="194.2" stroke="#2e0e66"/>
<line x1="262.2" y1="205.1" x2="281.6" y2="217.8" stroke="#8a2a90"/>
<line x1="322.3" y1="194.5" x2="321.4" y2="206.0" stroke="#5a1e9a"/>
<line x1="259.8" y1="244.9" x2="263.0" y2="230.7" stroke="#8a2a90"/>
<line x1="374.7" y1="216.6" x2="347.7" y2="238.5" stroke="#e87258"/>
<line x1="306.7" y1="250.2" x2="311.9" y2="263.7" stroke="#5a1e9a"/>
<line x1="213.6" y1="229.0" x2="223.5" y2="201.7" stroke="#5a1e9a"/>
<line x1="318.6" y1="254.2" x2="335.5" y2="258.6" stroke="#d05a70"/>
<line x1="247.8" y1="270.4" x2="248.3" y2="261.7" stroke="#5a1e9a"/>
<line x1="317.2" y1="262.3" x2="326.3" y2="286.7" stroke="#f2e0a4"/>
<line x1="372.4" y1="244.4" x2="361.6" y2="248.5" stroke="#5a1e9a"/>
<line x1="320.8" y1="279.9" x2="337.8" y2="249.5" stroke="#d05a70"/>
<line x1="310.8" y1="262.5" x2="318.0" y2="231.4" stroke="#d05a70"/>
<line x1="305.1" y1="208.0" x2="313.6" y2="209.9" stroke="#f2e0a4"/>
<line x1="322.9" y1="269.7" x2="324.9" y2="234.9" stroke="#8a2a90"/>
<line x1="353.2" y1="226.6" x2="356.8" y2="215.6" stroke="#d05a70"/>
<line x1="293.3" y1="260.7" x2="273.0" y2="260.8" stroke="#e87258"/>
<line x1="377.0" y1="277.2" x2="382.4" y2="263.8" stroke="#8a2a90"/>
<line x1="423.4" y1="257.0" x2="426.0" y2="248.8" stroke="#5a1e9a"/>
<line x1="324.2" y1="215.4" x2="325.7" y2="235.6" stroke="#8a2a90"/>
<line x1="230.6" y1="244.0" x2="241.6" y2="264.4" stroke="#5a1e9a"/>
<line x1="346.3" y1="251.3" x2="351.2" y2="276.9" stroke="#8a2a90"/>
<line x1="409.8" y1="244.5" x2="408.1" y2="230.1" stroke="#e87258"/>
<line x1="344.4" y1="233.1" x2="345.4" y2="204.1" stroke="#d05a70"/>
<line x1="320.0" y1="207.0" x2="323.1" y2="184.0" stroke="#2e0e66"/>
<line x1="286.6" y1="235.5" x2="283.4" y2="206.6" stroke="#8a2a90"/>
<line x1="269.3" y1="264.8" x2="272.5" y2="281.9" stroke="#f2e0a4"/>
<line x1="272.3" y1="208.9" x2="284.6" y2="189.3" stroke="#2e0e66"/>
<line x1="225.9" y1="213.3" x2="249.3" y2="191.6" stroke="#d05a70"/>
<line x1="282.2" y1="276.6" x2="307.2" y2="256.8" stroke="#d05a70"/>
<line x1="368.7" y1="229.8" x2="366.4" y2="209.6" stroke="#d05a70"/>
<line x1="345.0" y1="208.1" x2="348.3" y2="185.1" stroke="#8a2a90"/>
<line x1="220.9" y1="288.0" x2="231.2" y2="264.1" stroke="#2e0e66"/>
<line x1="202.3" y1="230.2" x2="223.6" y2="215.0" stroke="#10062a"/>
<line x1="266.4" y1="255.1" x2="287.9" y2="278.6" stroke="#5a1e9a"/>
<line x1="343.3" y1="210.2" x2="350.4" y2="197.5" stroke="#e87258"/>
<line x1="277.7" y1="208.5" x2="281.4" y2="197.5" stroke="#5a1e9a"/>
<line x1="251.5" y1="197.6" x2="270.4" y2="226.8" stroke="#10062a"/>
<line x1="236.8" y1="259.2" x2="240.0" y2="279.3" stroke="#2e0e66"/>
<line x1="316.2" y1="280.6" x2="327.1" y2="256.9" stroke="#5a1e9a"/>
<line x1="210.0" y1="253.7" x2="227.4" y2="269.1" stroke="#d05a70"/>
<line x1="335.8" y1="187.5" x2="350.7" y2="209.0" stroke="#f6a878"/>
<line x1="303.7" y1="225.0" x2="309.5" y2="231.5" stroke="#f2e0a4"/>
<line x1="301.2" y1="250.5" x2="310.6" y2="239.5" stroke="#10062a"/>
<line x1="272.8" y1="270.0" x2="275.2" y2="258.7" stroke="#d05a70"/>
<line x1="253.3" y1="177.8" x2="257.2" y2="206.5" stroke="#10062a"/>
<line x1="397.2" y1="198.0" x2="411.1" y2="226.7" stroke="#10062a"/>
<line x1="354.1" y1="255.4" x2="365.1" y2="225.5" stroke="#5a1e9a"/>
<line x1="321.3" y1="216.1" x2="324.4" y2="208.0" stroke="#2e0e66"/>
<line x1="225.1" y1="210.7" x2="239.7" y2="189.1" stroke="#5a1e9a"/>
<line x1="349.6" y1="219.4" x2="348.5" y2="233.8" stroke="#8a2a90"/>
<line x1="382.4" y1="199.4" x2="397.2" y2="208.4" stroke="#5a1e9a"/>
<line x1="297.0" y1="238.9" x2="305.9" y2="220.6" stroke="#e87258"/>
<line x1="326.4" y1="241.7" x2="334.3" y2="226.2" stroke="#8a2a90"/>
<line x1="245.9" y1="255.8" x2="228.1" y2="225.9" stroke="#d05a70"/>
<line x1="244.7" y1="200.1" x2="257.6" y2="215.8" stroke="#e87258"/>
<line x1="317.3" y1="190.4" x2="305.0" y2="198.1" stroke="#d05a70"/>
<line x1="214.6" y1="224.0" x2="215.8" y2="192.2" stroke="#f2e0a4"/>
<line x1="373.3" y1="189.8" x2="375.4" y2="207.1" stroke="#2e0e66"/>
<line x1="278.4" y1="260.6" x2="277.7" y2="272.2" stroke="#8a2a90"/>
<line x1="294.1" y1="252.8" x2="302.0" y2="261.4" stroke="#d05a70"/>
<line x1="365.8" y1="290.9" x2="370.3" y2="265.1" stroke="#d05a70"/>
<line x1="368.9" y1="266.2" x2="373.1" y2="280.0" stroke="#e87258"/>
<line x1="373.6" y1="223.4" x2="385.4" y2="239.9" stroke="#d05a70"/>
<line x1="332.2" y1="214.1" x2="336.5" y2="248.6" stroke="#5a1e9a"/>
<line x1="208.2" y1="214.2" x2="236.5" y2="234.5" stroke="#f2e0a4"/>
<line x1="351.9" y1="227.6" x2="361.3" y2="209.5" stroke="#10062a"/>
<line x1="364.4" y1="189.6" x2="395.7" y2="195.4" stroke="#5a1e9a"/>
<line x1="362.3" y1="219.3" x2="369.3" y2="224.4" stroke="#5a1e9a"/>
<line x1="324.8" y1="219.8" x2="341.0" y2="199.4" stroke="#e87258"/>
<line x1="340.3" y1="238.2" x2="351.4" y2="224.9" stroke="#2e0e66"/>
<line x1="263.2" y1="273.0" x2="281.9" y2="286.8" stroke="#d05a70"/>
<line x1="356.4" y1="246.1" x2="365.6" y2="231.4" stroke="#d05a70"/>
<line x1="272.9" y1="203.4" x2="255.5" y2="222.8" stroke="#10062a"/>
<line x1="301.4" y1="219.9" x2="312.3" y2="233.5" stroke="#2e0e66"/>
<line x1="320.6" y1="269.1" x2="327.0" y2="263.2" stroke="#5a1e9a"/>
<line x1="298.8" y1="222.7" x2="304.0" y2="200.1" stroke="#8a2a90"/>
<line x1="316.3" y1="255.5" x2="325.6" y2="270.2" stroke="#5a1e9a"/>
<line x1="206.4" y1="188.4" x2="220.1" y2="199.0" stroke="#5a1e9a"/>
<line x1="320.4" y1="232.0" x2="329.3" y2="262.6" stroke="#d05a70"/>
<line x1="353.8" y1="198.7" x2="357.7" y2="206.4" stroke="#5a1e9a"/>
<line x1="346.8" y1="223.6" x2="356.9" y2="244.4" stroke="#e87258"/>
<line x1="221.3" y1="215.9" x2="235.0" y2="230.9" stroke="#e87258"/>
<line x1="392.0" y1="236.4" x2="415.1" y2="238.3" stroke="#8a2a90"/>
<line x1="346.3" y1="218.1" x2="345.4" y2="226.8" stroke="#f6a878"/>
<line x1="224.1" y1="227.2" x2="223.2" y2="253.3" stroke="#8a2a90"/>
<line x1="260.7" y1="195.3" x2="258.2" y2="218.3" stroke="#d05a70"/>
<line x1="267.8" y1="282.1" x2="275.2" y2="266.4" stroke="#d05a70"/>
<line x1="412.3" y1="216.1" x2="411.4" y2="204.5" stroke="#5a1e9a"/>
<line x1="328.4" y1="193.7" x2="326.8" y2="205.2" stroke="#8a2a90"/>
<line x1="268.5" y1="263.7" x2="268.5" y2="237.6" stroke="#8a2a90"/>
<line x1="374.8" y1="215.2" x2="382.6" y2="193.3" stroke="#10062a"/>
<line x1="434.4" y1="203.9" x2="400.1" y2="209.8" stroke="#f2e0a4"/>
<line x1="379.5" y1="261.5" x2="385.1" y2="239.0" stroke="#2e0e66"/>
<line x1="258.2" y1="219.8" x2="265.7" y2="194.8" stroke="#d05a70"/>
<line x1="256.6" y1="224.1" x2="267.0" y2="238.1" stroke="#5a1e9a"/>
<line x1="343.6" y1="196.6" x2="347.8" y2="188.9" stroke="#8a2a90"/>
<line x1="410.6" y1="181.9" x2="412.0" y2="202.2" stroke="#e87258"/>
<line x1="256.3" y1="263.6" x2="265.9" y2="249.1" stroke="#d05a70"/>
<line x1="333.6" y1="223.8" x2="314.9" y2="241.9" stroke="#10062a"/>
<line x1="363.4" y1="201.3" x2="350.8" y2="224.2" stroke="#10062a"/>
<line x1="329.7" y1="238.2" x2="346.6" y2="258.0" stroke="#8a2a90"/>
<line x1="413.0" y1="249.0" x2="414.1" y2="263.5" stroke="#2e0e66"/>
<line x1="350.2" y1="264.7" x2="355.3" y2="236.2" stroke="#e87258"/>
<line x1="364.2" y1="216.0" x2="366.5" y2="195.8" stroke="#d05a70"/>
<line x1="379.9" y1="269.3" x2="377.9" y2="277.8" stroke="#5a1e9a"/>
<line x1="204.9" y1="246.0" x2="226.3" y2="218.6" stroke="#5a1e9a"/>
<line x1="308.3" y1="249.6" x2="283.6" y2="269.7" stroke="#d05a70"/>
<line x1="292.2" y1="270.6" x2="298.1" y2="280.7" stroke="#d05a70"/>
<line x1="277.7" y1="230.3" x2="287.2" y2="205.9" stroke="#8a2a90"/>
<line x1="411.3" y1="264.7" x2="396.6" y2="296.2" stroke="#2e0e66"/>
<line x1="365.1" y1="232.7" x2="373.9" y2="208.1" stroke="#d05a70"/>
<line x1="366.5" y1="242.0" x2="366.0" y2="224.6" stroke="#5a1e9a"/>
<line x1="290.6" y1="247.4" x2="286.3" y2="281.9" stroke="#5a1e9a"/>
<line x1="339.8" y1="196.7" x2="331.2" y2="227.4" stroke="#f6a878"/>
<line x1="204.1" y1="254.9" x2="210.2" y2="268.0" stroke="#e87258"/>
<line x1="363.9" y1="253.3" x2="368.8" y2="239.7" stroke="#f2e0a4"/>
<line x1="419.1" y1="196.8" x2="430.8" y2="223.4" stroke="#e87258"/>
<line x1="247.7" y1="212.4" x2="252.3" y2="201.7" stroke="#5a1e9a"/>
<line x1="327.3" y1="247.6" x2="337.1" y2="220.3" stroke="#2e0e66"/>
<line x1="381.4" y1="265.0" x2="385.8" y2="278.8" stroke="#f6a878"/>
<line x1="331.0" y1="266.9" x2="318.7" y2="283.0" stroke="#5a1e9a"/>
<line x1="208.2" y1="285.2" x2="217.3" y2="260.7" stroke="#f2e0a4"/>
<line x1="258.2" y1="213.6" x2="237.3" y2="223.6" stroke="#8a2a90"/>
<line x1="215.9" y1="272.6" x2="225.1" y2="290.7" stroke="#e87258"/>
<line x1="345.9" y1="274.4" x2="351.0" y2="264.0" stroke="#5a1e9a"/>
<line x1="304.3" y1="188.7" x2="273.2" y2="204.3" stroke="#2e0e66"/>
<line x1="231.2" y1="220.3" x2="240.1" y2="238.5" stroke="#d05a70"/>
<line x1="209.0" y1="187.7" x2="213.5" y2="195.2" stroke="#2e0e66"/>
<line x1="356.4" y1="274.0" x2="381.3" y2="288.9" stroke="#d05a70"/>
<line x1="269.9" y1="278.4" x2="274.2" y2="267.6" stroke="#f2e0a4"/>
<line x1="280.7" y1="278.3" x2="287.6" y2="259.3" stroke="#e87258"/>
<line x1="350.8" y1="283.0" x2="360.8" y2="268.8" stroke="#e87258"/>
<line x1="420.3" y1="263.6" x2="427.6" y2="279.4" stroke="#8a2a90"/>
<line x1="342.8" y1="275.8" x2="359.3" y2="259.5" stroke="#f2e0a4"/>
<line x1="310.5" y1="195.8" x2="334.6" y2="205.8" stroke="#2e0e66"/>
<line x1="364.8" y1="244.6" x2="385.2" y2="272.8" stroke="#d05a70"/>
<line x1="410.1" y1="192.3" x2="400.8" y2="203.4" stroke="#2e0e66"/>
<line x1="417.6" y1="260.3" x2="426.6" y2="245.4" stroke="#5a1e9a"/>
<line x1="304.0" y1="236.0" x2="309.6" y2="219.5" stroke="#10062a"/>
<line x1="226.2" y1="199.2" x2="234.4" y2="183.8" stroke="#5a1e9a"/>
<line x1="263.7" y1="201.3" x2="249.5" y2="204.4" stroke="#5a1e9a"/>
<line x1="415.6" y1="238.9" x2="434.1" y2="261.2" stroke="#10062a"/>
<line x1="295.9" y1="251.7" x2="303.1" y2="256.6" stroke="#2e0e66"/>
<line x1="386.3" y1="261.0" x2="403.7" y2="271.5" stroke="#e87258"/>
<line x1="322.1" y1="265.6" x2="341.7" y2="294.3" stroke="#8a2a90"/>
<line x1="310.1" y1="255.8" x2="315.9" y2="281.2" stroke="#5a1e9a"/>
<line x1="328.5" y1="228.5" x2="338.3" y2="249.5" stroke="#d05a70"/>
<line x1="331.4" y1="229.6" x2="329.6" y2="197.7" stroke="#d05a70"/>
<line x1="319.5" y1="210.5" x2="324.1" y2="221.1" stroke="#e87258"/>
<line x1="437.8" y1="224.8" x2="407.8" y2="235.7" stroke="#5a1e9a"/>
<line x1="383.3" y1="285.0" x2="387.2" y2="256.3" stroke="#2e0e66"/>
<line x1="318.6" y1="254.5" x2="321.3" y2="262.8" stroke="#8a2a90"/>
<line x1="214.8" y1="217.7" x2="212.6" y2="235.0" stroke="#f2e0a4"/>
<line x1="383.5" y1="260.2" x2="349.4" y2="267.3" stroke="#f2e0a4"/>
<line x1="247.8" y1="258.8" x2="266.4" y2="288.2" stroke="#f2e0a4"/>
<line x1="315.4" y1="270.8" x2="323.1" y2="242.8" stroke="#2e0e66"/>
<line x1="284.3" y1="204.1" x2="271.5" y2="230.1" stroke="#5a1e9a"/>
<line x1="299.1" y1="224.0" x2="310.8" y2="194.4" stroke="#f2e0a4"/>
<line x1="216.0" y1="228.4" x2="218.4" y2="211.2" stroke="#2e0e66"/>
<line x1="356.2" y1="227.8" x2="360.4" y2="241.6" stroke="#e87258"/>
<line x1="212.8" y1="288.5" x2="224.7" y2="258.9" stroke="#d05a70"/>
<line x1="218.8" y1="209.8" x2="204.1" y2="238.2" stroke="#8a2a90"/>
<line x1="411.1" y1="270.8" x2="415.6" y2="278.2" stroke="#10062a"/>
<line x1="225.6" y1="231.2" x2="198.2" y2="247.4" stroke="#10062a"/>
<line x1="207.8" y1="230.2" x2="218.3" y2="197.0" stroke="#10062a"/>
<line x1="278.7" y1="220.8" x2="288.6" y2="210.2" stroke="#8a2a90"/>
<line x1="268.8" y1="260.2" x2="248.7" y2="285.0" stroke="#f6a878"/>
<line x1="330.3" y1="195.9" x2="335.7" y2="202.7" stroke="#2e0e66"/>
<line x1="351.3" y1="258.7" x2="355.7" y2="247.9" stroke="#d05a70"/>
<line x1="344.9" y1="208.2" x2="352.1" y2="224.0" stroke="#d05a70"/>
<line x1="328.9" y1="272.8" x2="335.1" y2="285.9" stroke="#2e0e66"/>
<line x1="284.7" y1="199.3" x2="298.8" y2="180.9" stroke="#5a1e9a"/>
<line x1="367.0" y1="278.2" x2="387.1" y2="280.9" stroke="#f2e0a4"/>
<line x1="419.1" y1="252.8" x2="431.8" y2="220.4" stroke="#5a1e9a"/>
<line x1="417.1" y1="242.4" x2="419.7" y2="253.7" stroke="#f2e0a4"/>
<line x1="250.2" y1="241.0" x2="245.4" y2="251.6" stroke="#8a2a90"/>
<line x1="336.7" y1="241.0" x2="343.6" y2="228.2" stroke="#8a2a90"/>
<line x1="246.4" y1="227.1" x2="255.4" y2="215.7" stroke="#5a1e9a"/>
<line x1="266.5" y1="261.7" x2="260.8" y2="268.2" stroke="#10062a"/>
<line x1="247.1" y1="188.1" x2="257.5" y2="202.1" stroke="#f6a878"/>
<line x1="207.5" y1="216.4" x2="220.4" y2="184.1" stroke="#f2e0a4"/>
<line x1="297.5" y1="243.1" x2="302.4" y2="232.6" stroke="#f2e0a4"/>
<line x1="405.3" y1="276.8" x2="411.9" y2="257.6" stroke="#8a2a90"/>
<line x1="339.0" y1="204.9" x2="310.5" y2="224.7" stroke="#5a1e9a"/>
<line x1="366.3" y1="192.5" x2="370.7" y2="203.2" stroke="#f2e0a4"/>
<line x1="376.1" y1="248.9" x2="389.4" y2="216.7" stroke="#10062a"/>
<line x1="398.5" y1="202.2" x2="408.8" y2="219.8" stroke="#e87258"/>
<line x1="411.2" y1="198.0" x2="430.8" y2="203.3" stroke="#f6a878"/>
<line x1="418.1" y1="205.9" x2="431.6" y2="224.7" stroke="#5a1e9a"/>
<line x1="333.1" y1="196.5" x2="338.3" y2="225.0" stroke="#5a1e9a"/>
<line x1="392.4" y1="263.1" x2="403.9" y2="250.0" stroke="#e87258"/>
<line x1="280.6" y1="247.2" x2="312.0" y2="252.7" stroke="#f2e0a4"/>
<line x1="259.9" y1="243.5" x2="271.8" y2="220.3" stroke="#f2e0a4"/>
<line x1="364.9" y1="267.7" x2="380.0" y2="276.3" stroke="#f6a878"/>
<line x1="369.2" y1="212.2" x2="374.7" y2="219.0" stroke="#e87258"/>
<line x1="231.8" y1="256.8" x2="241.6" y2="242.5" stroke="#10062a"/>
<line x1="402.3" y1="245.4" x2="409.7" y2="267.4" stroke="#e87258"/>
<line x1="357.7" y1="276.5" x2="365.6" y2="288.7" stroke="#10062a"/>
<line x1="267.2" y1="198.4" x2="272.7" y2="181.9" stroke="#e87258"/>
<line x1="401.1" y1="255.5" x2="399.7" y2="264.1" stroke="#10062a"/>
<line x1="291.6" y1="235.9" x2="301.3" y2="242.3" stroke="#8a2a90"/>
<line x1="317.4" y1="242.5" x2="327.6" y2="260.1" stroke="#d05a70"/>
<line x1="236.6" y1="244.6" x2="240.7" y2="236.9" stroke="#d05a70"/>
<line x1="329.9" y1="262.3" x2="350.9" y2="234.5" stroke="#d05a70"/>
<line x1="348.2" y1="207.2" x2="341.5" y2="185.0" stroke="#10062a"/>
<line x1="377.8" y1="203.7" x2="390.6" y2="215.6" stroke="#5a1e9a"/>
<line x1="204.2" y1="265.5" x2="215.3" y2="241.9" stroke="#10062a"/>
<line x1="238.3" y1="247.0" x2="247.3" y2="228.9" stroke="#5a1e9a"/>
<line x1="363.6" y1="249.2" x2="366.7" y2="257.3" stroke="#d05a70"/>
<line x1="203.4" y1="241.5" x2="210.8" y2="250.4" stroke="#8a2a90"/>
<line x1="297.6" y1="243.7" x2="303.2" y2="250.4" stroke="#5a1e9a"/>
<line x1="209.1" y1="199.3" x2="212.1" y2="210.6" stroke="#f2e0a4"/>
<line x1="316.3" y1="215.5" x2="339.2" y2="219.1" stroke="#e87258"/>
<line x1="262.5" y1="267.1" x2="282.6" y2="288.0" stroke="#8a2a90"/>
<line x1="385.2" y1="244.9" x2="406.2" y2="235.0" stroke="#8a2a90"/>
<line x1="326.2" y1="229.1" x2="345.7" y2="254.3" stroke="#2e0e66"/>
<line x1="280.5" y1="222.3" x2="274.0" y2="247.6" stroke="#5a1e9a"/>
<line x1="357.0" y1="280.2" x2="328.0" y2="281.2" stroke="#10062a"/>
<line x1="314.2" y1="231.1" x2="317.9" y2="248.1" stroke="#d05a70"/>
<line x1="223.0" y1="202.0" x2="227.0" y2="209.8" stroke="#d05a70"/>
<line x1="376.0" y1="239.8" x2="379.4" y2="213.9" stroke="#e87258"/>
<line x1="264.4" y1="229.0" x2="267.2" y2="220.8" stroke="#2e0e66"/>
<line x1="243.1" y1="224.9" x2="257.9" y2="215.6" stroke="#e87258"/>
<line x1="356.1" y1="260.2" x2="363.1" y2="285.3" stroke="#d05a70"/>
<line x1="285.0" y1="214.7" x2="295.3" y2="190.7" stroke="#f2e0a4"/>
<line x1="349.9" y1="234.7" x2="359.2" y2="223.6" stroke="#e87258"/>
<line x1="344.6" y1="223.1" x2="350.0" y2="242.7" stroke="#e87258"/>
<line x1="401.4" y1="237.6" x2="414.0" y2="221.7" stroke="#2e0e66"/>
<line x1="295.1" y1="273.4" x2="326.9" y2="276.2" stroke="#5a1e9a"/>
<line x1="274.1" y1="206.1" x2="270.5" y2="214.1" stroke="#10062a"/>
<line x1="389.3" y1="286.0" x2="392.3" y2="265.9" stroke="#e87258"/>
<line x1="240.7" y1="204.3" x2="271.7" y2="211.8" stroke="#5a1e9a"/>
<line x1="299.5" y1="251.5" x2="313.1" y2="222.7" stroke="#8a2a90"/>
<line x1="308.6" y1="242.5" x2="315.6" y2="255.2" stroke="#8a2a90"/>
<line x1="211.1" y1="222.2" x2="215.0" y2="236.2" stroke="#f2e0a4"/>
<line x1="260.5" y1="231.1" x2="254.8" y2="208.6" stroke="#d05a70"/>
<line x1="350.1" y1="263.1" x2="363.4" y2="244.2" stroke="#e87258"/>
<line x1="373.8" y1="236.6" x2="339.3" y2="240.7" stroke="#d05a70"/>
<line x1="270.3" y1="223.6" x2="292.4" y2="196.8" stroke="#d05a70"/>
<line x1="247.7" y1="255.4" x2="269.5" y2="232.1" stroke="#e87258"/>
<line x1="390.0" y1="266.5" x2="383.7" y2="256.8" stroke="#d05a70"/>
<line x1="275.8" y1="218.9" x2="288.7" y2="234.6" stroke="#f6a878"/>
<line x1="269.9" y1="232.1" x2="285.9" y2="256.3" stroke="#f2e0a4"/>
<line x1="400.5" y1="220.3" x2="410.9" y2="230.4" stroke="#5a1e9a"/>
<line x1="228.5" y1="221.8" x2="237.1" y2="197.2" stroke="#10062a"/>
<line x1="353.3" y1="219.9" x2="366.2" y2="197.2" stroke="#d05a70"/>
<line x1="261.5" y1="229.0" x2="260.1" y2="240.5" stroke="#5a1e9a"/>
<line x1="364.2" y1="198.5" x2="367.7" y2="221.4" stroke="#e87258"/>
<line x1="404.6" y1="226.4" x2="410.0" y2="236.7" stroke="#10062a"/>
<line x1="320.3" y1="226.6" x2="332.7" y2="214.4" stroke="#5a1e9a"/>
<line x1="290.9" y1="245.2" x2="302.5" y2="215.5" stroke="#d05a70"/>
<line x1="301.3" y1="217.6" x2="314.0" y2="188.3" stroke="#f2e0a4"/>
<line x1="227.3" y1="200.1" x2="232.1" y2="207.3" stroke="#e87258"/>
<line x1="426.2" y1="276.6" x2="414.6" y2="277.6" stroke="#10062a"/>
<line x1="313.2" y1="247.3" x2="304.7" y2="262.5" stroke="#e87258"/>
<line x1="280.7" y1="255.7" x2="305.7" y2="279.9" stroke="#5a1e9a"/>
<line x1="347.5" y1="251.9" x2="356.8" y2="263.0" stroke="#f2e0a4"/>
<line x1="316.3" y1="198.2" x2="330.0" y2="209.0" stroke="#10062a"/>
<line x1="209.5" y1="184.7" x2="225.5" y2="208.8" stroke="#2e0e66"/>
<line x1="286.0" y1="277.2" x2="293.3" y2="246.2" stroke="#5a1e9a"/>
<line x1="233.8" y1="208.0" x2="241.8" y2="192.5" stroke="#10062a"/>
<line x1="210.5" y1="227.3" x2="220.6" y2="197.0" stroke="#2e0e66"/>
<line x1="423.6" y1="245.9" x2="421.5" y2="231.5" stroke="#d05a70"/>
<line x1="414.6" y1="202.9" x2="432.9" y2="221.5" stroke="#5a1e9a"/>
<line x1="305.1" y1="292.5" x2="322.8" y2="262.5" stroke="#5a1e9a"/>
<line x1="278.6" y1="222.6" x2="289.1" y2="246.5" stroke="#5a1e9a"/>
<line x1="356.5" y1="194.6" x2="362.8" y2="204.3" stroke="#f2e0a4"/>
<line x1="350.4" y1="251.2" x2="346.6" y2="228.3" stroke="#d05a70"/>
<line x1="304.0" y1="277.1" x2="319.4" y2="245.9" stroke="#5a1e9a"/>
<line x1="403.6" y1="279.9" x2="414.8" y2="256.3" stroke="#e87258"/>
<line x1="270.0" y1="234.4" x2="284.0" y2="202.5" stroke="#f2e0a4"/>
<line x1="282.4" y1="258.2" x2="288.1" y2="238.7" stroke="#d05a70"/>
<line x1="380.2" y1="196.6" x2="394.8" y2="210.7" stroke="#d05a70"/>
<line x1="355.5" y1="213.6" x2="371.9" y2="237.6" stroke="#e87258"/>
<line x1="371.4" y1="285.7" x2="375.6" y2="268.8" stroke="#5a1e9a"/>
<line x1="262.2" y1="272.5" x2="262.4" y2="249.3" stroke="#10062a"/>
<line x1="404.6" y1="214.8" x2="413.9" y2="221.9" stroke="#5a1e9a"/>
<line x1="308.9" y1="202.2" x2="314.0" y2="179.6" stroke="#5a1e9a"/>
<line x1="371.6" y1="253.7" x2="375.8" y2="222.1" stroke="#d05a70"/>
<line x1="265.2" y1="279.4" x2="267.2" y2="270.9" stroke="#f6a878"/>
<line x1="234.7" y1="214.2" x2="234.3" y2="237.4" stroke="#8a2a90"/>
<line x1="412.1" y1="204.5" x2="421.4" y2="222.6" stroke="#5a1e9a"/>
<line x1="234.0" y1="257.6" x2="209.6" y2="273.2" stroke="#2e0e66"/>
<line x1="377.4" y1="209.2" x2="397.8" y2="192.9" stroke="#f6a878"/>
<line x1="345.7" y1="266.2" x2="343.3" y2="251.9" stroke="#2e0e66"/>
<line x1="223.3" y1="245.9" x2="246.2" y2="268.1" stroke="#e87258"/>
<line x1="363.8" y1="263.3" x2="368.2" y2="274.0" stroke="#e87258"/>
<line x1="258.1" y1="272.2" x2="286.6" y2="257.8" stroke="#f6a878"/>
<line x1="301.9" y1="281.1" x2="315.9" y2="255.7" stroke="#10062a"/>
<line x1="265.1" y1="229.8" x2="258.7" y2="261.0" stroke="#5a1e9a"/>
<line x1="301.5" y1="257.3" x2="305.3" y2="265.1" stroke="#5a1e9a"/>
<line x1="343.8" y1="235.7" x2="365.8" y2="208.7" stroke="#f2e0a4"/>
<line x1="257.8" y1="196.9" x2="260.5" y2="205.1" stroke="#e87258"/>
<line x1="330.1" y1="288.6" x2="327.7" y2="268.4" stroke="#e87258"/>
<line x1="333.9" y1="199.5" x2="341.1" y2="230.5" stroke="#5a1e9a"/>
<line x1="207.6" y1="262.3" x2="228.4" y2="238.2" stroke="#e87258"/>
<line x1="335.7" y1="189.9" x2="367.3" y2="204.4" stroke="#5a1e9a"/>
<line x1="323.6" y1="187.8" x2="335.9" y2="203.9" stroke="#e87258"/>
<line x1="301.6" y1="194.3" x2="316.7" y2="207.8" stroke="#5a1e9a"/>
<line x1="402.2" y1="242.0" x2="394.6" y2="250.8" stroke="#f2e0a4"/>
<line x1="336.3" y1="254.2" x2="341.6" y2="261.1" stroke="#e87258"/>
<line x1="413.2" y1="242.7" x2="428.1" y2="214.6" stroke="#5a1e9a"/>
<line x1="387.4" y1="229.4" x2="402.6" y2="211.9" stroke="#10062a"/>
<line x1="316.8" y1="266.1" x2="328.5" y2="236.4" stroke="#8a2a90"/>
<line x1="410.9" y1="240.1" x2="421.1" y2="254.2" stroke="#10062a"/>
<line x1="291.7" y1="252.6" x2="293.9" y2="226.6" stroke="#f2e0a4"/>
<line x1="375.0" y1="221.7" x2="376.0" y2="230.3" stroke="#5a1e9a"/>
<line x1="254.4" y1="276.9" x2="266.4" y2="257.1" stroke="#10062a"/>
<line x1="380.4" y1="209.3" x2="400.9" y2="225.4" stroke="#e87258"/>
<line x1="363.9" y1="200.5" x2="385.0" y2="220.5" stroke="#d05a70"/>
<line x1="392.9" y1="273.8" x2="397.1" y2="248.1" stroke="#f6a878"/>
<line x1="337.5" y1="190.8" x2="313.2" y2="200.4" stroke="#5a1e9a"/>
<line x1="275.5" y1="234.3" x2="280.4" y2="244.8" stroke="#d05a70"/>
<line x1="242.5" y1="250.6" x2="256.2" y2="272.8" stroke="#d05a70"/>
<line x1="343.7" y1="253.3" x2="362.9" y2="235.6" stroke="#d05a70"/>
<line x1="340.2" y1="234.7" x2="343.3" y2="217.6" stroke="#f2e0a4"/>
<line x1="309.4" y1="288.8" x2="312.3" y2="262.9" stroke="#5a1e9a"/>
<line x1="361.8" y1="221.5" x2="367.6" y2="196.0" stroke="#10062a"/>
<line x1="386.3" y1="222.7" x2="386.6" y2="193.7" stroke="#d05a70"/>
<line x1="377.4" y1="244.4" x2="370.4" y2="266.5" stroke="#d05a70"/>
<line x1="200.8" y1="266.0" x2="232.8" y2="279.6" stroke="#2e0e66"/>
<line x1="268.6" y1="251.2" x2="262.0" y2="273.4" stroke="#10062a"/>
<line x1="331.8" y1="249.9" x2="331.2" y2="267.2" stroke="#f2e0a4"/>
<line x1="418.7" y1="199.9" x2="404.4" y2="214.3" stroke="#e87258"/>
<line x1="366.5" y1="233.2" x2="358.5" y2="255.0" stroke="#10062a"/>
<line x1="262.3" y1="217.4" x2="285.2" y2="220.6" stroke="#e87258"/>
<line x1="390.9" y1="196.9" x2="395.4" y2="222.6" stroke="#2e0e66"/>
<line x1="303.7" y1="217.0" x2="305.4" y2="231.4" stroke="#e87258"/>
<line x1="362.9" y1="254.7" x2="372.0" y2="288.3" stroke="#10062a"/>
<line x1="344.5" y1="246.6" x2="343.7" y2="258.2" stroke="#10062a"/>
<line x1="246.2" y1="196.9" x2="256.6" y2="217.7" stroke="#10062a"/>
<line x1="311.1" y1="266.2" x2="310.4" y2="245.9" stroke="#5a1e9a"/>
<line x1="291.1" y1="212.8" x2="303.6" y2="196.8" stroke="#8a2a90"/>
<line x1="418.4" y1="275.3" x2="431.8" y2="249.6" stroke="#f2e0a4"/>
<line x1="376.5" y1="220.3" x2="388.0" y2="233.4" stroke="#2e0e66"/>
<line x1="379.2" y1="207.5" x2="386.8" y2="191.8" stroke="#8a2a90"/>
<line x1="348.4" y1="207.5" x2="352.1" y2="199.6" stroke="#5a1e9a"/>
<line x1="404.0" y1="246.9" x2="409.6" y2="233.5" stroke="#f2e0a4"/>
<line x1="263.8" y1="238.5" x2="260.5" y2="252.6" stroke="#d05a70"/>
<line x1="358.4" y1="206.4" x2="382.5" y2="190.2" stroke="#f6a878"/>
<line x1="242.1" y1="280.4" x2="207.3" y2="281.1" stroke="#d05a70"/>
<line x1="296.5" y1="202.2" x2="294.3" y2="228.2" stroke="#e87258"/>
<line x1="237.8" y1="278.3" x2="254.6" y2="262.2" stroke="#5a1e9a"/>
<line x1="217.8" y1="198.6" x2="230.4" y2="210.6" stroke="#5a1e9a"/>
<line x1="240.5" y1="267.5" x2="252.3" y2="297.1" stroke="#f2e0a4"/>
<line x1="274.6" y1="187.0" x2="279.8" y2="206.6" stroke="#e87258"/>
<line x1="292.0" y1="221.3" x2="309.5" y2="211.0" stroke="#5a1e9a"/>
<line x1="404.4" y1="221.6" x2="395.5" y2="246.2" stroke="#f2e0a4"/>
<line x1="358.1" y1="288.2" x2="369.3" y2="267.8" stroke="#2e0e66"/>
<line x1="315.2" y1="254.7" x2="326.7" y2="221.8" stroke="#e87258"/>
<line x1="407.8" y1="235.6" x2="415.4" y2="223.2" stroke="#5a1e9a"/>
<line x1="302.4" y1="216.6" x2="319.0" y2="232.8" stroke="#f2e0a4"/>
<line x1="224.3" y1="209.3" x2="218.6" y2="183.8" stroke="#5a1e9a"/>
<line x1="341.5" y1="268.2" x2="312.6" y2="281.7" stroke="#8a2a90"/>
<line x1="374.5" y1="236.9" x2="388.0" y2="262.6" stroke="#e87258"/>
<line x1="424.4" y1="269.9" x2="423.0" y2="287.2" stroke="#10062a"/>
<line x1="353.3" y1="227.0" x2="366.9" y2="208.2" stroke="#8a2a90"/>
<line x1="417.2" y1="262.0" x2="422.4" y2="251.7" stroke="#d05a70"/>
<line x1="404.6" y1="196.9" x2="416.1" y2="226.6" stroke="#e87258"/>
<line x1="431.3" y1="218.6" x2="418.4" y2="225.3" stroke="#e87258"/>
<line x1="327.5" y1="209.5" x2="331.1" y2="232.4" stroke="#d05a70"/>
<line x1="239.6" y1="244.5" x2="254.7" y2="265.8" stroke="#f6a878"/>
<line x1="240.4" y1="288.8" x2="255.9" y2="260.9" stroke="#f6a878"/>
<line x1="319.8" y1="238.9" x2="339.4" y2="267.6" stroke="#5a1e9a"/>
<line x1="372.6" y1="260.1" x2="379.2" y2="288.3" stroke="#e87258"/>
<line x1="298.9" y1="272.7" x2="302.0" y2="252.6" stroke="#2e0e66"/>
<line x1="295.8" y1="265.0" x2="293.8" y2="279.3" stroke="#5a1e9a"/>
<line x1="286.4" y1="229.9" x2="295.6" y2="260.5" stroke="#10062a"/>
<line x1="255.6" y1="196.0" x2="267.0" y2="205.1" stroke="#5a1e9a"/>
<line x1="248.9" y1="230.7" x2="274.1" y2="206.7" stroke="#10062a"/>
<line x1="394.7" y1="173.6" x2="386.0" y2="207.3" stroke="#5a1e9a"/>
<line x1="396.3" y1="219.2" x2="395.9" y2="227.9" stroke="#f2e0a4"/>
<line x1="411.3" y1="228.0" x2="410.9" y2="199.0" stroke="#f6a878"/>
<line x1="252.3" y1="221.2" x2="242.4" y2="231.7" stroke="#d05a70"/>
<line x1="354.0" y1="206.2" x2="339.4" y2="215.6" stroke="#5a1e9a"/>
<line x1="254.7" y1="272.1" x2="253.9" y2="260.5" stroke="#2e0e66"/>
<line x1="281.8" y1="212.2" x2="287.9" y2="240.5" stroke="#f2e0a4"/>
<line x1="224.2" y1="279.3" x2="226.3" y2="259.1" stroke="#5a1e9a"/>
<line x1="358.1" y1="253.7" x2="364.9" y2="269.8" stroke="#f6a878"/>
<line x1="384.0" y1="285.6" x2="401.8" y2="266.6" stroke="#8a2a90"/>
<line x1="418.7" y1="270.3" x2="390.1" y2="275.1" stroke="#10062a"/>
<line x1="261.2" y1="193.8" x2="279.4" y2="202.8" stroke="#2e0e66"/>
<line x1="244.8" y1="214.0" x2="257.1" y2="226.2" stroke="#f6a878"/>
<line x1="316.1" y1="265.7" x2="330.6" y2="275.4" stroke="#e87258"/>
<line x1="215.3" y1="274.9" x2="219.7" y2="282.4" stroke="#d05a70"/>
<line x1="411.6" y1="240.7" x2="418.3" y2="206.5" stroke="#d05a70"/>
<line x1="318.5" y1="230.5" x2="336.6" y2="207.9" stroke="#e87258"/>
<line x1="342.1" y1="272.2" x2="356.6" y2="254.1" stroke="#2e0e66"/>
<line x1="399.6" y1="278.0" x2="401.7" y2="286.5" stroke="#10062a"/>
<line x1="416.5" y1="239.2" x2="422.2" y2="216.7" stroke="#d05a70"/>
<line x1="262.3" y1="253.7" x2="259.7" y2="279.7" stroke="#e87258"/>
<line x1="331.5" y1="238.3" x2="335.4" y2="227.4" stroke="#d05a70"/>
<line x1="383.9" y1="205.1" x2="397.8" y2="233.8" stroke="#5a1e9a"/>
<line x1="221.5" y1="249.6" x2="227.3" y2="215.3" stroke="#d05a70"/>
<line x1="230.2" y1="248.8" x2="234.4" y2="277.5" stroke="#e87258"/>
<line x1="345.4" y1="209.7" x2="363.7" y2="235.8" stroke="#e87258"/>
<line x1="219.8" y1="224.5" x2="223.9" y2="207.6" stroke="#8a2a90"/>
<line x1="326.9" y1="233.7" x2="334.0" y2="224.5" stroke="#10062a"/>
<line x1="394.4" y1="222.0" x2="403.2" y2="210.4" stroke="#d05a70"/>
<line x1="385.2" y1="250.0" x2="395.7" y2="223.0" stroke="#5a1e9a"/>
<line x1="427.4" y1="197.7" x2="419.9" y2="228.8" stroke="#8a2a90"/>
<line x1="277.1" y1="219.6" x2="281.8" y2="239.4" stroke="#8a2a90"/>
<line x1="385.7" y1="208.9" x2="381.3" y2="216.4" stroke="#5a1e9a"/>
<line x1="311.5" y1="224.4" x2="310.2" y2="247.6" stroke="#d05a70"/>
<line x1="318.3" y1="260.1" x2="318.4" y2="245.6" stroke="#d05a70"/>
<line x1="338.1" y1="264.1" x2="348.7" y2="234.1" stroke="#e87258"/>
<line x1="368.0" y1="253.6" x2="374.2" y2="243.8" stroke="#f2e0a4"/>
<line x1="205.2" y1="230.1" x2="211.2" y2="249.5" stroke="#8a2a90"/>
<line x1="377.8" y1="216.5" x2="382.2" y2="227.2" stroke="#e87258"/>
<line x1="392.8" y1="183.6" x2="392.8" y2="203.9" stroke="#5a1e9a"/>
<line x1="348.7" y1="217.8" x2="367.4" y2="203.9" stroke="#5a1e9a"/>
<line x1="345.3" y1="266.6" x2="366.2" y2="246.5" stroke="#8a2a90"/>
<line x1="326.4" y1="275.4" x2="331.9" y2="268.7" stroke="#10062a"/>
<line x1="359.7" y1="263.2" x2="364.6" y2="291.8" stroke="#5a1e9a"/>
<line x1="256.9" y1="190.5" x2="263.4" y2="206.7" stroke="#e87258"/>
<line x1="421.6" y1="243.4" x2="423.9" y2="251.8" stroke="#d05a70"/>
<line x1="332.5" y1="258.5" x2="335.3" y2="247.2" stroke="#d05a70"/>
<line x1="368.6" y1="236.7" x2="361.8" y2="255.8" stroke="#d05a70"/>
<line x1="314.3" y1="241.0" x2="321.0" y2="260.2" stroke="#2e0e66"/>
<line x1="321.5" y1="218.5" x2="307.8" y2="240.7" stroke="#d05a70"/>
<line x1="257.6" y1="278.2" x2="262.4" y2="264.5" stroke="#10062a"/>
<line x1="231.1" y1="231.0" x2="250.5" y2="259.9" stroke="#e87258"/>
<line x1="198.2" y1="237.1" x2="218.9" y2="253.0" stroke="#d05a70"/>
<line x1="236.9" y1="231.6" x2="244.5" y2="206.6" stroke="#e87258"/>
<line x1="351.8" y1="212.4" x2="362.6" y2="191.8" stroke="#5a1e9a"/>
<line x1="312.2" y1="245.7" x2="320.8" y2="218.0" stroke="#e87258"/>
<line x1="282.1" y1="251.2" x2="290.1" y2="276.1" stroke="#d05a70"/>
<line x1="386.1" y1="214.8" x2="376.4" y2="239.1" stroke="#f6a878"/>
<line x1="343.6" y1="286.1" x2="364.5" y2="262.0" stroke="#d05a70"/>
<line x1="225.7" y1="209.2" x2="244.4" y2="238.6" stroke="#10062a"/>
<line x1="273.4" y1="202.3" x2="290.1" y2="207.2" stroke="#e87258"/>
<line x1="413.6" y1="248.6" x2="438.8" y2="268.2" stroke="#e87258"/>
<line x1="274.5" y1="219.4" x2="259.8" y2="237.4" stroke="#d05a70"/>
<line x1="275.5" y1="239.7" x2="274.7" y2="228.2" stroke="#2e0e66"/>
<line x1="222.1" y1="229.7" x2="223.3" y2="244.2" stroke="#5a1e9a"/>
<line x1="222.2" y1="203.7" x2="228.5" y2="190.7" stroke="#8a2a90"/>
<line x1="373.9" y1="254.2" x2="400.6" y2="271.7" stroke="#8a2a90"/>
<line x1="401.7" y1="252.5" x2="412.5" y2="222.5" stroke="#2e0e66"/>
<line x1="325.3" y1="240.1" x2="339.0" y2="265.6" stroke="#8a2a90"/>
<line x1="207.2" y1="200.2" x2="214.8" y2="222.1" stroke="#d05a70"/>
<line x1="353.7" y1="265.0" x2="357.7" y2="251.1" stroke="#10062a"/>
<line x1="296.3" y1="183.8" x2="307.0" y2="201.0" stroke="#10062a"/>
<line x1="340.7" y1="214.7" x2="349.0" y2="196.2" stroke="#10062a"/>
<line x1="229.5" y1="239.2" x2="235.4" y2="226.0" stroke="#5a1e9a"/>
<line x1="353.6" y1="205.2" x2="361.2" y2="177.2" stroke="#10062a"/>
<line x1="214.1" y1="184.2" x2="233.5" y2="205.8" stroke="#5a1e9a"/>
<line x1="216.8" y1="203.5" x2="230.6" y2="229.1" stroke="#8a2a90"/>
<line x1="213.6" y1="191.5" x2="235.9" y2="204.9" stroke="#5a1e9a"/>
<line x1="197.2" y1="223.4" x2="219.2" y2="196.4" stroke="#d05a70"/>
<line x1="382.8" y1="241.2" x2="382.2" y2="226.7" stroke="#5a1e9a"/>
<line x1="284.0" y1="195.6" x2="286.2" y2="218.7" stroke="#d05a70"/>
<line x1="354.7" y1="192.8" x2="335.8" y2="218.5" stroke="#10062a"/>
<line x1="359.7" y1="255.4" x2="341.4" y2="264.3" stroke="#2e0e66"/>
<line x1="338.0" y1="180.6" x2="351.2" y2="203.1" stroke="#e87258"/>
<line x1="393.7" y1="236.4" x2="408.8" y2="250.0" stroke="#10062a"/>
<line x1="287.5" y1="200.2" x2="292.1" y2="207.5" stroke="#f2e0a4"/>
<line x1="429.8" y1="200.2" x2="407.2" y2="222.8" stroke="#8a2a90"/>
<line x1="350.6" y1="209.0" x2="364.4" y2="194.1" stroke="#5a1e9a"/>
<line x1="308.9" y1="230.7" x2="316.1" y2="218.1" stroke="#e87258"/>
<line x1="406.0" y1="266.9" x2="384.3" y2="275.1" stroke="#d05a70"/>
<line x1="294.8" y1="249.0" x2="285.8" y2="270.4" stroke="#f2e0a4"/>
<line x1="264.2" y1="220.1" x2="269.7" y2="203.7" stroke="#10062a"/>
<line x1="242.2" y1="209.0" x2="253.8" y2="222.0" stroke="#10062a"/>
<line x1="414.5" y1="223.7" x2="437.3" y2="201.5" stroke="#e87258"/>
<line x1="345.3" y1="295.6" x2="357.4" y2="266.1" stroke="#8a2a90"/>
<line x1="231.8" y1="210.0" x2="239.9" y2="218.4" stroke="#8a2a90"/>
<line x1="298.9" y1="192.0" x2="300.7" y2="200.5" stroke="#2e0e66"/>
<line x1="251.2" y1="228.5" x2="262.4" y2="245.4" stroke="#10062a"/>
<line x1="363.0" y1="265.5" x2="342.7" y2="265.8" stroke="#8a2a90"/>
<line x1="305.1" y1="277.3" x2="309.7" y2="263.6" stroke="#f2e0a4"/>
<line x1="310.7" y1="267.5" x2="293.3" y2="294.2" stroke="#2e0e66"/>
<line x1="342.4" y1="266.3" x2="341.6" y2="246.1" stroke="#10062a"/>
<line x1="357.5" y1="252.3" x2="366.2" y2="240.7" stroke="#e87258"/>
<line x1="370.7" y1="259.9" x2="378.6" y2="229.1" stroke="#5a1e9a"/>
<line x1="274.1" y1="219.3" x2="296.8" y2="224.2" stroke="#5a1e9a"/>
<line x1="266.3" y1="240.5" x2="268.9" y2="226.2" stroke="#5a1e9a"/>
<line x1="221.4" y1="214.1" x2="225.4" y2="191.2" stroke="#10062a"/>
<line x1="234.6" y1="249.7" x2="240.7" y2="243.5" stroke="#5a1e9a"/>
<line x1="325.6" y1="285.8" x2="328.0" y2="277.5" stroke="#5a1e9a"/>
<line x1="372.0" y1="270.5" x2="393.5" y2="294.1" stroke="#10062a"/>
<line x1="352.2" y1="264.9" x2="362.5" y2="244.1" stroke="#8a2a90"/>
<line x1="249.7" y1="224.3" x2="243.5" y2="193.0" stroke="#8a2a90"/>
<line x1="385.2" y1="241.3" x2="385.4" y2="221.0" stroke="#2e0e66"/>
<line x1="280.9" y1="189.9" x2="292.0" y2="193.3" stroke="#e87258"/>
<line x1="328.3" y1="261.8" x2="337.1" y2="234.1" stroke="#10062a"/>
<line x1="338.9" y1="236.2" x2="342.4" y2="210.3" stroke="#d05a70"/>
<line x1="422.9" y1="198.0" x2="428.3" y2="211.4" stroke="#d05a70"/>
<line x1="381.0" y1="208.3" x2="386.5" y2="188.8" stroke="#5a1e9a"/>
<line x1="419.1" y1="265.7" x2="430.1" y2="248.6" stroke="#e87258"/>
<line x1="338.7" y1="196.5" x2="328.0" y2="201.1" stroke="#5a1e9a"/>
<line x1="360.5" y1="185.4" x2="378.6" y2="211.6" stroke="#8a2a90"/>
<line x1="363.0" y1="277.5" x2="368.8" y2="267.4" stroke="#10062a"/>
<line x1="374.0" y1="240.6" x2="374.8" y2="266.7" stroke="#d05a70"/>
<line x1="403.1" y1="207.6" x2="424.2" y2="187.7" stroke="#e87258"/>
<line x1="321.7" y1="212.9" x2="335.8" y2="187.6" stroke="#e87258"/>
<line x1="248.9" y1="258.8" x2="261.3" y2="274.8" stroke="#5a1e9a"/>
<line x1="420.5" y1="270.3" x2="426.6" y2="286.5" stroke="#d05a70"/>
<line x1="401.2" y1="253.0" x2="415.0" y2="230.9" stroke="#2e0e66"/>
<line x1="418.4" y1="244.0" x2="417.4" y2="235.4" stroke="#10062a"/>
<line x1="353.1" y1="187.4" x2="372.6" y2="212.7" stroke="#8a2a90"/>
<line x1="300.5" y1="264.6" x2="319.6" y2="271.5" stroke="#d05a70"/>
<line x1="324.0" y1="220.8" x2="330.0" y2="195.4" stroke="#5a1e9a"/>
<line x1="354.3" y1="202.3" x2="358.8" y2="194.9" stroke="#8a2a90"/>
<line x1="363.3" y1="199.2" x2="371.1" y2="224.1" stroke="#8a2a90"/>
<line x1="297.5" y1="196.5" x2="297.6" y2="228.4" stroke="#d05a70"/>
<line x1="403.8" y1="278.4" x2="406.4" y2="270.1" stroke="#f6a878"/>
<line x1="418.7" y1="197.1" x2="395.9" y2="201.5" stroke="#2e0e66"/>
<line x1="273.5" y1="225.7" x2="272.8" y2="196.7" stroke="#10062a"/>
<line x1="302.6" y1="245.0" x2="309.9" y2="267.0" stroke="#8a2a90"/>
<line x1="357.6" y1="246.7" x2="359.4" y2="238.2" stroke="#2e0e66"/>
<line x1="294.2" y1="189.3" x2="298.1" y2="209.2" stroke="#10062a"/>
<line x1="369.1" y1="271.9" x2="364.1" y2="294.5" stroke="#e87258"/>
<line x1="214.0" y1="262.0" x2="216.4" y2="276.3" stroke="#10062a"/>
<line x1="205.3" y1="251.6" x2="215.9" y2="268.8" stroke="#f6a878"/>
<line x1="210.4" y1="213.7" x2="235.8" y2="219.9" stroke="#2e0e66"/>
<line x1="304.8" y1="187.4" x2="310.6" y2="218.8" stroke="#10062a"/>
<line x1="221.8" y1="209.5" x2="227.9" y2="190.2" stroke="#f6a878"/>
<line x1="366.2" y1="238.1" x2="367.6" y2="270.0" stroke="#e87258"/>
<line x1="310.4" y1="252.8" x2="312.6" y2="244.4" stroke="#2e0e66"/>
<line x1="380.1" y1="253.2" x2="401.9" y2="238.9" stroke="#f2e0a4"/>
<line x1="310.0" y1="196.1" x2="308.8" y2="207.7" stroke="#f2e0a4"/>
<line x1="235.1" y1="229.3" x2="240.2" y2="212.7" stroke="#d05a70"/>
<line x1="296.9" y1="223.0" x2="303.9" y2="213.7" stroke="#f6a878"/>
<line x1="405.7" y1="278.9" x2="410.0" y2="265.0" stroke="#10062a"/>
<line x1="286.5" y1="200.0" x2="287.6" y2="182.6" stroke="#e87258"/>
<line x1="356.7" y1="241.3" x2="357.0" y2="261.6" stroke="#e87258"/>
<line x1="244.5" y1="260.7" x2="273.0" y2="266.3" stroke="#8a2a90"/>
<line x1="384.1" y1="229.7" x2="400.1" y2="250.4" stroke="#f2e0a4"/>
<line x1="227.1" y1="190.6" x2="238.6" y2="191.9" stroke="#e87258"/>
<line x1="282.9" y1="238.8" x2="291.6" y2="246.4" stroke="#5a1e9a"/>
<line x1="229.1" y1="255.8" x2="228.8" y2="264.4" stroke="#10062a"/>
<line x1="286.7" y1="218.2" x2="289.4" y2="206.9" stroke="#2e0e66"/>
<line x1="225.1" y1="249.3" x2="239.7" y2="235.2" stroke="#2e0e66"/>
<line x1="279.0" y1="186.1" x2="292.6" y2="204.9" stroke="#d05a70"/>
<line x1="322.0" y1="255.0" x2="327.8" y2="277.5" stroke="#2e0e66"/>
<line x1="347.3" y1="235.5" x2="350.5" y2="243.6" stroke="#5a1e9a"/>
<line x1="316.9" y1="274.6" x2="326.8" y2="244.3" stroke="#e87258"/>
<line x1="255.6" y1="276.9" x2="265.9" y2="271.7" stroke="#d05a70"/>
<line x1="308.4" y1="269.4" x2="301.6" y2="282.2" stroke="#f2e0a4"/>
<line x1="407.2" y1="221.6" x2="418.2" y2="242.0" stroke="#5a1e9a"/>
<line x1="378.2" y1="260.2" x2="381.5" y2="274.3" stroke="#2e0e66"/>
<line x1="362.7" y1="216.9" x2="336.6" y2="217.8" stroke="#8a2a90"/>
<line x1="418.1" y1="208.6" x2="424.7" y2="202.8" stroke="#8a2a90"/>
<line x1="241.8" y1="285.3" x2="248.8" y2="263.1" stroke="#e87258"/>
<line x1="199.0" y1="229.7" x2="215.0" y2="253.9" stroke="#5a1e9a"/>
<line x1="231.6" y1="230.2" x2="233.8" y2="241.6" stroke="#10062a"/>
<line x1="244.3" y1="243.1" x2="271.1" y2="225.7" stroke="#e87258"/>
<line x1="222.7" y1="269.8" x2="230.3" y2="257.5" stroke="#e87258"/>
<line x1="277.9" y1="225.7" x2="287.3" y2="218.9" stroke="#f6a878"/>
<line x1="294.1" y1="246.0" x2="302.3" y2="264.6" stroke="#2e0e66"/>
<line x1="331.3" y1="268.5" x2="335.2" y2="254.6" stroke="#e87258"/>
<line x1="218.9" y1="270.1" x2="219.8" y2="293.3" stroke="#5a1e9a"/>
<line x1="290.8" y1="220.9" x2="306.7" y2="241.6" stroke="#10062a"/>
<line x1="295.5" y1="271.4" x2="295.3" y2="256.9" stroke="#e87258"/>
<line x1="319.3" y1="261.8" x2="312.1" y2="286.8" stroke="#8a2a90"/>
<line x1="375.6" y1="272.4" x2="388.4" y2="288.1" stroke="#8a2a90"/>
<line x1="268.4" y1="210.1" x2="272.3" y2="193.1" stroke="#10062a"/>
<line x1="231.1" y1="266.3" x2="232.6" y2="292.3" stroke="#e87258"/>
<line x1="278.0" y1="242.4" x2="261.0" y2="269.4" stroke="#f2e0a4"/>
<line x1="259.2" y1="237.4" x2="275.0" y2="258.1" stroke="#10062a"/>
<line x1="345.6" y1="226.8" x2="364.6" y2="252.4" stroke="#5a1e9a"/>
<line x1="321.1" y1="234.7" x2="342.6" y2="211.1" stroke="#10062a"/>
<line x1="320.6" y1="223.5" x2="326.4" y2="233.6" stroke="#e87258"/>
<line x1="403.9" y1="238.5" x2="405.3" y2="203.8" stroke="#10062a"/>
<line x1="368.3" y1="205.2" x2="396.9" y2="219.4" stroke="#d05a70"/>
<line x1="332.3" y1="217.4" x2="330.1" y2="240.5" stroke="#e87258"/>
<line x1="342.9" y1="227.5" x2="342.1" y2="244.9" stroke="#e87258"/>
<line x1="369.7" y1="265.4" x2="371.1" y2="294.3" stroke="#e87258"/>
<line x1="411.0" y1="228.7" x2="417.0" y2="218.7" stroke="#f6a878"/>
<line x1="206.0" y1="227.7" x2="209.1" y2="235.8" stroke="#10062a"/>
<line x1="253.1" y1="271.6" x2="273.7" y2="260.8" stroke="#8a2a90"/>
<line x1="225.6" y1="263.2" x2="232.9" y2="294.2" stroke="#10062a"/>
<line x1="283.5" y1="277.4" x2="283.0" y2="289.0" stroke="#f2e0a4"/>
<line x1="384.5" y1="285.4" x2="391.8" y2="269.6" stroke="#2e0e66"/>
<line x1="206.4" y1="227.1" x2="208.2" y2="201.0" stroke="#5a1e9a"/>
<line x1="330.4" y1="253.4" x2="338.4" y2="268.8" stroke="#e87258"/>
<line x1="266.6" y1="270.6" x2="268.1" y2="282.1" stroke="#8a2a90"/>
<line x1="228.1" y1="240.2" x2="235.2" y2="259.2" stroke="#f2e0a4"/>
<line x1="241.0" y1="249.9" x2="227.1" y2="264.6" stroke="#10062a"/>
<line x1="380.2" y1="230.3" x2="385.4" y2="261.7" stroke="#d05a70"/>
<line x1="396.0" y1="210.5" x2="397.2" y2="196.0" stroke="#5a1e9a"/>
<line x1="230.4" y1="235.7" x2="241.1" y2="262.7" stroke="#e87258"/>
<line x1="374.5" y1="197.5" x2="376.3" y2="217.8" stroke="#d05a70"/>
<line x1="273.9" y1="281.4" x2="277.5" y2="270.4" stroke="#e87258"/>
<line x1="386.5" y1="191.8" x2="391.4" y2="199.0" stroke="#f6a878"/>
<line x1="308.0" y1="257.0" x2="322.8" y2="243.0" stroke="#e87258"/>
<line x1="329.6" y1="222.6" x2="335.3" y2="229.1" stroke="#f2e0a4"/>
<line x1="232.1" y1="229.3" x2="241.6" y2="240.2" stroke="#f2e0a4"/>
<line x1="317.5" y1="193.2" x2="316.7" y2="228.0" stroke="#e87258"/>
<line x1="243.7" y1="214.2" x2="269.5" y2="195.4" stroke="#10062a"/>
<line x1="357.9" y1="286.2" x2="365.3" y2="270.4" stroke="#d05a70"/>
<line x1="311.0" y1="222.2" x2="311.0" y2="233.8" stroke="#10062a"/>
<line x1="341.9" y1="212.8" x2="354.3" y2="186.5" stroke="#5a1e9a"/>
<line x1="220.4" y1="211.2" x2="228.8" y2="213.7" stroke="#5a1e9a"/>
<line x1="353.5" y1="216.6" x2="357.4" y2="227.5" stroke="#5a1e9a"/>
<line x1="401.2" y1="267.0" x2="412.5" y2="280.3" stroke="#e87258"/>
<line x1="367.9" y1="202.7" x2="370.9" y2="182.6" stroke="#5a1e9a"/>
<line x1="205.6" y1="225.8" x2="212.2" y2="206.6" stroke="#2e0e66"/>
<line x1="281.3" y1="219.9" x2="294.7" y2="197.5" stroke="#f2e0a4"/>
<line x1="404.8" y1="241.2" x2="409.8" y2="248.4" stroke="#f6a878"/>
<line x1="347.7" y1="258.3" x2="349.8" y2="249.9" stroke="#f6a878"/>
<line x1="334.2" y1="272.5" x2="348.8" y2="247.4" stroke="#d05a70"/>
<line x1="225.0" y1="259.4" x2="223.8" y2="271.0" stroke="#8a2a90"/>
<line x1="284.5" y1="255.5" x2="274.9" y2="266.4" stroke="#5a1e9a"/>
<line x1="212.1" y1="287.4" x2="224.9" y2="268.0" stroke="#f6a878"/>
<line x1="289.5" y1="270.3" x2="298.0" y2="248.7" stroke="#2e0e66"/>
<line x1="388.9" y1="287.1" x2="397.0" y2="265.4" stroke="#f6a878"/>
<line x1="277.5" y1="214.7" x2="297.6" y2="198.0" stroke="#f6a878"/>
<line x1="330.9" y1="238.9" x2="312.8" y2="248.0" stroke="#8a2a90"/>
<line x1="339.5" y1="266.2" x2="352.6" y2="250.7" stroke="#5a1e9a"/>
<line x1="251.5" y1="219.2" x2="257.0" y2="212.5" stroke="#e87258"/>
<line x1="309.5" y1="213.1" x2="321.8" y2="200.8" stroke="#10062a"/>
<line x1="377.1" y1="225.8" x2="388.5" y2="249.3" stroke="#d05a70"/>
<line x1="200.3" y1="203.7" x2="214.8" y2="182.0" stroke="#e87258"/>
<line x1="406.8" y1="262.2" x2="415.8" y2="237.7" stroke="#10062a"/>
<line x1="279.9" y1="215.2" x2="283.5" y2="229.2" stroke="#8a2a90"/>
<line x1="211.6" y1="271.3" x2="228.7" y2="241.0" stroke="#10062a"/>
<line x1="300.5" y1="184.4" x2="301.5" y2="198.8" stroke="#10062a"/>
<line x1="263.7" y1="238.1" x2="262.2" y2="249.6" stroke="#f6a878"/>
<line x1="362.6" y1="225.2" x2="371.6" y2="207.0" stroke="#d05a70"/>
<line x1="275.0" y1="235.8" x2="278.9" y2="246.7" stroke="#2e0e66"/>
<line x1="357.9" y1="265.9" x2="367.7" y2="287.0" stroke="#f6a878"/>
<line x1="255.4" y1="220.7" x2="258.5" y2="237.9" stroke="#5a1e9a"/>
<line x1="252.6" y1="220.3" x2="257.8" y2="227.2" stroke="#f6a878"/>
<line x1="233.3" y1="266.3" x2="240.1" y2="285.4" stroke="#f2e0a4"/>
<line x1="369.3" y1="272.9" x2="383.7" y2="291.1" stroke="#2e0e66"/>
<line x1="304.3" y1="235.0" x2="317.3" y2="212.4" stroke="#d05a70"/>
<line x1="417.3" y1="225.1" x2="421.7" y2="208.3" stroke="#d05a70"/>
<line x1="389.4" y1="180.0" x2="410.4" y2="204.1" stroke="#8a2a90"/>
<line x1="362.0" y1="178.8" x2="346.7" y2="206.8" stroke="#f2e0a4"/>
<line x1="240.9" y1="196.1" x2="222.6" y2="218.6" stroke="#8a2a90"/>
<line x1="268.6" y1="290.4" x2="274.2" y2="270.9" stroke="#f2e0a4"/>
<line x1="357.5" y1="205.3" x2="362.0" y2="191.5" stroke="#f2e0a4"/>
<line x1="315.7" y1="229.9" x2="328.4" y2="241.8" stroke="#2e0e66"/>
<line x1="413.5" y1="213.2" x2="420.9" y2="232.1" stroke="#e87258"/>
<line x1="301.1" y1="263.2" x2="307.8" y2="276.1" stroke="#f2e0a4"/>
<line x1="295.9" y1="247.0" x2="319.2" y2="268.8" stroke="#f2e0a4"/>
<line x1="307.8" y1="219.3" x2="310.3" y2="248.2" stroke="#10062a"/>
<line x1="311.2" y1="185.1" x2="300.4" y2="205.7" stroke="#d05a70"/>
<line x1="225.0" y1="232.7" x2="243.7" y2="246.6" stroke="#2e0e66"/>
<line x1="262.0" y1="243.1" x2="270.3" y2="221.5" stroke="#d05a70"/>
<line x1="427.5" y1="286.1" x2="424.8" y2="254.3" stroke="#d05a70"/>
<line x1="384.7" y1="210.5" x2="381.7" y2="187.5" stroke="#d05a70"/>
<line x1="387.4" y1="235.4" x2="404.6" y2="208.5" stroke="#8a2a90"/>
<line x1="266.3" y1="215.9" x2="279.0" y2="245.2" stroke="#f6a878"/>
<line x1="254.2" y1="229.8" x2="256.4" y2="241.2" stroke="#5a1e9a"/>
<line x1="284.6" y1="255.3" x2="282.2" y2="278.4" stroke="#f2e0a4"/>
<line x1="218.1" y1="201.9" x2="228.9" y2="225.6" stroke="#e87258"/>
<line x1="370.9" y1="185.6" x2="376.2" y2="214.1" stroke="#8a2a90"/>
<line x1="214.5" y1="242.5" x2="221.1" y2="258.5" stroke="#f2e0a4"/>
<line x1="208.5" y1="264.7" x2="214.4" y2="281.1" stroke="#f2e0a4"/>
<line x1="270.9" y1="200.1" x2="270.8" y2="185.6" stroke="#f2e0a4"/>
<line x1="418.8" y1="237.6" x2="425.3" y2="203.4" stroke="#10062a"/>
<line x1="339.5" y1="222.9" x2="354.1" y2="204.9" stroke="#10062a"/>
<line x1="333.4" y1="215.0" x2="343.9" y2="219.8" stroke="#f6a878"/>
<line x1="376.7" y1="244.3" x2="384.8" y2="210.4" stroke="#8a2a90"/>
<line x1="367.7" y1="214.9" x2="379.2" y2="241.5" stroke="#5a1e9a"/>
<line x1="264.0" y1="232.6" x2="268.2" y2="240.2" stroke="#f6a878"/>
<line x1="210.2" y1="232.0" x2="215.8" y2="225.4" stroke="#10062a"/>
<line x1="344.0" y1="233.9" x2="337.6" y2="239.8" stroke="#5a1e9a"/>
<line x1="359.4" y1="293.2" x2="377.6" y2="267.0" stroke="#10062a"/>
<line x1="356.3" y1="209.3" x2="373.6" y2="236.1" stroke="#2e0e66"/>
<line x1="399.6" y1="270.5" x2="403.6" y2="259.6" stroke="#f6a878"/>
<line x1="365.9" y1="264.3" x2="371.6" y2="251.0" stroke="#e87258"/>
<line x1="354.3" y1="292.2" x2="372.0" y2="269.2" stroke="#2e0e66"/>
<line x1="260.6" y1="230.9" x2="266.1" y2="208.4" stroke="#d05a70"/>
<line x1="272.6" y1="211.6" x2="284.9" y2="199.3" stroke="#f2e0a4"/>
<line x1="371.2" y1="190.4" x2="372.9" y2="201.9" stroke="#10062a"/>
<line x1="353.5" y1="283.6" x2="347.2" y2="267.3" stroke="#f6a878"/>
<line x1="305.4" y1="269.6" x2="313.9" y2="257.9" stroke="#f6a878"/>
<line x1="264.6" y1="205.7" x2="282.5" y2="179.3" stroke="#5a1e9a"/>
<line x1="293.5" y1="277.1" x2="295.2" y2="288.6" stroke="#d05a70"/>
<line x1="402.7" y1="238.9" x2="409.6" y2="219.8" stroke="#10062a"/>
<line x1="316.5" y1="267.1" x2="308.7" y2="270.9" stroke="#8a2a90"/>
<line x1="335.6" y1="216.9" x2="339.2" y2="242.8" stroke="#f2e0a4"/>
<line x1="362.2" y1="231.4" x2="371.0" y2="252.9" stroke="#f2e0a4"/>
<line x1="251.6" y1="250.5" x2="271.5" y2="267.3" stroke="#d05a70"/>
<line x1="427.7" y1="245.4" x2="409.9" y2="255.2" stroke="#10062a"/>
<line x1="259.6" y1="178.8" x2="275.7" y2="202.9" stroke="#5a1e9a"/>
<line x1="301.6" y1="215.7" x2="325.4" y2="190.3" stroke="#10062a"/>
<line x1="216.7" y1="185.1" x2="222.1" y2="216.5" stroke="#5a1e9a"/>
<line x1="376.2" y1="274.7" x2="370.7" y2="240.3" stroke="#d05a70"/>
<line x1="362.5" y1="229.1" x2="362.8" y2="237.8" stroke="#e87258"/>
<line x1="414.6" y1="224.5" x2="422.2" y2="208.9" stroke="#e87258"/>
<line x1="275.0" y1="285.0" x2="275.6" y2="273.4" stroke="#f2e0a4"/>
<line x1="336.1" y1="206.6" x2="343.9" y2="198.1" stroke="#f2e0a4"/>
<line x1="267.3" y1="275.6" x2="272.9" y2="265.4" stroke="#8a2a90"/>
<line x1="319.3" y1="200.3" x2="323.4" y2="183.4" stroke="#8a2a90"/>
<line x1="276.9" y1="198.2" x2="278.9" y2="189.7" stroke="#5a1e9a"/>
<line x1="237.7" y1="222.6" x2="229.4" y2="225.2" stroke="#f2e0a4"/>
<line x1="287.5" y1="257.1" x2="298.7" y2="270.4" stroke="#d05a70"/>
<line x1="362.3" y1="268.2" x2="363.0" y2="288.5" stroke="#8a2a90"/>
<line x1="401.5" y1="231.2" x2="397.9" y2="254.1" stroke="#10062a"/>
<line x1="353.6" y1="199.2" x2="363.8" y2="209.5" stroke="#2e0e66"/>
<line x1="417.3" y1="258.5" x2="424.3" y2="271.2" stroke="#d05a70"/>
<line x1="302.3" y1="240.1" x2="318.9" y2="260.2" stroke="#f2e0a4"/>
<line x1="396.5" y1="205.0" x2="406.4" y2="211.1" stroke="#d05a70"/>
<line x1="283.3" y1="231.1" x2="266.9" y2="236.9" stroke="#5a1e9a"/>
<line x1="374.8" y1="260.9" x2="395.8" y2="270.9" stroke="#10062a"/>
<line x1="375.1" y1="257.1" x2="357.3" y2="266.8" stroke="#10062a"/>
<line x1="271.8" y1="238.0" x2="285.8" y2="248.3" stroke="#f2e0a4"/>
<line x1="209.7" y1="226.0" x2="213.4" y2="233.9" stroke="#8a2a90"/>
<line x1="350.9" y1="216.0" x2="365.3" y2="217.7" stroke="#f2e0a4"/>
<line x1="293.8" y1="247.2" x2="302.8" y2="271.7" stroke="#5a1e9a"/>
<line x1="355.4" y1="186.6" x2="355.8" y2="209.8" stroke="#10062a"/>
<line x1="384.2" y1="200.2" x2="411.6" y2="209.5" stroke="#5a1e9a"/>
<line x1="377.0" y1="260.3" x2="388.3" y2="262.9" stroke="#5a1e9a"/>
<line x1="262.9" y1="271.5" x2="273.8" y2="285.0" stroke="#10062a"/>
<line x1="385.7" y1="216.4" x2="387.7" y2="227.9" stroke="#d05a70"/>
<line x1="238.5" y1="187.8" x2="252.9" y2="216.3" stroke="#10062a"/>
<line x1="296.2" y1="205.3" x2="281.6" y2="214.8" stroke="#f6a878"/>
<line x1="300.0" y1="275.5" x2="313.0" y2="259.9" stroke="#e87258"/>
<line x1="333.6" y1="236.1" x2="343.0" y2="211.8" stroke="#d05a70"/>
<line x1="248.4" y1="295.9" x2="262.7" y2="264.1" stroke="#2e0e66"/>
<line x1="221.7" y1="241.1" x2="236.2" y2="241.1" stroke="#d05a70"/>
<line x1="337.5" y1="230.3" x2="326.7" y2="240.0" stroke="#10062a"/>
<line x1="271.4" y1="209.5" x2="284.2" y2="221.2" stroke="#5a1e9a"/>
<line x1="282.9" y1="228.8" x2="289.0" y2="215.7" stroke="#5a1e9a"/>
<line x1="390.1" y1="268.1" x2="368.4" y2="276.3" stroke="#d05a70"/>
<line x1="282.0" y1="194.0" x2="287.5" y2="210.5" stroke="#e87258"/>
<line x1="211.4" y1="257.1" x2="217.1" y2="240.7" stroke="#8a2a90"/>
<line x1="418.9" y1="256.6" x2="423.1" y2="249.0" stroke="#d05a70"/>
<line x1="361.9" y1="224.4" x2="333.4" y2="244.4" stroke="#f2e0a4"/>
<line x1="374.0" y1="233.1" x2="378.3" y2="243.9" stroke="#10062a"/>
<line x1="204.8" y1="214.8" x2="218.6" y2="243.6" stroke="#e87258"/>
<line x1="403.1" y1="220.6" x2="417.4" y2="192.1" stroke="#e87258"/>
<line x1="237.2" y1="214.5" x2="242.5" y2="221.3" stroke="#10062a"/>
<line x1="350.8" y1="182.8" x2="358.0" y2="204.9" stroke="#f2e0a4"/>
<line x1="258.4" y1="255.9" x2="288.8" y2="265.6" stroke="#d05a70"/>
<line x1="332.8" y1="258.7" x2="334.9" y2="244.3" stroke="#f2e0a4"/>
<line x1="321.1" y1="179.4" x2="327.7" y2="201.7" stroke="#10062a"/>
<line x1="209.1" y1="295.4" x2="207.9" y2="263.5" stroke="#2e0e66"/>
<line x1="385.0" y1="233.5" x2="408.5" y2="216.4" stroke="#5a1e9a"/>
<line x1="230.0" y1="230.5" x2="248.3" y2="260.1" stroke="#d05a70"/>
<line x1="241.5" y1="281.2" x2="259.6" y2="254.9" stroke="#2e0e66"/>
<line x1="410.5" y1="244.8" x2="416.6" y2="279.1" stroke="#2e0e66"/>
<line x1="385.0" y1="275.2" x2="390.6" y2="265.1" stroke="#f2e0a4"/>
<line x1="257.4" y1="265.1" x2="263.6" y2="284.4" stroke="#e87258"/>
<line x1="210.8" y1="188.2" x2="229.9" y2="206.0" stroke="#e87258"/>
<line x1="369.8" y1="204.7" x2="382.2" y2="185.1" stroke="#10062a"/>
<line x1="337.3" y1="190.5" x2="337.0" y2="222.4" stroke="#f6a878"/>
<line x1="353.6" y1="262.3" x2="355.9" y2="270.7" stroke="#8a2a90"/>
<line x1="374.4" y1="238.8" x2="380.9" y2="251.8" stroke="#8a2a90"/>
<line x1="355.3" y1="205.1" x2="367.0" y2="188.5" stroke="#d05a70"/>
<line x1="400.7" y1="239.0" x2="408.9" y2="227.0" stroke="#10062a"/>
<line x1="367.3" y1="298.1" x2="369.4" y2="263.4" stroke="#e87258"/>
<line x1="289.7" y1="244.1" x2="309.0" y2="269.6" stroke="#d05a70"/>
<line x1="222.7" y1="234.6" x2="227.6" y2="241.8" stroke="#8a2a90"/>
<line x1="294.3" y1="204.2" x2="312.7" y2="233.7" stroke="#f2e0a4"/>
<line x1="261.4" y1="198.5" x2="271.7" y2="212.5" stroke="#5a1e9a"/>
<line x1="289.7" y1="255.0" x2="293.3" y2="237.9" stroke="#f2e0a4"/>
<line x1="289.6" y1="259.7" x2="290.6" y2="274.1" stroke="#e87258"/>
<line x1="223.8" y1="246.2" x2="216.2" y2="250.5" stroke="#8a2a90"/>
<line x1="290.4" y1="229.6" x2="297.9" y2="238.4" stroke="#5a1e9a"/>
<line x1="296.9" y1="250.3" x2="309.1" y2="230.6" stroke="#e87258"/>
<line x1="313.0" y1="240.5" x2="330.4" y2="225.2" stroke="#d05a70"/>
<line x1="423.7" y1="272.4" x2="428.4" y2="279.7" stroke="#5a1e9a"/>
<line x1="412.3" y1="206.1" x2="411.8" y2="191.6" stroke="#5a1e9a"/>
<line x1="334.7" y1="285.6" x2="340.6" y2="272.4" stroke="#8a2a90"/>
<line x1="290.9" y1="278.9" x2="292.3" y2="287.5" stroke="#f2e0a4"/>
<line x1="294.7" y1="199.1" x2="323.1" y2="213.7" stroke="#10062a"/>
<line x1="328.4" y1="273.4" x2="330.2" y2="247.4" stroke="#8a2a90"/>
<line x1="295.2" y1="253.4" x2="315.6" y2="232.7" stroke="#e87258"/>
<line x1="298.3" y1="251.1" x2="312.8" y2="272.8" stroke="#5a1e9a"/>
<line x1="336.0" y1="229.4" x2="330.3" y2="206.9" stroke="#e87258"/>
<line x1="398.1" y1="229.6" x2="394.4" y2="197.9" stroke="#d05a70"/>
<line x1="422.8" y1="198.8" x2="428.5" y2="221.3" stroke="#5a1e9a"/>
<line x1="313.5" y1="290.6" x2="324.9" y2="260.7" stroke="#2e0e66"/>
<line x1="231.8" y1="243.0" x2="236.8" y2="256.6" stroke="#f6a878"/>
<line x1="405.9" y1="197.1" x2="407.8" y2="182.7" stroke="#d05a70"/>
<line x1="343.9" y1="219.1" x2="355.5" y2="239.2" stroke="#d05a70"/>
<line x1="393.9" y1="263.3" x2="392.7" y2="248.8" stroke="#5a1e9a"/>
<line x1="302.4" y1="224.8" x2="312.1" y2="258.2" stroke="#5a1e9a"/>
<line x1="237.1" y1="241.0" x2="222.7" y2="242.7" stroke="#2e0e66"/>
<line x1="258.3" y1="214.4" x2="267.0" y2="189.8" stroke="#f2e0a4"/>
<line x1="402.3" y1="204.8" x2="405.3" y2="219.0" stroke="#5a1e9a"/>
<line x1="278.8" y1="256.8" x2="277.5" y2="282.9" stroke="#10062a"/>
<line x1="345.3" y1="261.0" x2="319.2" y2="261.9" stroke="#5a1e9a"/>
<line x1="271.8" y1="219.8" x2="276.7" y2="242.5" stroke="#f2e0a4"/>
<line x1="259.1" y1="264.2" x2="284.0" y2="244.2" stroke="#8a2a90"/>
<line x1="344.6" y1="279.7" x2="365.0" y2="251.4" stroke="#2e0e66"/>
<line x1="218.9" y1="262.1" x2="239.7" y2="278.0" stroke="#10062a"/>
<line x1="408.5" y1="210.3" x2="426.2" y2="191.1" stroke="#d05a70"/>
<line x1="314.1" y1="257.4" x2="299.8" y2="267.3" stroke="#f2e0a4"/>
<line x1="287.7" y1="191.6" x2="299.4" y2="200.0" stroke="#8a2a90"/>
<line x1="404.0" y1="253.4" x2="418.8" y2="271.3" stroke="#d05a70"/>
<line x1="252.5" y1="204.7" x2="256.4" y2="215.6" stroke="#10062a"/>
<line x1="263.4" y1="205.6" x2="285.9" y2="228.3" stroke="#10062a"/>
<line x1="401.9" y1="179.4" x2="417.0" y2="200.6" stroke="#e87258"/>
<line x1="427.3" y1="260.3" x2="420.9" y2="288.6" stroke="#f2e0a4"/>
<line x1="246.1" y1="178.3" x2="254.9" y2="202.8" stroke="#5a1e9a"/>
<line x1="331.4" y1="185.9" x2="313.3" y2="208.5" stroke="#8a2a90"/>
<line x1="287.6" y1="249.5" x2="314.1" y2="231.8" stroke="#f2e0a4"/>
<line x1="348.0" y1="253.4" x2="352.6" y2="267.1" stroke="#5a1e9a"/>
<line x1="302.0" y1="279.7" x2="313.4" y2="253.1" stroke="#f2e0a4"/>
<line x1="309.3" y1="250.6" x2="309.4" y2="276.7" stroke="#f2e0a4"/>
<line x1="378.0" y1="258.8" x2="343.7" y2="264.2" stroke="#d05a70"/>
<line x1="267.3" y1="232.6" x2="276.9" y2="256.9" stroke="#8a2a90"/>
<line x1="306.0" y1="238.5" x2="312.7" y2="244.1" stroke="#8a2a90"/>
<line x1="343.8" y1="183.7" x2="348.0" y2="209.5" stroke="#e87258"/>
<line x1="239.2" y1="255.6" x2="244.3" y2="287.1" stroke="#2e0e66"/>
<line x1="312.0" y1="208.8" x2="315.7" y2="219.8" stroke="#8a2a90"/>
<line x1="202.0" y1="224.4" x2="216.8" y2="196.1" stroke="#f2e0a4"/>
<line x1="278.2" y1="186.7" x2="299.3" y2="214.4" stroke="#10062a"/>
<line x1="273.9" y1="227.7" x2="267.8" y2="243.9" stroke="#8a2a90"/>
<line x1="363.0" y1="193.7" x2="364.4" y2="202.3" stroke="#2e0e66"/>
<line x1="400.5" y1="228.8" x2="399.4" y2="220.2" stroke="#d05a70"/>
<line x1="335.0" y1="198.3" x2="339.0" y2="230.0" stroke="#e87258"/>
<line x1="411.6" y1="257.4" x2="425.8" y2="260.6" stroke="#f2e0a4"/>
<line x1="345.7" y1="221.0" x2="357.6" y2="188.3" stroke="#f2e0a4"/>
<line x1="392.0" y1="241.6" x2="397.9" y2="254.9" stroke="#d05a70"/>
<line x1="304.8" y1="226.9" x2="312.9" y2="238.9" stroke="#d05a70"/>
<line x1="325.0" y1="212.2" x2="352.6" y2="196.2" stroke="#2e0e66"/>
<line x1="374.9" y1="204.0" x2="381.9" y2="194.7" stroke="#d05a70"/>
<line x1="394.4" y1="258.0" x2="401.0" y2="245.1" stroke="#10062a"/>
<line x1="348.4" y1="186.6" x2="368.6" y2="198.0" stroke="#5a1e9a"/>
<line x1="353.7" y1="272.6" x2="370.2" y2="242.0" stroke="#5a1e9a"/>
<line x1="414.8" y1="219.8" x2="416.8" y2="248.8" stroke="#2e0e66"/>
<line x1="247.7" y1="267.6" x2="252.4" y2="253.9" stroke="#e87258"/>
<line x1="294.0" y1="266.8" x2="301.5" y2="238.8" stroke="#5a1e9a"/>
<line x1="352.7" y1="258.5" x2="359.2" y2="239.2" stroke="#e87258"/>
<line x1="256.2" y1="203.3" x2="269.8" y2="214.2" stroke="#f6a878"/>
<line x1="215.1" y1="225.5" x2="218.0" y2="233.7" stroke="#e87258"/>
<line x1="405.5" y1="219.5" x2="394.0" y2="220.9" stroke="#8a2a90"/>
<line x1="198.5" y1="218.3" x2="222.7" y2="234.2" stroke="#d05a70"/>
<line x1="392.7" y1="231.6" x2="388.9" y2="263.3" stroke="#5a1e9a"/>
<line x1="389.4" y1="244.0" x2="398.0" y2="219.4" stroke="#5a1e9a"/>
<line x1="338.3" y1="205.6" x2="347.8" y2="199.0" stroke="#8a2a90"/>
<line x1="364.6" y1="260.8" x2="360.4" y2="277.7" stroke="#8a2a90"/>
<line x1="419.3" y1="255.0" x2="429.5" y2="288.3" stroke="#10062a"/>
<line x1="292.6" y1="197.9" x2="303.3" y2="231.0" stroke="#2e0e66"/>
<line x1="204.4" y1="283.6" x2="212.3" y2="258.7" stroke="#10062a"/>
<line x1="255.2" y1="243.4" x2="263.6" y2="228.2" stroke="#f2e0a4"/>
<line x1="419.7" y1="247.0" x2="420.2" y2="238.3" stroke="#e87258"/>
<line x1="340.4" y1="252.7" x2="357.6" y2="255.2" stroke="#5a1e9a"/>
<line x1="223.6" y1="226.5" x2="230.0" y2="245.8" stroke="#10062a"/>
<line x1="209.7" y1="200.8" x2="226.0" y2="221.2" stroke="#2e0e66"/>
<line x1="303.1" y1="289.9" x2="307.2" y2="261.2" stroke="#d05a70"/>
<line x1="321.4" y1="220.5" x2="329.5" y2="251.4" stroke="#10062a"/>
<line x1="401.3" y1="251.1" x2="414.2" y2="280.3" stroke="#f2e0a4"/>
<line x1="355.7" y1="263.0" x2="343.9" y2="271.4" stroke="#5a1e9a"/>
<line x1="387.8" y1="201.2" x2="394.9" y2="188.6" stroke="#f6a878"/>
<line x1="374.5" y1="249.7" x2="362.3" y2="257.5" stroke="#8a2a90"/>
<line x1="378.5" y1="239.7" x2="385.9" y2="248.6" stroke="#d05a70"/>
<line x1="331.1" y1="223.7" x2="338.3" y2="207.9" stroke="#e87258"/>
<line x1="325.2" y1="243.7" x2="330.8" y2="278.0" stroke="#d05a70"/>
<line x1="220.8" y1="207.8" x2="214.9" y2="236.2" stroke="#d05a70"/>
<line x1="401.2" y1="264.2" x2="397.1" y2="289.9" stroke="#f2e0a4"/>
<line x1="222.5" y1="211.0" x2="234.7" y2="243.6" stroke="#8a2a90"/>
<line x1="204.5" y1="204.5" x2="218.9" y2="229.6" stroke="#5a1e9a"/>
<line x1="347.8" y1="205.1" x2="353.9" y2="214.9" stroke="#8a2a90"/>
<line x1="239.5" y1="185.2" x2="261.1" y2="208.7" stroke="#5a1e9a"/>
<line x1="340.4" y1="233.4" x2="353.9" y2="201.3" stroke="#e87258"/>
<line x1="231.9" y1="282.2" x2="233.7" y2="247.5" stroke="#f2e0a4"/>
</g>
<rect x="216.5" y="199.5" width="200.2" height="74.0" rx="4" fill="none" stroke="#d2552a" stroke-width="3.4"/>
</g>
<line x1="221.9" y1="133.3" x2="207.5" y2="140.6" stroke="#1e0838" stroke-width="2.5" stroke-linecap="round" stroke-dasharray="0 4.03"/>
<path d="M199.0,145.0 L204.5,140.5 L205.9,143.4 Z" fill="#fff" stroke="#1e0838" stroke-width="1.4" stroke-linejoin="miter"/>
<line x1="214.8" y1="276.8" x2="214.8" y2="299.5" stroke="#a01830" stroke-width="2.3" stroke-dasharray="1.8 1.3"/>
<path d="M212.7,300.2 L214.8,307.6 L216.9,300.2 Z" fill="#e8b0b8" stroke="#a01830" stroke-width="1.4"/>
<rect x="58.3" y="17.5" width="365.4" height="340.2" fill="none" stroke="#222" stroke-width="1.25"/>
<g stroke="#000" stroke-width="1.1"><line x1="53.4" y1="342.1" x2="58.3" y2="342.1"/><line x1="53.4" y1="273.9" x2="58.3" y2="273.9"/><line x1="53.4" y1="205.7" x2="58.3" y2="205.7"/><line x1="53.4" y1="137.5" x2="58.3" y2="137.5"/><line x1="53.4" y1="69.3" x2="58.3" y2="69.3"/><line x1="74.6" y1="357.7" x2="74.6" y2="362.6"/><line x1="152.7" y1="357.7" x2="152.7" y2="362.6"/><line x1="230.8" y1="357.7" x2="230.8" y2="362.6"/><line x1="308.9" y1="357.7" x2="308.9" y2="362.6"/><line x1="387.0" y1="357.7" x2="387.0" y2="362.6"/></g>
<rect x="446.4" y="17.5" width="17.6" height="340.1" fill="url(#cb)" stroke="#000" stroke-width="1.1"/>
<g stroke="#000" stroke-width="1.1"><line x1="464.0" y1="357.6" x2="468.9" y2="357.6"/><line x1="464.0" y1="308.5" x2="468.9" y2="308.5"/><line x1="464.0" y1="259.3" x2="468.9" y2="259.3"/><line x1="464.0" y1="210.2" x2="468.9" y2="210.2"/><line x1="464.0" y1="161.0" x2="468.9" y2="161.0"/><line x1="464.0" y1="111.9" x2="468.9" y2="111.9"/><line x1="464.0" y1="62.7" x2="468.9" y2="62.7"/></g>
<g font-family="DejaVu Sans, Liberation Sans, sans-serif" font-size="16.6" fill="#000">
<text x="49.8" y="343.6" text-anchor="end" dominant-baseline="central">0.0</text>
<text x="49.8" y="275.4" text-anchor="end" dominant-baseline="central">0.2</text>
<text x="49.8" y="207.2" text-anchor="end" dominant-baseline="central">0.4</text>
<text x="49.8" y="139.0" text-anchor="end" dominant-baseline="central">0.6</text>
<text x="49.8" y="70.8" text-anchor="end" dominant-baseline="central">0.8</text>
<text x="74.6" y="379.6" text-anchor="middle">0</text>
<text x="152.7" y="379.6" text-anchor="middle">20</text>
<text x="230.8" y="379.6" text-anchor="middle">40</text>
<text x="308.9" y="379.6" text-anchor="middle">60</text>
<text x="387.0" y="379.6" text-anchor="middle">80</text>
<text x="472.5" y="359.1" dominant-baseline="central">0.0</text>
<text x="472.5" y="310.0" dominant-baseline="central">0.2</text>
<text x="472.5" y="260.8" dominant-baseline="central">0.4</text>
<text x="472.5" y="211.7" dominant-baseline="central">0.6</text>
<text x="472.5" y="162.5" dominant-baseline="central">0.8</text>
<text x="472.5" y="113.4" dominant-baseline="central">1.0</text>
<text x="472.5" y="64.2" dominant-baseline="central">1.2</text>
<text x="463.3" y="13.4" text-anchor="end">1e7</text>
<text x="241" y="401" text-anchor="middle">Particle Separation</text>
<text transform="translate(13.8,187.6) rotate(-90)" text-anchor="middle">Correlation Function</text>
<text transform="translate(505.6,188) rotate(90)" text-anchor="middle">Number of Time Steps</text>
</g>
</svg>
</body></html>
